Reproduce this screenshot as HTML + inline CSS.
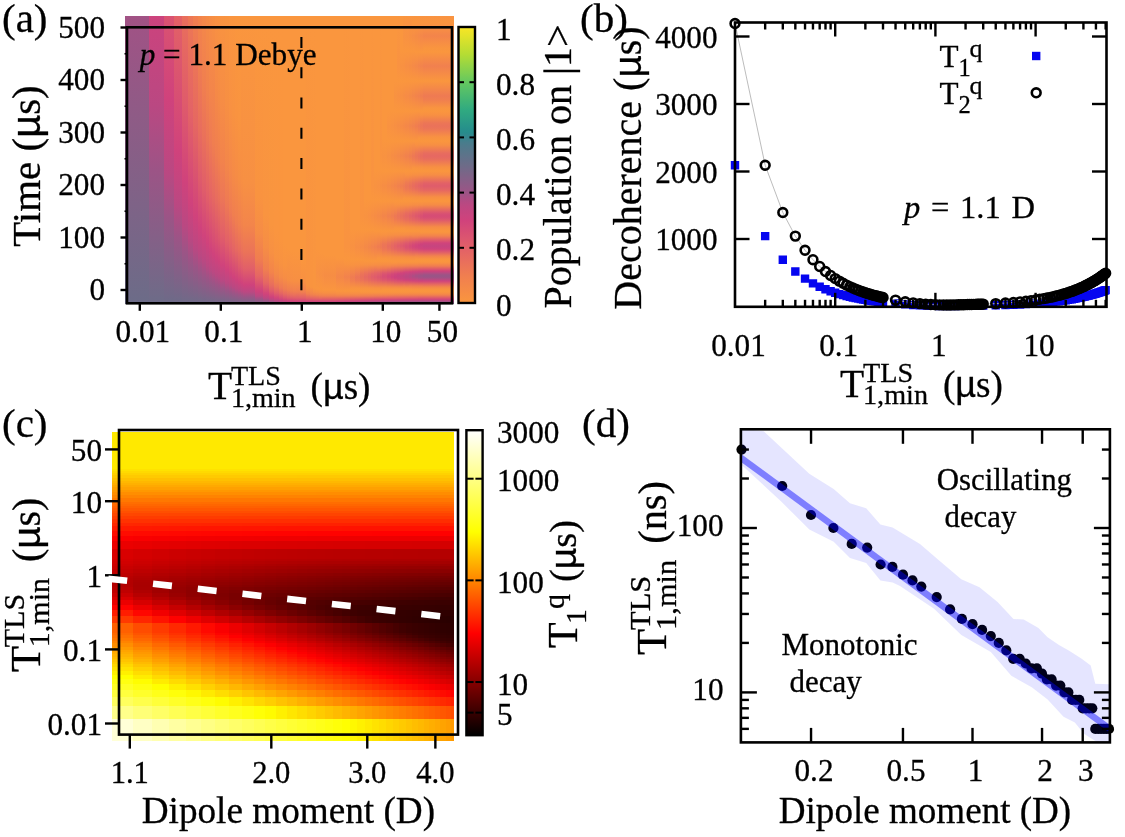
<!DOCTYPE html>
<html lang="en">
<head>
<meta charset="utf-8">
<title>Qubit decoherence versus TLS relaxation time</title>
<style>
html,body{margin:0;padding:0;background:#fff}
svg{display:block}
text{font-family:"Liberation Serif", "Times New Roman", Times, serif;fill:#000;stroke:#000;stroke-width:0.3px}
.mu{font-family:"Liberation Sans", "DejaVu Sans", sans-serif;font-size:0.97em}

</style>
</head>
<body>
<svg width="1125" height="837" viewBox="0 0 1125 837">
<defs>
<linearGradient id="a0" x1="0" y1="0" x2="0" y2="1"><stop offset="0" stop-color="#a15285"/><stop offset="1" stop-color="#6c6c88"/></linearGradient>
<linearGradient id="a1" x1="0" y1="0" x2="0" y2="1"><stop offset="0" stop-color="#cc437d"/><stop offset="0.3125" stop-color="#ba4882"/><stop offset="0.5347" stop-color="#9c5486"/><stop offset="1" stop-color="#6d6c88"/></linearGradient>
<linearGradient id="a2" x1="0" y1="0" x2="0" y2="1"><stop offset="0" stop-color="#da5371"/><stop offset="0.2882" stop-color="#d0427c"/><stop offset="0.5451" stop-color="#ba4882"/><stop offset="0.6944" stop-color="#9c5486"/><stop offset="1" stop-color="#6d6b88"/></linearGradient>
<linearGradient id="a3" x1="0" y1="0" x2="0" y2="1"><stop offset="0" stop-color="#e36266"/><stop offset="0.4688" stop-color="#d0427c"/><stop offset="0.5938" stop-color="#c24680"/><stop offset="0.6597" stop-color="#ba4882"/><stop offset="0.7708" stop-color="#9c5486"/><stop offset="1" stop-color="#6d6b88"/></linearGradient>
<linearGradient id="a4" x1="0" y1="0" x2="0" y2="1"><stop offset="0" stop-color="#e96f5c"/><stop offset="0.3021" stop-color="#df5b6b"/><stop offset="0.5764" stop-color="#d0427c"/><stop offset="0.7292" stop-color="#ba4882"/><stop offset="0.8194" stop-color="#9c5486"/><stop offset="1" stop-color="#6e6b88"/></linearGradient>
<linearGradient id="a5" x1="0" y1="0" x2="0" y2="1"><stop offset="0" stop-color="#ed7855"/><stop offset="0.3438" stop-color="#e36267"/><stop offset="0.6493" stop-color="#d0427c"/><stop offset="0.7743" stop-color="#ba4882"/><stop offset="0.8507" stop-color="#9c5486"/><stop offset="1" stop-color="#6e6b88"/></linearGradient>
<linearGradient id="a6" x1="0" y1="0" x2="0" y2="1"><stop offset="0" stop-color="#f17f4f"/><stop offset="0.3785" stop-color="#e56762"/><stop offset="0.6979" stop-color="#d0427c"/><stop offset="0.809" stop-color="#ba4882"/><stop offset="0.8715" stop-color="#9c5486"/><stop offset="1" stop-color="#6e6b88"/></linearGradient>
<linearGradient id="a7" x1="0" y1="0" x2="0" y2="1"><stop offset="0" stop-color="#f3844b"/><stop offset="0.1771" stop-color="#ef7d51"/><stop offset="0.3993" stop-color="#e86d5e"/><stop offset="0.5764" stop-color="#de5a6c"/><stop offset="0.7361" stop-color="#d0427c"/><stop offset="0.8333" stop-color="#ba4882"/><stop offset="0.8889" stop-color="#9c5486"/><stop offset="1" stop-color="#6f6b88"/></linearGradient>
<linearGradient id="a8" x1="0" y1="0" x2="0" y2="1"><stop offset="0" stop-color="#f48849"/><stop offset="0.25" stop-color="#f07e50"/><stop offset="0.4167" stop-color="#ea715a"/><stop offset="0.6007" stop-color="#e05d6a"/><stop offset="0.7639" stop-color="#d0437c"/><stop offset="0.8507" stop-color="#ba4882"/><stop offset="0.9028" stop-color="#9c5486"/><stop offset="1" stop-color="#6f6a88"/></linearGradient>
<linearGradient id="a9" x1="0" y1="0" x2="0" y2="1"><stop offset="0" stop-color="#f58b46"/><stop offset="0.2708" stop-color="#f1814e"/><stop offset="0.434" stop-color="#ec7557"/><stop offset="0.625" stop-color="#e25f69"/><stop offset="0.7882" stop-color="#d0427c"/><stop offset="0.8681" stop-color="#ba4882"/><stop offset="0.9132" stop-color="#9b5486"/><stop offset="1" stop-color="#706a88"/></linearGradient>
<linearGradient id="a10" x1="0" y1="0" x2="0" y2="1"><stop offset="0" stop-color="#f68d45"/><stop offset="0.2604" stop-color="#f3854b"/><stop offset="0.441" stop-color="#ee7a54"/><stop offset="0.6285" stop-color="#e46465"/><stop offset="0.7917" stop-color="#d34679"/><stop offset="0.8125" stop-color="#cf427c"/><stop offset="0.8785" stop-color="#bb4882"/><stop offset="0.9201" stop-color="#9c5486"/><stop offset="1" stop-color="#706a88"/></linearGradient>
<linearGradient id="a11" x1="0" y1="0" x2="0" y2="1"><stop offset="0" stop-color="#f78f43"/><stop offset="0.441" stop-color="#f07e50"/><stop offset="0.625" stop-color="#e66961"/><stop offset="0.7812" stop-color="#d64d75"/><stop offset="0.8264" stop-color="#d0427c"/><stop offset="0.8889" stop-color="#bb4882"/><stop offset="0.9271" stop-color="#9c5486"/><stop offset="1" stop-color="#706a88"/></linearGradient>
<linearGradient id="a12" x1="0" y1="0" x2="0" y2="1"><stop offset="0" stop-color="#f89142"/><stop offset="0.2708" stop-color="#f58947"/><stop offset="0.4826" stop-color="#f07e50"/><stop offset="0.6389" stop-color="#e76c5f"/><stop offset="0.7743" stop-color="#da5271"/><stop offset="0.8403" stop-color="#d0427c"/><stop offset="0.8993" stop-color="#ba4882"/><stop offset="0.934" stop-color="#9c5486"/><stop offset="1" stop-color="#716a88"/></linearGradient>
<linearGradient id="a13" x1="0" y1="0" x2="0" y2="1"><stop offset="0" stop-color="#f89241"/><stop offset="0.2847" stop-color="#f58b46"/><stop offset="0.5035" stop-color="#f17f4f"/><stop offset="0.6424" stop-color="#e96f5c"/><stop offset="0.7674" stop-color="#dd586d"/><stop offset="0.8507" stop-color="#d0427c"/><stop offset="0.9062" stop-color="#ba4882"/><stop offset="0.9375" stop-color="#9d5386"/><stop offset="1" stop-color="#716a88"/></linearGradient>
<linearGradient id="a14" x1="0" y1="0" x2="0" y2="1"><stop offset="0" stop-color="#f99340"/><stop offset="0.2882" stop-color="#f68d45"/><stop offset="0.5" stop-color="#f2834c"/><stop offset="0.6319" stop-color="#ec7657"/><stop offset="0.7639" stop-color="#e15e69"/><stop offset="0.8646" stop-color="#d0437c"/><stop offset="0.9097" stop-color="#bd4781"/><stop offset="0.9167" stop-color="#ba4882"/><stop offset="0.9444" stop-color="#9d5486"/><stop offset="1" stop-color="#716988"/></linearGradient>
<linearGradient id="a15" x1="0" y1="0" x2="0" y2="1"><stop offset="0" stop-color="#f9943f"/><stop offset="0.3056" stop-color="#f78f43"/><stop offset="0.5208" stop-color="#f3864a"/><stop offset="0.6528" stop-color="#ee7954"/><stop offset="0.7847" stop-color="#e26068"/><stop offset="0.8819" stop-color="#d0427c"/><stop offset="0.9167" stop-color="#bf4781"/><stop offset="0.9271" stop-color="#ba4882"/><stop offset="0.9514" stop-color="#9d5486"/><stop offset="1" stop-color="#726988"/></linearGradient>
<linearGradient id="a16" x1="0" y1="0" x2="0" y2="1"><stop offset="0" stop-color="#fa953f"/><stop offset="0.3229" stop-color="#f89142"/><stop offset="0.5417" stop-color="#f48849"/><stop offset="0.6736" stop-color="#ef7c52"/><stop offset="0.8056" stop-color="#e26068"/><stop offset="0.8958" stop-color="#d0427c"/><stop offset="0.934" stop-color="#ba4882"/><stop offset="0.9583" stop-color="#9b5486"/><stop offset="1" stop-color="#736988"/></linearGradient>
<linearGradient id="a17" x1="0" y1="0" x2="0" y2="1"><stop offset="0" stop-color="#fa953f"/><stop offset="0.3403" stop-color="#f89241"/><stop offset="0.5556" stop-color="#f58a47"/><stop offset="0.691" stop-color="#f07e50"/><stop offset="0.816" stop-color="#e36366"/><stop offset="0.9062" stop-color="#d0427c"/><stop offset="0.9236" stop-color="#c5457f"/><stop offset="0.941" stop-color="#ba4882"/><stop offset="0.9618" stop-color="#9d5486"/><stop offset="1" stop-color="#736888"/></linearGradient>
<linearGradient id="a18" x1="0" y1="0" x2="0" y2="1"><stop offset="0" stop-color="#fa963e"/><stop offset="0.3438" stop-color="#f99340"/><stop offset="0.5556" stop-color="#f68c45"/><stop offset="0.7153" stop-color="#f07e50"/><stop offset="0.8125" stop-color="#e66961"/><stop offset="0.9167" stop-color="#ce427c"/><stop offset="0.9479" stop-color="#b94982"/><stop offset="0.9653" stop-color="#9d5486"/><stop offset="1" stop-color="#746888"/></linearGradient>
<linearGradient id="a19" x1="0" y1="0" x2="0" y2="1"><stop offset="0" stop-color="#fa963e"/><stop offset="0.3576" stop-color="#f99440"/><stop offset="0.566" stop-color="#f68e44"/><stop offset="0.7257" stop-color="#f1804f"/><stop offset="0.816" stop-color="#e86c5e"/><stop offset="0.8681" stop-color="#df5b6b"/><stop offset="0.9236" stop-color="#cf427c"/><stop offset="0.9514" stop-color="#ba4882"/><stop offset="0.9688" stop-color="#9d5486"/><stop offset="1" stop-color="#756888"/></linearGradient>
<linearGradient id="a20" x1="0" y1="0" x2="0" y2="1"><stop offset="0" stop-color="#fa963e"/><stop offset="0.5694" stop-color="#f78f43"/><stop offset="0.7222" stop-color="#f2834c"/><stop offset="0.816" stop-color="#ea715b"/><stop offset="0.875" stop-color="#e05c6b"/><stop offset="0.9271" stop-color="#d0427c"/><stop offset="0.9549" stop-color="#bb4882"/><stop offset="0.9722" stop-color="#9c5486"/><stop offset="1" stop-color="#766788"/></linearGradient>
<linearGradient id="a21" x1="0" y1="0" x2="0" y2="1"><stop offset="0" stop-color="#fa963e"/><stop offset="0.5799" stop-color="#f79043"/><stop offset="0.7257" stop-color="#f3854b"/><stop offset="0.8194" stop-color="#eb7358"/><stop offset="0.8785" stop-color="#e15f69"/><stop offset="0.934" stop-color="#cf427c"/><stop offset="0.9583" stop-color="#bb4882"/><stop offset="0.9757" stop-color="#9a5586"/><stop offset="1" stop-color="#766788"/></linearGradient>
<linearGradient id="a22" x1="0" y1="0" x2="0" y2="1"><stop offset="0" stop-color="#fa963e"/><stop offset="0.6285" stop-color="#f99340"/><stop offset="0.7535" stop-color="#f68c46"/><stop offset="0.8438" stop-color="#f07d50"/><stop offset="0.9028" stop-color="#e56664"/><stop offset="0.9549" stop-color="#cf427c"/><stop offset="0.9722" stop-color="#bb4882"/><stop offset="0.9826" stop-color="#9e5386"/><stop offset="1" stop-color="#7a6587"/></linearGradient>
<linearGradient id="a23" x1="0" y1="0" x2="0" y2="1"><stop offset="0" stop-color="#fa963e"/><stop offset="0.691" stop-color="#f99440"/><stop offset="0.8021" stop-color="#f68d45"/><stop offset="0.8785" stop-color="#f07f4f"/><stop offset="0.9271" stop-color="#e56663"/><stop offset="0.9653" stop-color="#d1437b"/><stop offset="0.9792" stop-color="#bd4781"/><stop offset="0.9896" stop-color="#9a5586"/><stop offset="1" stop-color="#7f6387"/></linearGradient>
<linearGradient id="a24" x1="0" y1="0" x2="0" y2="1"><stop offset="0" stop-color="#fa963e"/><stop offset="0.7257" stop-color="#f9953f"/><stop offset="0.8229" stop-color="#f79043"/><stop offset="0.8889" stop-color="#f3844b"/><stop offset="0.934" stop-color="#e86e5d"/><stop offset="0.9549" stop-color="#df5b6b"/><stop offset="0.9722" stop-color="#d24679"/><stop offset="0.9757" stop-color="#ce427c"/><stop offset="0.9861" stop-color="#ba4882"/><stop offset="0.9931" stop-color="#9a5586"/><stop offset="1" stop-color="#836087"/></linearGradient>
<linearGradient id="a25" x1="0" y1="0" x2="0" y2="1"><stop offset="0" stop-color="#fa963e"/><stop offset="0.75" stop-color="#fa953f"/><stop offset="0.8403" stop-color="#f89241"/><stop offset="0.8958" stop-color="#f48948"/><stop offset="0.9236" stop-color="#f07f4f"/><stop offset="0.941" stop-color="#eb7359"/><stop offset="0.9618" stop-color="#e15e69"/><stop offset="0.9792" stop-color="#d2457a"/><stop offset="0.9896" stop-color="#ba4882"/><stop offset="1" stop-color="#885e87"/></linearGradient>
<linearGradient id="a26" x1="0" y1="0" x2="0" y2="1"><stop offset="0" stop-color="#fa963e"/><stop offset="0.7778" stop-color="#fa953e"/><stop offset="0.8576" stop-color="#f89241"/><stop offset="0.9062" stop-color="#f58b47"/><stop offset="0.9444" stop-color="#ee7954"/><stop offset="0.9618" stop-color="#e56762"/><stop offset="0.9792" stop-color="#d64d75"/><stop offset="0.9861" stop-color="#cc437d"/><stop offset="0.9896" stop-color="#c24680"/><stop offset="0.9931" stop-color="#b54a83"/><stop offset="0.9965" stop-color="#9e5386"/><stop offset="1" stop-color="#8d5c87"/></linearGradient>
<linearGradient id="a27" x1="0" y1="0" x2="0" y2="1"><stop offset="0" stop-color="#fa963e"/><stop offset="0.7917" stop-color="#fa963e"/><stop offset="0.8646" stop-color="#f99340"/><stop offset="0.9097" stop-color="#f68d45"/><stop offset="0.9479" stop-color="#ef7d51"/><stop offset="0.9653" stop-color="#e76a60"/><stop offset="0.9792" stop-color="#db5470"/><stop offset="0.9861" stop-color="#d2457a"/><stop offset="0.9931" stop-color="#bd4781"/><stop offset="1" stop-color="#915986"/></linearGradient>
<linearGradient id="a28" x1="0" y1="0" x2="0" y2="1"><stop offset="0" stop-color="#fa963e"/><stop offset="0.8056" stop-color="#fa963e"/><stop offset="0.9167" stop-color="#f68e44"/><stop offset="0.9514" stop-color="#f07e50"/><stop offset="0.9653" stop-color="#e96f5c"/><stop offset="0.9792" stop-color="#de596d"/><stop offset="0.9896" stop-color="#ce437d"/><stop offset="0.9931" stop-color="#c24680"/><stop offset="0.9965" stop-color="#af4c83"/><stop offset="1" stop-color="#955886"/></linearGradient>
<linearGradient id="a29" x1="0" y1="0" x2="0" y2="1"><stop offset="0" stop-color="#fa963e"/><stop offset="0.8125" stop-color="#fa963e"/><stop offset="0.9201" stop-color="#f78e44"/><stop offset="0.9549" stop-color="#f07e50"/><stop offset="0.9688" stop-color="#e96e5d"/><stop offset="0.9792" stop-color="#e05c6a"/><stop offset="0.9896" stop-color="#d1447b"/><stop offset="0.9931" stop-color="#c5457f"/><stop offset="0.9965" stop-color="#b44a83"/><stop offset="1" stop-color="#975686"/></linearGradient>
<linearGradient id="a30" x1="0" y1="0" x2="0" y2="1"><stop offset="0" stop-color="#fa963e"/><stop offset="0.816" stop-color="#fa963e"/><stop offset="0.9201" stop-color="#f78f43"/><stop offset="0.9549" stop-color="#f1804f"/><stop offset="0.9688" stop-color="#ea705b"/><stop offset="0.9792" stop-color="#e15e69"/><stop offset="0.9896" stop-color="#d2457a"/><stop offset="0.9931" stop-color="#c7447e"/><stop offset="0.9965" stop-color="#b84982"/><stop offset="1" stop-color="#995686"/></linearGradient>
<linearGradient id="a31" x1="0" y1="0" x2="0" y2="1"><stop offset="0" stop-color="#fa963e"/><stop offset="0.816" stop-color="#fa963e"/><stop offset="0.9201" stop-color="#f78f43"/><stop offset="0.9583" stop-color="#f07d50"/><stop offset="0.9792" stop-color="#e15f69"/><stop offset="0.9896" stop-color="#d24679"/><stop offset="0.9931" stop-color="#c8447e"/><stop offset="0.9965" stop-color="#b94982"/><stop offset="1" stop-color="#995586"/></linearGradient>
<linearGradient id="a32" x1="0" y1="0" x2="0" y2="1"><stop offset="0" stop-color="#fa963e"/><stop offset="0.816" stop-color="#fa963e"/><stop offset="0.9201" stop-color="#f78f43"/><stop offset="0.9549" stop-color="#f1804f"/><stop offset="0.9688" stop-color="#ea705b"/><stop offset="0.9792" stop-color="#e15f69"/><stop offset="0.9896" stop-color="#d2457a"/><stop offset="0.9931" stop-color="#c7447e"/><stop offset="0.9965" stop-color="#b84982"/><stop offset="1" stop-color="#995686"/></linearGradient>
<linearGradient id="a33" x1="0" y1="0" x2="0" y2="1"><stop offset="0" stop-color="#fa963e"/><stop offset="0.8438" stop-color="#fa963e"/><stop offset="0.9236" stop-color="#f89042"/><stop offset="0.9583" stop-color="#f17f4f"/><stop offset="0.9792" stop-color="#e25f68"/><stop offset="0.9896" stop-color="#d2457a"/><stop offset="0.9931" stop-color="#c7447e"/><stop offset="0.9965" stop-color="#b74982"/><stop offset="1" stop-color="#985686"/></linearGradient>
<linearGradient id="a34" x1="0" y1="0" x2="0" y2="1"><stop offset="0" stop-color="#fa963e"/><stop offset="0.934" stop-color="#f99340"/><stop offset="0.9514" stop-color="#f68c45"/><stop offset="0.9653" stop-color="#f17f4f"/><stop offset="0.9826" stop-color="#e05c6b"/><stop offset="0.9896" stop-color="#d34778"/><stop offset="0.9931" stop-color="#c8447e"/><stop offset="0.9965" stop-color="#b74982"/><stop offset="1" stop-color="#975686"/></linearGradient>
<linearGradient id="a35" x1="0" y1="0" x2="0" y2="1"><stop offset="0" stop-color="#fa963e"/><stop offset="0.941" stop-color="#f9943f"/><stop offset="0.9653" stop-color="#f2844c"/><stop offset="0.9722" stop-color="#ed7855"/><stop offset="0.9826" stop-color="#e15e69"/><stop offset="0.9896" stop-color="#d44878"/><stop offset="0.9931" stop-color="#c8447e"/><stop offset="0.9965" stop-color="#b64a83"/><stop offset="1" stop-color="#965786"/></linearGradient>
<linearGradient id="a36" x1="0" y1="0" x2="0" y2="1"><stop offset="0" stop-color="#fa963e"/><stop offset="0.9444" stop-color="#f9953f"/><stop offset="0.9583" stop-color="#f68e44"/><stop offset="0.9688" stop-color="#f1814d"/><stop offset="0.9826" stop-color="#e26068"/><stop offset="0.9896" stop-color="#d44978"/><stop offset="0.9931" stop-color="#c8447e"/><stop offset="0.9965" stop-color="#b54a83"/><stop offset="1" stop-color="#955786"/></linearGradient>
<linearGradient id="a37" x1="0" y1="0" x2="0" y2="1"><stop offset="0" stop-color="#fa963e"/><stop offset="0.809" stop-color="#fa963e"/><stop offset="0.8924" stop-color="#f89142"/><stop offset="0.9479" stop-color="#f9953f"/><stop offset="0.9583" stop-color="#f78f43"/><stop offset="0.9688" stop-color="#f2834c"/><stop offset="0.9826" stop-color="#e26167"/><stop offset="0.9896" stop-color="#d44978"/><stop offset="0.9931" stop-color="#c8447e"/><stop offset="0.9965" stop-color="#b44b83"/><stop offset="1" stop-color="#945886"/></linearGradient>
<linearGradient id="a38" x1="0" y1="0" x2="0" y2="1"><stop offset="0" stop-color="#fa963e"/><stop offset="0.8194" stop-color="#fa963e"/><stop offset="0.8958" stop-color="#f79043"/><stop offset="0.9479" stop-color="#fa953e"/><stop offset="0.9583" stop-color="#f89042"/><stop offset="0.9688" stop-color="#f3854b"/><stop offset="0.9757" stop-color="#ec7656"/><stop offset="0.9826" stop-color="#e36267"/><stop offset="0.9896" stop-color="#d44978"/><stop offset="0.9931" stop-color="#c7447e"/><stop offset="0.9965" stop-color="#b24b83"/><stop offset="1" stop-color="#945886"/></linearGradient>
<linearGradient id="a39" x1="0" y1="0" x2="0" y2="1"><stop offset="0" stop-color="#fa963e"/><stop offset="0.8229" stop-color="#fa963e"/><stop offset="0.8993" stop-color="#f78f44"/><stop offset="0.9514" stop-color="#fa953f"/><stop offset="0.9618" stop-color="#f78e44"/><stop offset="0.9722" stop-color="#f1804f"/><stop offset="0.9861" stop-color="#dc566f"/><stop offset="0.9896" stop-color="#d44978"/><stop offset="0.9931" stop-color="#c7447e"/><stop offset="0.9965" stop-color="#b14c83"/><stop offset="1" stop-color="#935986"/></linearGradient>
<linearGradient id="a40" x1="0" y1="0" x2="0" y2="1"><stop offset="0" stop-color="#fa963e"/><stop offset="0.8299" stop-color="#fa963e"/><stop offset="0.9028" stop-color="#f68d44"/><stop offset="0.9514" stop-color="#fa953f"/><stop offset="0.9618" stop-color="#f78f43"/><stop offset="0.9722" stop-color="#f1804e"/><stop offset="0.9861" stop-color="#dc566f"/><stop offset="0.9896" stop-color="#d44878"/><stop offset="0.9931" stop-color="#c7457f"/><stop offset="0.9965" stop-color="#b04c83"/><stop offset="1" stop-color="#925986"/></linearGradient>
<linearGradient id="a41" x1="0" y1="0" x2="0" y2="1"><stop offset="0" stop-color="#fa963e"/><stop offset="0.8403" stop-color="#fa963e"/><stop offset="0.9062" stop-color="#f48749"/><stop offset="0.9549" stop-color="#fa953f"/><stop offset="0.9653" stop-color="#f68d45"/><stop offset="0.9722" stop-color="#f1814d"/><stop offset="0.9861" stop-color="#db5470"/><stop offset="0.9896" stop-color="#d24679"/><stop offset="0.9931" stop-color="#c3457f"/><stop offset="1" stop-color="#8e5b87"/></linearGradient>
<linearGradient id="a42" x1="0" y1="0" x2="0" y2="1"><stop offset="0" stop-color="#fa963e"/><stop offset="0.7986" stop-color="#f99340"/><stop offset="0.8438" stop-color="#fa963e"/><stop offset="0.8611" stop-color="#f99340"/><stop offset="0.9062" stop-color="#f2824d"/><stop offset="0.9549" stop-color="#fa963e"/><stop offset="0.9653" stop-color="#f68d45"/><stop offset="0.9722" stop-color="#f1814e"/><stop offset="0.9861" stop-color="#d95272"/><stop offset="0.9896" stop-color="#d1437b"/><stop offset="0.9931" stop-color="#c04680"/><stop offset="1" stop-color="#8b5c87"/></linearGradient>
<linearGradient id="a43" x1="0" y1="0" x2="0" y2="1"><stop offset="0" stop-color="#fa963e"/><stop offset="0.7396" stop-color="#fa963e"/><stop offset="0.7986" stop-color="#f89142"/><stop offset="0.8472" stop-color="#fa963e"/><stop offset="0.8646" stop-color="#f89241"/><stop offset="0.9062" stop-color="#ef7c52"/><stop offset="0.9201" stop-color="#f1804e"/><stop offset="0.9444" stop-color="#f99340"/><stop offset="0.9549" stop-color="#fa963e"/><stop offset="0.9653" stop-color="#f68d45"/><stop offset="0.9722" stop-color="#f1804e"/><stop offset="0.9861" stop-color="#d84f73"/><stop offset="0.9896" stop-color="#ce427c"/><stop offset="0.9931" stop-color="#bd4781"/><stop offset="0.9965" stop-color="#9d5486"/><stop offset="1" stop-color="#895e87"/></linearGradient>
<linearGradient id="a44" x1="0" y1="0" x2="0" y2="1"><stop offset="0" stop-color="#fa963e"/><stop offset="0.7396" stop-color="#fa963e"/><stop offset="0.8021" stop-color="#f78e44"/><stop offset="0.8472" stop-color="#fa963e"/><stop offset="0.8646" stop-color="#f89142"/><stop offset="0.9062" stop-color="#ec7557"/><stop offset="0.9167" stop-color="#ed7854"/><stop offset="0.9444" stop-color="#f99340"/><stop offset="0.9549" stop-color="#fa963e"/><stop offset="0.9653" stop-color="#f68d45"/><stop offset="0.9722" stop-color="#f1804f"/><stop offset="0.9861" stop-color="#d64d75"/><stop offset="0.9896" stop-color="#cb437d"/><stop offset="0.9931" stop-color="#ba4882"/><stop offset="0.9965" stop-color="#9a5586"/><stop offset="1" stop-color="#865f87"/></linearGradient>
<linearGradient id="a45" x1="0" y1="0" x2="0" y2="1"><stop offset="0" stop-color="#fa963e"/><stop offset="0.6944" stop-color="#f99340"/><stop offset="0.7431" stop-color="#fa963e"/><stop offset="0.8021" stop-color="#f68c46"/><stop offset="0.8472" stop-color="#fa963e"/><stop offset="0.8646" stop-color="#f89042"/><stop offset="0.8958" stop-color="#eb7358"/><stop offset="0.9062" stop-color="#e96f5c"/><stop offset="0.9167" stop-color="#eb7359"/><stop offset="0.9444" stop-color="#f89241"/><stop offset="0.9549" stop-color="#fa963e"/><stop offset="0.9618" stop-color="#f89141"/><stop offset="0.9722" stop-color="#f07f4f"/><stop offset="0.9861" stop-color="#d54b76"/><stop offset="0.9896" stop-color="#c9447e"/><stop offset="0.9931" stop-color="#b54a83"/><stop offset="0.9965" stop-color="#975686"/><stop offset="1" stop-color="#846087"/></linearGradient>
<linearGradient id="a46" x1="0" y1="0" x2="0" y2="1"><stop offset="0" stop-color="#fa963e"/><stop offset="0.6389" stop-color="#fa963e"/><stop offset="0.6944" stop-color="#f89241"/><stop offset="0.7431" stop-color="#fa963e"/><stop offset="0.8021" stop-color="#f48948"/><stop offset="0.8507" stop-color="#fa963e"/><stop offset="0.8646" stop-color="#f79043"/><stop offset="0.8958" stop-color="#e96e5d"/><stop offset="0.9062" stop-color="#e66961"/><stop offset="0.9167" stop-color="#e86e5d"/><stop offset="0.9444" stop-color="#f89241"/><stop offset="0.9549" stop-color="#fa963e"/><stop offset="0.9618" stop-color="#f89141"/><stop offset="0.9722" stop-color="#f07e50"/><stop offset="0.9861" stop-color="#d44977"/><stop offset="0.9896" stop-color="#c7447e"/><stop offset="0.9931" stop-color="#b14b83"/><stop offset="0.9965" stop-color="#955886"/><stop offset="1" stop-color="#836187"/></linearGradient>
<linearGradient id="a47" x1="0" y1="0" x2="0" y2="1"><stop offset="0" stop-color="#fa963e"/><stop offset="0.6389" stop-color="#fa963e"/><stop offset="0.6944" stop-color="#f89042"/><stop offset="0.7431" stop-color="#fa963e"/><stop offset="0.8021" stop-color="#f3864a"/><stop offset="0.8507" stop-color="#fa963e"/><stop offset="0.8646" stop-color="#f78f43"/><stop offset="0.8958" stop-color="#e66961"/><stop offset="0.9062" stop-color="#e46465"/><stop offset="0.9167" stop-color="#e66960"/><stop offset="0.9444" stop-color="#f89142"/><stop offset="0.9549" stop-color="#fa963e"/><stop offset="0.9618" stop-color="#f89141"/><stop offset="0.9722" stop-color="#f07e50"/><stop offset="0.9861" stop-color="#d34878"/><stop offset="0.9896" stop-color="#c5457f"/><stop offset="0.9965" stop-color="#935886"/><stop offset="1" stop-color="#826187"/></linearGradient>
<linearGradient id="a48" x1="0" y1="0" x2="0" y2="1"><stop offset="0" stop-color="#fa963e"/><stop offset="0.5903" stop-color="#f99340"/><stop offset="0.6389" stop-color="#fa963e"/><stop offset="0.6944" stop-color="#f78e44"/><stop offset="0.7431" stop-color="#fa963e"/><stop offset="0.8021" stop-color="#f2834d"/><stop offset="0.8507" stop-color="#fa963e"/><stop offset="0.8646" stop-color="#f78f44"/><stop offset="0.8958" stop-color="#e46465"/><stop offset="0.9062" stop-color="#e15f69"/><stop offset="0.9167" stop-color="#e46564"/><stop offset="0.9444" stop-color="#f89142"/><stop offset="0.9549" stop-color="#fa963e"/><stop offset="0.9618" stop-color="#f89142"/><stop offset="0.9722" stop-color="#f07d51"/><stop offset="0.9861" stop-color="#d34779"/><stop offset="0.9896" stop-color="#c4457f"/><stop offset="0.9965" stop-color="#925986"/><stop offset="1" stop-color="#816287"/></linearGradient>
<linearGradient id="a49" x1="0" y1="0" x2="0" y2="1"><stop offset="0" stop-color="#fa963e"/><stop offset="0.5347" stop-color="#fa963e"/><stop offset="0.5903" stop-color="#f89241"/><stop offset="0.6389" stop-color="#fa963e"/><stop offset="0.6944" stop-color="#f68c45"/><stop offset="0.7465" stop-color="#fa963e"/><stop offset="0.8021" stop-color="#f1804f"/><stop offset="0.8507" stop-color="#fa963e"/><stop offset="0.8646" stop-color="#f78e44"/><stop offset="0.8924" stop-color="#e46465"/><stop offset="0.9062" stop-color="#df5b6c"/><stop offset="0.9167" stop-color="#e36267"/><stop offset="0.9444" stop-color="#f89042"/><stop offset="0.9549" stop-color="#fa963e"/><stop offset="0.9618" stop-color="#f89142"/><stop offset="0.9722" stop-color="#ef7d51"/><stop offset="0.9861" stop-color="#d2457a"/><stop offset="0.9896" stop-color="#c24680"/><stop offset="0.9965" stop-color="#905a86"/><stop offset="1" stop-color="#806287"/></linearGradient>
<linearGradient id="a50" x1="0" y1="0" x2="0" y2="1"><stop offset="0" stop-color="#fa963e"/><stop offset="0.5347" stop-color="#fa963e"/><stop offset="0.5903" stop-color="#f89142"/><stop offset="0.6389" stop-color="#fa963e"/><stop offset="0.6944" stop-color="#f58a47"/><stop offset="0.7465" stop-color="#fa963e"/><stop offset="0.8021" stop-color="#ef7c51"/><stop offset="0.8403" stop-color="#f99440"/><stop offset="0.8507" stop-color="#fa963e"/><stop offset="0.8646" stop-color="#f68e44"/><stop offset="0.875" stop-color="#f1804f"/><stop offset="0.8924" stop-color="#e26168"/><stop offset="0.9062" stop-color="#dc576e"/><stop offset="0.9167" stop-color="#e15e69"/><stop offset="0.9444" stop-color="#f89042"/><stop offset="0.9549" stop-color="#fa963e"/><stop offset="0.9618" stop-color="#f89142"/><stop offset="0.9722" stop-color="#ef7c52"/><stop offset="0.9861" stop-color="#d2457a"/><stop offset="0.9896" stop-color="#c14680"/><stop offset="0.9965" stop-color="#8f5a87"/><stop offset="1" stop-color="#7f6387"/></linearGradient>
<linearGradient id="a51" x1="0" y1="0" x2="0" y2="1"><stop offset="0" stop-color="#fa963e"/><stop offset="0.4861" stop-color="#f99340"/><stop offset="0.5347" stop-color="#fa963e"/><stop offset="0.5903" stop-color="#f78f43"/><stop offset="0.6424" stop-color="#fa963e"/><stop offset="0.6944" stop-color="#f48848"/><stop offset="0.7465" stop-color="#fa963e"/><stop offset="0.7604" stop-color="#f89141"/><stop offset="0.7917" stop-color="#ef7b52"/><stop offset="0.8021" stop-color="#ee7954"/><stop offset="0.8403" stop-color="#f99340"/><stop offset="0.8507" stop-color="#fa963e"/><stop offset="0.8646" stop-color="#f68d45"/><stop offset="0.875" stop-color="#f07e50"/><stop offset="0.8924" stop-color="#e05d6a"/><stop offset="0.9062" stop-color="#da5371"/><stop offset="0.9167" stop-color="#df5b6b"/><stop offset="0.941" stop-color="#f58b46"/><stop offset="0.9549" stop-color="#fa963e"/><stop offset="0.9618" stop-color="#f89142"/><stop offset="0.9688" stop-color="#f3854b"/><stop offset="0.9757" stop-color="#e96f5c"/><stop offset="0.9861" stop-color="#d1447b"/><stop offset="0.9896" stop-color="#c04680"/><stop offset="0.9965" stop-color="#8e5b87"/><stop offset="1" stop-color="#7e6387"/></linearGradient>
<linearGradient id="a52" x1="0" y1="0" x2="0" y2="1"><stop offset="0" stop-color="#fa963e"/><stop offset="0.4306" stop-color="#fa963e"/><stop offset="0.4861" stop-color="#f89241"/><stop offset="0.5382" stop-color="#fa963e"/><stop offset="0.5903" stop-color="#f68d44"/><stop offset="0.6424" stop-color="#fa963e"/><stop offset="0.6944" stop-color="#f3854a"/><stop offset="0.7465" stop-color="#fa963e"/><stop offset="0.7604" stop-color="#f89142"/><stop offset="0.7917" stop-color="#ec7656"/><stop offset="0.8021" stop-color="#eb7458"/><stop offset="0.8125" stop-color="#ee7954"/><stop offset="0.8403" stop-color="#f99340"/><stop offset="0.8507" stop-color="#fa963e"/><stop offset="0.8646" stop-color="#f68c45"/><stop offset="0.875" stop-color="#ef7c51"/><stop offset="0.8924" stop-color="#dd586d"/><stop offset="0.8993" stop-color="#d85073"/><stop offset="0.9062" stop-color="#d74e74"/><stop offset="0.9167" stop-color="#dd576e"/><stop offset="0.941" stop-color="#f58b47"/><stop offset="0.9479" stop-color="#f99340"/><stop offset="0.9549" stop-color="#fa963e"/><stop offset="0.9618" stop-color="#f89142"/><stop offset="0.9688" stop-color="#f3844b"/><stop offset="0.9757" stop-color="#e96e5d"/><stop offset="0.9861" stop-color="#d0437c"/><stop offset="0.9896" stop-color="#bf4781"/><stop offset="0.9931" stop-color="#a25185"/><stop offset="0.9965" stop-color="#8d5c87"/><stop offset="1" stop-color="#7d6387"/></linearGradient>
<linearGradient id="a53" x1="0" y1="0" x2="0" y2="1"><stop offset="0" stop-color="#fa963e"/><stop offset="0.3299" stop-color="#fa963e"/><stop offset="0.3819" stop-color="#f99241"/><stop offset="0.434" stop-color="#fa963e"/><stop offset="0.4861" stop-color="#f79043"/><stop offset="0.5382" stop-color="#fa963e"/><stop offset="0.5903" stop-color="#f58a47"/><stop offset="0.6424" stop-color="#fa963e"/><stop offset="0.6944" stop-color="#f1814e"/><stop offset="0.7465" stop-color="#fa963e"/><stop offset="0.7604" stop-color="#f79043"/><stop offset="0.7882" stop-color="#eb7359"/><stop offset="0.7986" stop-color="#e86d5d"/><stop offset="0.809" stop-color="#ea715b"/><stop offset="0.8368" stop-color="#f79043"/><stop offset="0.8507" stop-color="#fa963e"/><stop offset="0.8646" stop-color="#f68c46"/><stop offset="0.8715" stop-color="#f1814e"/><stop offset="0.8924" stop-color="#da5371"/><stop offset="0.8993" stop-color="#d54a77"/><stop offset="0.9062" stop-color="#d44878"/><stop offset="0.9167" stop-color="#da5271"/><stop offset="0.941" stop-color="#f58a47"/><stop offset="0.9479" stop-color="#f99340"/><stop offset="0.9549" stop-color="#fa963e"/><stop offset="0.9618" stop-color="#f89142"/><stop offset="0.9688" stop-color="#f3844b"/><stop offset="0.9792" stop-color="#e25f69"/><stop offset="0.9861" stop-color="#cf427c"/><stop offset="0.9896" stop-color="#be4781"/><stop offset="0.9931" stop-color="#a05386"/><stop offset="1" stop-color="#7c6487"/></linearGradient>
<linearGradient id="a54" x1="0" y1="0" x2="0" y2="1"><stop offset="0" stop-color="#fa963e"/><stop offset="0.3299" stop-color="#fa963e"/><stop offset="0.3819" stop-color="#f89142"/><stop offset="0.434" stop-color="#fa963e"/><stop offset="0.4861" stop-color="#f68d44"/><stop offset="0.5382" stop-color="#fa963e"/><stop offset="0.5903" stop-color="#f48749"/><stop offset="0.6424" stop-color="#fa963e"/><stop offset="0.6944" stop-color="#f07d51"/><stop offset="0.7465" stop-color="#fa963e"/><stop offset="0.7604" stop-color="#f78f43"/><stop offset="0.7882" stop-color="#e86e5d"/><stop offset="0.7986" stop-color="#e66862"/><stop offset="0.809" stop-color="#e76b5f"/><stop offset="0.8368" stop-color="#f78f43"/><stop offset="0.8507" stop-color="#fa963e"/><stop offset="0.8576" stop-color="#f99340"/><stop offset="0.8681" stop-color="#f3854b"/><stop offset="0.8854" stop-color="#e05d6a"/><stop offset="0.8958" stop-color="#d44977"/><stop offset="0.9062" stop-color="#d1437b"/><stop offset="0.9167" stop-color="#d84f74"/><stop offset="0.941" stop-color="#f58947"/><stop offset="0.9479" stop-color="#f99340"/><stop offset="0.9549" stop-color="#fa963e"/><stop offset="0.9618" stop-color="#f89142"/><stop offset="0.9688" stop-color="#f2844c"/><stop offset="0.9792" stop-color="#e15e69"/><stop offset="0.9861" stop-color="#ce437d"/><stop offset="0.9896" stop-color="#bc4781"/><stop offset="0.9931" stop-color="#9e5386"/><stop offset="1" stop-color="#7c6487"/></linearGradient>
<linearGradient id="a55" x1="0" y1="0" x2="0" y2="1"><stop offset="0" stop-color="#fa963e"/><stop offset="0.2257" stop-color="#fa963e"/><stop offset="0.2778" stop-color="#f89241"/><stop offset="0.3299" stop-color="#fa963e"/><stop offset="0.3819" stop-color="#f78f43"/><stop offset="0.434" stop-color="#fa963e"/><stop offset="0.4861" stop-color="#f58b46"/><stop offset="0.5382" stop-color="#fa963e"/><stop offset="0.5903" stop-color="#f3844b"/><stop offset="0.6424" stop-color="#fa963e"/><stop offset="0.6562" stop-color="#f89142"/><stop offset="0.6944" stop-color="#ed7855"/><stop offset="0.7049" stop-color="#ef7b52"/><stop offset="0.7361" stop-color="#f99340"/><stop offset="0.7465" stop-color="#fa963e"/><stop offset="0.7604" stop-color="#f78e44"/><stop offset="0.7882" stop-color="#e66961"/><stop offset="0.7986" stop-color="#e36266"/><stop offset="0.809" stop-color="#e56663"/><stop offset="0.8368" stop-color="#f78e44"/><stop offset="0.8507" stop-color="#fa963e"/><stop offset="0.8576" stop-color="#f99341"/><stop offset="0.8681" stop-color="#f3844b"/><stop offset="0.8854" stop-color="#de596d"/><stop offset="0.8958" stop-color="#d2457a"/><stop offset="0.9028" stop-color="#cc437d"/><stop offset="0.9097" stop-color="#cf427c"/><stop offset="0.9201" stop-color="#da5371"/><stop offset="0.941" stop-color="#f58948"/><stop offset="0.9479" stop-color="#f99340"/><stop offset="0.9549" stop-color="#fa963e"/><stop offset="0.9618" stop-color="#f89142"/><stop offset="0.9688" stop-color="#f2834c"/><stop offset="0.9792" stop-color="#e15e6a"/><stop offset="0.9861" stop-color="#cd437d"/><stop offset="0.9896" stop-color="#bb4882"/><stop offset="0.9931" stop-color="#9c5486"/><stop offset="1" stop-color="#7b6587"/></linearGradient>
<linearGradient id="a56" x1="0" y1="0" x2="0" y2="1"><stop offset="0" stop-color="#fa963e"/><stop offset="0.1736" stop-color="#f99241"/><stop offset="0.2257" stop-color="#fa963e"/><stop offset="0.2778" stop-color="#f89042"/><stop offset="0.3299" stop-color="#fa963e"/><stop offset="0.3819" stop-color="#f68d44"/><stop offset="0.434" stop-color="#fa963e"/><stop offset="0.4861" stop-color="#f48948"/><stop offset="0.5382" stop-color="#fa963e"/><stop offset="0.5903" stop-color="#f1814e"/><stop offset="0.6424" stop-color="#fa963e"/><stop offset="0.6562" stop-color="#f89142"/><stop offset="0.684" stop-color="#ed7855"/><stop offset="0.6944" stop-color="#eb7458"/><stop offset="0.7049" stop-color="#ed7756"/><stop offset="0.7361" stop-color="#f99340"/><stop offset="0.7465" stop-color="#fa963e"/><stop offset="0.7604" stop-color="#f78e44"/><stop offset="0.7882" stop-color="#e46564"/><stop offset="0.7986" stop-color="#e05d6a"/><stop offset="0.8125" stop-color="#e56663"/><stop offset="0.8368" stop-color="#f78e44"/><stop offset="0.8507" stop-color="#fa963e"/><stop offset="0.8576" stop-color="#f89241"/><stop offset="0.8681" stop-color="#f2834c"/><stop offset="0.8924" stop-color="#d34779"/><stop offset="0.8958" stop-color="#cf427c"/><stop offset="0.9028" stop-color="#c7447e"/><stop offset="0.9132" stop-color="#d0427c"/><stop offset="0.9236" stop-color="#de596c"/><stop offset="0.941" stop-color="#f48948"/><stop offset="0.9479" stop-color="#f99340"/><stop offset="0.9549" stop-color="#fa963e"/><stop offset="0.9618" stop-color="#f89142"/><stop offset="0.9688" stop-color="#f2834c"/><stop offset="0.9792" stop-color="#e05d6a"/><stop offset="0.9861" stop-color="#cc437d"/><stop offset="0.9896" stop-color="#bb4882"/><stop offset="0.9931" stop-color="#9b5586"/><stop offset="1" stop-color="#7a6587"/></linearGradient>
<linearGradient id="a57" x1="0" y1="0" x2="0" y2="1"><stop offset="0" stop-color="#fa963e"/><stop offset="0.1215" stop-color="#fa963e"/><stop offset="0.1736" stop-color="#f89142"/><stop offset="0.2257" stop-color="#fa963e"/><stop offset="0.2778" stop-color="#f78f43"/><stop offset="0.3299" stop-color="#fa963e"/><stop offset="0.3819" stop-color="#f68b46"/><stop offset="0.434" stop-color="#fa963e"/><stop offset="0.4861" stop-color="#f3864a"/><stop offset="0.5382" stop-color="#fa963e"/><stop offset="0.5903" stop-color="#f07e50"/><stop offset="0.6424" stop-color="#fa963e"/><stop offset="0.6562" stop-color="#f79043"/><stop offset="0.684" stop-color="#eb7458"/><stop offset="0.6944" stop-color="#e96f5c"/><stop offset="0.7049" stop-color="#eb7359"/><stop offset="0.7361" stop-color="#f99340"/><stop offset="0.7465" stop-color="#fa963e"/><stop offset="0.7604" stop-color="#f68d45"/><stop offset="0.7882" stop-color="#e26167"/><stop offset="0.7986" stop-color="#de596d"/><stop offset="0.8125" stop-color="#e36366"/><stop offset="0.8368" stop-color="#f68d45"/><stop offset="0.8507" stop-color="#fa963e"/><stop offset="0.8576" stop-color="#f89241"/><stop offset="0.8681" stop-color="#f2834c"/><stop offset="0.8924" stop-color="#d1437b"/><stop offset="0.9028" stop-color="#c3457f"/><stop offset="0.9132" stop-color="#cc437d"/><stop offset="0.9201" stop-color="#d74e74"/><stop offset="0.941" stop-color="#f48848"/><stop offset="0.9479" stop-color="#f99340"/><stop offset="0.9549" stop-color="#fa963e"/><stop offset="0.9618" stop-color="#f89142"/><stop offset="0.9688" stop-color="#f2834c"/><stop offset="0.9792" stop-color="#e05d6a"/><stop offset="0.9861" stop-color="#cc437d"/><stop offset="0.9896" stop-color="#ba4882"/><stop offset="0.9931" stop-color="#9a5586"/><stop offset="1" stop-color="#7a6587"/></linearGradient>
<linearGradient id="a58" x1="0" y1="0" x2="0" y2="1"><stop offset="0" stop-color="#fa953e"/><stop offset="0.0694" stop-color="#f89241"/><stop offset="0.1215" stop-color="#fa963e"/><stop offset="0.1736" stop-color="#f89042"/><stop offset="0.2257" stop-color="#fa963e"/><stop offset="0.2778" stop-color="#f68d44"/><stop offset="0.3299" stop-color="#fa963e"/><stop offset="0.3819" stop-color="#f58947"/><stop offset="0.434" stop-color="#fa963e"/><stop offset="0.4861" stop-color="#f2844c"/><stop offset="0.5382" stop-color="#fa963e"/><stop offset="0.5903" stop-color="#ee7b53"/><stop offset="0.6042" stop-color="#f17f4f"/><stop offset="0.6319" stop-color="#f99440"/><stop offset="0.6424" stop-color="#fa963e"/><stop offset="0.6562" stop-color="#f78f43"/><stop offset="0.684" stop-color="#ea715b"/><stop offset="0.6944" stop-color="#e76b5f"/><stop offset="0.7049" stop-color="#e96f5c"/><stop offset="0.7361" stop-color="#f99341"/><stop offset="0.7465" stop-color="#fa963e"/><stop offset="0.7604" stop-color="#f68d45"/><stop offset="0.7882" stop-color="#e05d6a"/><stop offset="0.7986" stop-color="#db556f"/><stop offset="0.8125" stop-color="#e25f68"/><stop offset="0.8368" stop-color="#f68d45"/><stop offset="0.8507" stop-color="#fa963e"/><stop offset="0.8576" stop-color="#f89241"/><stop offset="0.8681" stop-color="#f2824d"/><stop offset="0.8854" stop-color="#d95172"/><stop offset="0.8924" stop-color="#ce427c"/><stop offset="0.9028" stop-color="#c04680"/><stop offset="0.9097" stop-color="#c4457f"/><stop offset="0.9167" stop-color="#d1437b"/><stop offset="0.9271" stop-color="#e26068"/><stop offset="0.9375" stop-color="#f1814e"/><stop offset="0.9479" stop-color="#f99340"/><stop offset="0.9549" stop-color="#fa963e"/><stop offset="0.9618" stop-color="#f89142"/><stop offset="0.9688" stop-color="#f2834c"/><stop offset="0.9792" stop-color="#e05c6b"/><stop offset="0.9861" stop-color="#cb437d"/><stop offset="0.9896" stop-color="#b94982"/><stop offset="0.9931" stop-color="#995586"/><stop offset="1" stop-color="#7a6587"/></linearGradient>
<linearGradient id="a59" x1="0" y1="0" x2="0" y2="1"><stop offset="0" stop-color="#fa953f"/><stop offset="0.0694" stop-color="#f89142"/><stop offset="0.1215" stop-color="#fa963e"/><stop offset="0.1736" stop-color="#f78e44"/><stop offset="0.2257" stop-color="#fa963e"/><stop offset="0.2778" stop-color="#f68b46"/><stop offset="0.3299" stop-color="#fa963e"/><stop offset="0.3819" stop-color="#f48749"/><stop offset="0.434" stop-color="#fa963e"/><stop offset="0.4861" stop-color="#f1814e"/><stop offset="0.5382" stop-color="#fa963e"/><stop offset="0.5521" stop-color="#f89142"/><stop offset="0.5799" stop-color="#ee7a53"/><stop offset="0.5903" stop-color="#ec7656"/><stop offset="0.6007" stop-color="#ee7954"/><stop offset="0.6319" stop-color="#f99340"/><stop offset="0.6424" stop-color="#fa963e"/><stop offset="0.6562" stop-color="#f78f43"/><stop offset="0.684" stop-color="#e86c5e"/><stop offset="0.6944" stop-color="#e56763"/><stop offset="0.7083" stop-color="#e96f5c"/><stop offset="0.7326" stop-color="#f78f43"/><stop offset="0.7465" stop-color="#fa963e"/><stop offset="0.7604" stop-color="#f68c46"/><stop offset="0.7882" stop-color="#de596d"/><stop offset="0.7986" stop-color="#d95172"/><stop offset="0.8056" stop-color="#da5371"/><stop offset="0.8125" stop-color="#df5c6b"/><stop offset="0.8368" stop-color="#f68c45"/><stop offset="0.8507" stop-color="#fa963e"/><stop offset="0.8576" stop-color="#f89241"/><stop offset="0.8681" stop-color="#f1814e"/><stop offset="0.8889" stop-color="#d2457a"/><stop offset="0.8958" stop-color="#c34680"/><stop offset="0.9028" stop-color="#bc4781"/><stop offset="0.9097" stop-color="#c04680"/><stop offset="0.9167" stop-color="#cf427c"/><stop offset="0.941" stop-color="#f48849"/><stop offset="0.9479" stop-color="#f99341"/><stop offset="0.9549" stop-color="#fa963e"/><stop offset="0.9618" stop-color="#f89142"/><stop offset="0.9688" stop-color="#f2834c"/><stop offset="0.9792" stop-color="#df5c6b"/><stop offset="0.9826" stop-color="#d64c75"/><stop offset="0.9861" stop-color="#ca447e"/><stop offset="0.9896" stop-color="#b74982"/><stop offset="0.9931" stop-color="#995686"/><stop offset="1" stop-color="#796587"/></linearGradient>
<linearGradient id="a60" x1="0" y1="0" x2="0" y2="1"><stop offset="0" stop-color="#fa953f"/><stop offset="0.0694" stop-color="#f78f43"/><stop offset="0.1215" stop-color="#fa963e"/><stop offset="0.1736" stop-color="#f68c45"/><stop offset="0.2257" stop-color="#fa963e"/><stop offset="0.2778" stop-color="#f48948"/><stop offset="0.3299" stop-color="#fa963e"/><stop offset="0.3819" stop-color="#f2844c"/><stop offset="0.434" stop-color="#fa963e"/><stop offset="0.4861" stop-color="#ef7d51"/><stop offset="0.5382" stop-color="#fa963e"/><stop offset="0.5521" stop-color="#f89042"/><stop offset="0.5799" stop-color="#ec7657"/><stop offset="0.5903" stop-color="#ea715a"/><stop offset="0.6007" stop-color="#ec7557"/><stop offset="0.6319" stop-color="#f99340"/><stop offset="0.6424" stop-color="#fa963e"/><stop offset="0.6562" stop-color="#f78e44"/><stop offset="0.684" stop-color="#e66862"/><stop offset="0.6944" stop-color="#e36167"/><stop offset="0.7083" stop-color="#e76a60"/><stop offset="0.7326" stop-color="#f78e44"/><stop offset="0.7465" stop-color="#fa963e"/><stop offset="0.7604" stop-color="#f68b46"/><stop offset="0.7882" stop-color="#db5470"/><stop offset="0.7986" stop-color="#d64c75"/><stop offset="0.8056" stop-color="#d84f74"/><stop offset="0.8125" stop-color="#dd586d"/><stop offset="0.8368" stop-color="#f68b46"/><stop offset="0.8507" stop-color="#fa963e"/><stop offset="0.8576" stop-color="#f89241"/><stop offset="0.8681" stop-color="#f1804e"/><stop offset="0.8889" stop-color="#d0427c"/><stop offset="0.8958" stop-color="#bf4781"/><stop offset="0.9028" stop-color="#b64a83"/><stop offset="0.9062" stop-color="#b74982"/><stop offset="0.9167" stop-color="#cc437d"/><stop offset="0.9201" stop-color="#d34878"/><stop offset="0.9375" stop-color="#f1804f"/><stop offset="0.9479" stop-color="#f99341"/><stop offset="0.9549" stop-color="#fa963e"/><stop offset="0.9618" stop-color="#f89042"/><stop offset="0.9688" stop-color="#f2824d"/><stop offset="0.9792" stop-color="#df5b6b"/><stop offset="0.9826" stop-color="#d64c75"/><stop offset="0.9861" stop-color="#ca447e"/><stop offset="0.9896" stop-color="#b64a83"/><stop offset="0.9931" stop-color="#985686"/><stop offset="1" stop-color="#796687"/></linearGradient>
<linearGradient id="a61" x1="0" y1="0" x2="0" y2="1"><stop offset="0" stop-color="#f9943f"/><stop offset="0.0243" stop-color="#fa953e"/><stop offset="0.0694" stop-color="#f68d45"/><stop offset="0.1215" stop-color="#fa963e"/><stop offset="0.1736" stop-color="#f58a47"/><stop offset="0.2257" stop-color="#fa963e"/><stop offset="0.2778" stop-color="#f3864a"/><stop offset="0.3299" stop-color="#fa963e"/><stop offset="0.3819" stop-color="#f1814e"/><stop offset="0.434" stop-color="#fa963e"/><stop offset="0.4861" stop-color="#ed7855"/><stop offset="0.4965" stop-color="#ef7c52"/><stop offset="0.5278" stop-color="#f99440"/><stop offset="0.5382" stop-color="#fa963e"/><stop offset="0.5521" stop-color="#f78f43"/><stop offset="0.5799" stop-color="#ea715a"/><stop offset="0.5903" stop-color="#e86c5e"/><stop offset="0.6007" stop-color="#ea715b"/><stop offset="0.6285" stop-color="#f79043"/><stop offset="0.6424" stop-color="#fa963e"/><stop offset="0.6562" stop-color="#f68d44"/><stop offset="0.684" stop-color="#e46365"/><stop offset="0.6944" stop-color="#e05d6a"/><stop offset="0.7083" stop-color="#e56663"/><stop offset="0.7326" stop-color="#f78e44"/><stop offset="0.7465" stop-color="#fa963e"/><stop offset="0.7604" stop-color="#f58b47"/><stop offset="0.7674" stop-color="#f07f4f"/><stop offset="0.7847" stop-color="#dc576e"/><stop offset="0.7917" stop-color="#d64c75"/><stop offset="0.7986" stop-color="#d34778"/><stop offset="0.8056" stop-color="#d54a76"/><stop offset="0.8125" stop-color="#db5470"/><stop offset="0.8368" stop-color="#f58b46"/><stop offset="0.8507" stop-color="#fa963e"/><stop offset="0.8576" stop-color="#f89241"/><stop offset="0.8681" stop-color="#f1804f"/><stop offset="0.8854" stop-color="#d44977"/><stop offset="0.8889" stop-color="#cd437d"/><stop offset="0.8993" stop-color="#b34b83"/><stop offset="0.9028" stop-color="#ae4d84"/><stop offset="0.9062" stop-color="#b04c83"/><stop offset="0.9167" stop-color="#c9447e"/><stop offset="0.9201" stop-color="#d2467a"/><stop offset="0.9375" stop-color="#f07f4f"/><stop offset="0.9479" stop-color="#f99241"/><stop offset="0.9549" stop-color="#fa963e"/><stop offset="0.9618" stop-color="#f89042"/><stop offset="0.9688" stop-color="#f2824d"/><stop offset="0.9792" stop-color="#df5b6c"/><stop offset="0.9826" stop-color="#d64b76"/><stop offset="0.9861" stop-color="#c9447e"/><stop offset="0.9896" stop-color="#b54a83"/><stop offset="0.9931" stop-color="#975686"/><stop offset="1" stop-color="#786687"/></linearGradient>
<linearGradient id="a62" x1="0" y1="0" x2="0" y2="1"><stop offset="0" stop-color="#f9943f"/><stop offset="0.0243" stop-color="#fa953e"/><stop offset="0.0694" stop-color="#f58b46"/><stop offset="0.125" stop-color="#fa963e"/><stop offset="0.1736" stop-color="#f48849"/><stop offset="0.2257" stop-color="#fa963e"/><stop offset="0.2778" stop-color="#f2834c"/><stop offset="0.3299" stop-color="#fa963e"/><stop offset="0.3819" stop-color="#f07d50"/><stop offset="0.434" stop-color="#fa963e"/><stop offset="0.4479" stop-color="#f89042"/><stop offset="0.4757" stop-color="#ed7855"/><stop offset="0.4861" stop-color="#eb7458"/><stop offset="0.4965" stop-color="#ed7855"/><stop offset="0.5278" stop-color="#f99340"/><stop offset="0.5382" stop-color="#fa963e"/><stop offset="0.5521" stop-color="#f78f43"/><stop offset="0.5799" stop-color="#e86d5d"/><stop offset="0.5903" stop-color="#e66862"/><stop offset="0.6007" stop-color="#e86d5e"/><stop offset="0.6285" stop-color="#f78f43"/><stop offset="0.6424" stop-color="#fa963e"/><stop offset="0.6562" stop-color="#f68d45"/><stop offset="0.684" stop-color="#e25f68"/><stop offset="0.6944" stop-color="#dd586d"/><stop offset="0.7083" stop-color="#e36366"/><stop offset="0.7326" stop-color="#f68d45"/><stop offset="0.7465" stop-color="#fa963e"/><stop offset="0.7604" stop-color="#f58a47"/><stop offset="0.7674" stop-color="#f07e50"/><stop offset="0.7847" stop-color="#da5371"/><stop offset="0.7917" stop-color="#d44878"/><stop offset="0.7986" stop-color="#d1447b"/><stop offset="0.8056" stop-color="#d34779"/><stop offset="0.8125" stop-color="#d95172"/><stop offset="0.8299" stop-color="#f07d51"/><stop offset="0.8368" stop-color="#f58b47"/><stop offset="0.8438" stop-color="#f99340"/><stop offset="0.8507" stop-color="#fa963e"/><stop offset="0.8576" stop-color="#f89241"/><stop offset="0.8646" stop-color="#f4874a"/><stop offset="0.8715" stop-color="#ec7557"/><stop offset="0.8854" stop-color="#d34779"/><stop offset="0.8889" stop-color="#ca447e"/><stop offset="0.8993" stop-color="#ac4d84"/><stop offset="0.9028" stop-color="#a84f84"/><stop offset="0.9062" stop-color="#aa4e84"/><stop offset="0.9201" stop-color="#d1447b"/><stop offset="0.9375" stop-color="#f07f4f"/><stop offset="0.9479" stop-color="#f99241"/><stop offset="0.9549" stop-color="#fa963e"/><stop offset="0.9618" stop-color="#f89042"/><stop offset="0.9688" stop-color="#f2824d"/><stop offset="0.9792" stop-color="#df5a6c"/><stop offset="0.9826" stop-color="#d54b76"/><stop offset="0.9861" stop-color="#c8447e"/><stop offset="0.9896" stop-color="#b44a83"/><stop offset="0.9931" stop-color="#975786"/><stop offset="1" stop-color="#786687"/></linearGradient>
<linearGradient id="a63" x1="0" y1="0" x2="0" y2="1"><stop offset="0" stop-color="#f99440"/><stop offset="0.0243" stop-color="#fa953f"/><stop offset="0.0694" stop-color="#f58948"/><stop offset="0.125" stop-color="#fa963e"/><stop offset="0.1736" stop-color="#f3854b"/><stop offset="0.2257" stop-color="#fa963e"/><stop offset="0.2778" stop-color="#f1814e"/><stop offset="0.3299" stop-color="#fa963e"/><stop offset="0.3819" stop-color="#ee7a53"/><stop offset="0.3958" stop-color="#f07f4f"/><stop offset="0.4236" stop-color="#f99440"/><stop offset="0.434" stop-color="#fa963e"/><stop offset="0.4479" stop-color="#f79043"/><stop offset="0.4757" stop-color="#ec7558"/><stop offset="0.4861" stop-color="#ea705b"/><stop offset="0.4965" stop-color="#eb7458"/><stop offset="0.5243" stop-color="#f89042"/><stop offset="0.5382" stop-color="#fa963e"/><stop offset="0.5521" stop-color="#f78e44"/><stop offset="0.5799" stop-color="#e76a60"/><stop offset="0.5903" stop-color="#e46465"/><stop offset="0.6042" stop-color="#e86d5e"/><stop offset="0.6285" stop-color="#f78f43"/><stop offset="0.6424" stop-color="#fa963e"/><stop offset="0.6562" stop-color="#f68c45"/><stop offset="0.6806" stop-color="#e26167"/><stop offset="0.6944" stop-color="#db5470"/><stop offset="0.7083" stop-color="#e26068"/><stop offset="0.7326" stop-color="#f68d45"/><stop offset="0.7465" stop-color="#fa963e"/><stop offset="0.7604" stop-color="#f58a47"/><stop offset="0.7674" stop-color="#ef7c51"/><stop offset="0.7847" stop-color="#d95072"/><stop offset="0.7951" stop-color="#cf427c"/><stop offset="0.8056" stop-color="#d1447b"/><stop offset="0.809" stop-color="#d44878"/><stop offset="0.8194" stop-color="#e25f69"/><stop offset="0.8333" stop-color="#f2844c"/><stop offset="0.8438" stop-color="#f99340"/><stop offset="0.8507" stop-color="#fa963e"/><stop offset="0.8576" stop-color="#f89141"/><stop offset="0.8681" stop-color="#f07f50"/><stop offset="0.8854" stop-color="#d2457a"/><stop offset="0.8889" stop-color="#c8447e"/><stop offset="0.8993" stop-color="#a75085"/><stop offset="0.9028" stop-color="#a35185"/><stop offset="0.9062" stop-color="#a55085"/><stop offset="0.9097" stop-color="#ad4d84"/><stop offset="0.9201" stop-color="#d0437c"/><stop offset="0.9375" stop-color="#f07e50"/><stop offset="0.9479" stop-color="#f89241"/><stop offset="0.9549" stop-color="#fa963e"/><stop offset="0.9618" stop-color="#f89042"/><stop offset="0.9688" stop-color="#f2824d"/><stop offset="0.9826" stop-color="#d54b76"/><stop offset="0.9861" stop-color="#c8447e"/><stop offset="0.9896" stop-color="#b34b83"/><stop offset="0.9931" stop-color="#965786"/><stop offset="1" stop-color="#786688"/></linearGradient>
<linearGradient id="a64" x1="0" y1="0" x2="0" y2="1"><stop offset="0" stop-color="#f99340"/><stop offset="0.0243" stop-color="#fa953f"/><stop offset="0.0694" stop-color="#f4874a"/><stop offset="0.125" stop-color="#fa963e"/><stop offset="0.1736" stop-color="#f2834d"/><stop offset="0.2257" stop-color="#fa963e"/><stop offset="0.2778" stop-color="#f07e50"/><stop offset="0.3299" stop-color="#fa963e"/><stop offset="0.3438" stop-color="#f89142"/><stop offset="0.3715" stop-color="#ee7954"/><stop offset="0.3819" stop-color="#ec7657"/><stop offset="0.3924" stop-color="#ee7954"/><stop offset="0.4201" stop-color="#f89142"/><stop offset="0.434" stop-color="#fa963e"/><stop offset="0.4479" stop-color="#f78f43"/><stop offset="0.4757" stop-color="#ea715b"/><stop offset="0.4861" stop-color="#e86c5e"/><stop offset="0.4965" stop-color="#ea705b"/><stop offset="0.5243" stop-color="#f79043"/><stop offset="0.5382" stop-color="#fa963e"/><stop offset="0.5521" stop-color="#f78e44"/><stop offset="0.5799" stop-color="#e56663"/><stop offset="0.5903" stop-color="#e26068"/><stop offset="0.6042" stop-color="#e66961"/><stop offset="0.6285" stop-color="#f78e44"/><stop offset="0.6424" stop-color="#fa963e"/><stop offset="0.6562" stop-color="#f68c46"/><stop offset="0.6806" stop-color="#e05d6a"/><stop offset="0.6944" stop-color="#d95073"/><stop offset="0.7014" stop-color="#da5371"/><stop offset="0.7083" stop-color="#e05c6a"/><stop offset="0.7326" stop-color="#f68c45"/><stop offset="0.7465" stop-color="#fa963e"/><stop offset="0.7535" stop-color="#f89241"/><stop offset="0.7639" stop-color="#f2834c"/><stop offset="0.7812" stop-color="#dc556f"/><stop offset="0.7917" stop-color="#cf427c"/><stop offset="0.7986" stop-color="#ca447e"/><stop offset="0.809" stop-color="#d2457a"/><stop offset="0.8194" stop-color="#e05d6a"/><stop offset="0.8333" stop-color="#f2834c"/><stop offset="0.8438" stop-color="#f99340"/><stop offset="0.8507" stop-color="#fa963e"/><stop offset="0.8576" stop-color="#f89141"/><stop offset="0.8681" stop-color="#f07e50"/><stop offset="0.8854" stop-color="#d1437b"/><stop offset="0.8993" stop-color="#a15285"/><stop offset="0.9028" stop-color="#9d5486"/><stop offset="0.9062" stop-color="#a05386"/><stop offset="0.9097" stop-color="#a84f84"/><stop offset="0.9201" stop-color="#cf427c"/><stop offset="0.9375" stop-color="#f07e50"/><stop offset="0.9479" stop-color="#f89241"/><stop offset="0.9549" stop-color="#fa963e"/><stop offset="0.9618" stop-color="#f89042"/><stop offset="0.9688" stop-color="#f2824d"/><stop offset="0.9826" stop-color="#d54a76"/><stop offset="0.9861" stop-color="#c8447e"/><stop offset="0.9896" stop-color="#b24b83"/><stop offset="0.9931" stop-color="#965786"/><stop offset="1" stop-color="#786688"/></linearGradient>
<linearGradient id="a65" x1="0" y1="0" x2="0" y2="1"><stop offset="0" stop-color="#f99341"/><stop offset="0.0243" stop-color="#fa953f"/><stop offset="0.0694" stop-color="#f3844b"/><stop offset="0.1111" stop-color="#f9953f"/><stop offset="0.125" stop-color="#fa963e"/><stop offset="0.1736" stop-color="#f1804f"/><stop offset="0.2257" stop-color="#fa963e"/><stop offset="0.2778" stop-color="#ee7a53"/><stop offset="0.2917" stop-color="#f07f4f"/><stop offset="0.3194" stop-color="#f99440"/><stop offset="0.3299" stop-color="#fa963e"/><stop offset="0.3438" stop-color="#f89042"/><stop offset="0.3715" stop-color="#ec7656"/><stop offset="0.3819" stop-color="#ea725a"/><stop offset="0.3924" stop-color="#ec7657"/><stop offset="0.4201" stop-color="#f89142"/><stop offset="0.434" stop-color="#fa963e"/><stop offset="0.4479" stop-color="#f78f43"/><stop offset="0.4757" stop-color="#e86d5e"/><stop offset="0.4861" stop-color="#e66862"/><stop offset="0.4965" stop-color="#e86d5e"/><stop offset="0.5243" stop-color="#f78f43"/><stop offset="0.5382" stop-color="#fa963e"/><stop offset="0.5521" stop-color="#f68d45"/><stop offset="0.5799" stop-color="#e36266"/><stop offset="0.5903" stop-color="#df5c6b"/><stop offset="0.6042" stop-color="#e56663"/><stop offset="0.6285" stop-color="#f78e44"/><stop offset="0.6424" stop-color="#fa963e"/><stop offset="0.6562" stop-color="#f58b46"/><stop offset="0.6806" stop-color="#de5a6c"/><stop offset="0.6875" stop-color="#d85073"/><stop offset="0.6944" stop-color="#d64c75"/><stop offset="0.7014" stop-color="#d85073"/><stop offset="0.7083" stop-color="#de596d"/><stop offset="0.7326" stop-color="#f68c46"/><stop offset="0.7465" stop-color="#fa963e"/><stop offset="0.7535" stop-color="#f89241"/><stop offset="0.7639" stop-color="#f2824d"/><stop offset="0.7778" stop-color="#e05c6b"/><stop offset="0.7882" stop-color="#d1447b"/><stop offset="0.7986" stop-color="#c6457f"/><stop offset="0.809" stop-color="#d0437c"/><stop offset="0.8194" stop-color="#df5b6b"/><stop offset="0.8333" stop-color="#f2834d"/><stop offset="0.8438" stop-color="#f99340"/><stop offset="0.8507" stop-color="#fa963e"/><stop offset="0.8576" stop-color="#f89142"/><stop offset="0.8681" stop-color="#f07d50"/><stop offset="0.8854" stop-color="#d0427c"/><stop offset="0.8958" stop-color="#a75085"/><stop offset="0.8993" stop-color="#9c5486"/><stop offset="0.9028" stop-color="#9a5586"/><stop offset="0.9062" stop-color="#9b5486"/><stop offset="0.9097" stop-color="#a45185"/><stop offset="0.9201" stop-color="#ce437d"/><stop offset="0.9306" stop-color="#e46564"/><stop offset="0.941" stop-color="#f3864a"/><stop offset="0.9479" stop-color="#f89241"/><stop offset="0.9549" stop-color="#fa963e"/><stop offset="0.9618" stop-color="#f89042"/><stop offset="0.9688" stop-color="#f2824d"/><stop offset="0.9826" stop-color="#d54a77"/><stop offset="0.9861" stop-color="#c7447e"/><stop offset="0.9896" stop-color="#b24b83"/><stop offset="0.9931" stop-color="#955786"/><stop offset="1" stop-color="#776688"/></linearGradient>
<linearGradient id="cba" x1="0" y1="0" x2="0" y2="1"><stop offset="0" stop-color="#fae624"/><stop offset="0.0167" stop-color="#eee427"/><stop offset="0.0333" stop-color="#e3e329"/><stop offset="0.05" stop-color="#d7e12c"/><stop offset="0.0667" stop-color="#cbdf2f"/><stop offset="0.0833" stop-color="#c0de31"/><stop offset="0.1" stop-color="#b4dc34"/><stop offset="0.1167" stop-color="#a7d93b"/><stop offset="0.1333" stop-color="#99d543"/><stop offset="0.15" stop-color="#8cd24a"/><stop offset="0.1667" stop-color="#7fcf51"/><stop offset="0.1833" stop-color="#71cb59"/><stop offset="0.2" stop-color="#64c860"/><stop offset="0.2167" stop-color="#5bc365"/><stop offset="0.2333" stop-color="#53be6b"/><stop offset="0.25" stop-color="#4ab970"/><stop offset="0.2667" stop-color="#41b475"/><stop offset="0.2833" stop-color="#39af7b"/><stop offset="0.3" stop-color="#30aa80"/><stop offset="0.3167" stop-color="#2ea482"/><stop offset="0.3333" stop-color="#2b9e85"/><stop offset="0.35" stop-color="#299788"/><stop offset="0.3667" stop-color="#26918a"/><stop offset="0.3833" stop-color="#278b8c"/><stop offset="0.4" stop-color="#37848c"/><stop offset="0.4167" stop-color="#477d8c"/><stop offset="0.4333" stop-color="#50798b"/><stop offset="0.45" stop-color="#57768a"/><stop offset="0.4667" stop-color="#5e738a"/><stop offset="0.4833" stop-color="#656f89"/><stop offset="0.5" stop-color="#6c6c88"/><stop offset="0.5167" stop-color="#746888"/><stop offset="0.5333" stop-color="#7c6487"/><stop offset="0.55" stop-color="#846087"/><stop offset="0.5667" stop-color="#8c5c87"/><stop offset="0.5833" stop-color="#945886"/><stop offset="0.6" stop-color="#9c5486"/><stop offset="0.6167" stop-color="#a94f84"/><stop offset="0.6333" stop-color="#b54a83"/><stop offset="0.65" stop-color="#be4781"/><stop offset="0.6667" stop-color="#c4457f"/><stop offset="0.6833" stop-color="#ca447e"/><stop offset="0.7" stop-color="#d0427c"/><stop offset="0.7167" stop-color="#d34779"/><stop offset="0.7333" stop-color="#d64c75"/><stop offset="0.75" stop-color="#d95172"/><stop offset="0.7667" stop-color="#dc566f"/><stop offset="0.7833" stop-color="#df5b6b"/><stop offset="0.8" stop-color="#e26068"/><stop offset="0.8167" stop-color="#e46564"/><stop offset="0.8333" stop-color="#e76a60"/><stop offset="0.85" stop-color="#e96f5c"/><stop offset="0.8667" stop-color="#eb7458"/><stop offset="0.8833" stop-color="#ee7954"/><stop offset="0.9" stop-color="#f07e50"/><stop offset="0.9167" stop-color="#f2824d"/><stop offset="0.9333" stop-color="#f3864a"/><stop offset="0.95" stop-color="#f58a47"/><stop offset="0.9667" stop-color="#f78e44"/><stop offset="0.9833" stop-color="#f89241"/><stop offset="1" stop-color="#fa963e"/></linearGradient>
<linearGradient id="cbc" x1="0" y1="0" x2="0" y2="1"><stop offset="0" stop-color="#fff"/><stop offset="0.3333" stop-color="#ff0"/><stop offset="0.6667" stop-color="#f00"/><stop offset="1" stop-color="#000"/></linearGradient>
</defs>
<rect width="1125" height="837" fill="#fff"/>
<g shape-rendering="crispEdges">
<rect x="125" y="16" width="24.68" height="288" fill="url(#a0)"/>
<rect x="149.38" y="16" width="14.56" height="288" fill="url(#a1)"/>
<rect x="163.65" y="16" width="10.42" height="288" fill="url(#a2)"/>
<rect x="173.77" y="16" width="8.15" height="288" fill="url(#a3)"/>
<rect x="181.62" y="16" width="6.71" height="288" fill="url(#a4)"/>
<rect x="188.03" y="16" width="5.72" height="288" fill="url(#a5)"/>
<rect x="193.45" y="16" width="5" height="288" fill="url(#a6)"/>
<rect x="198.15" y="16" width="4.44" height="288" fill="url(#a7)"/>
<rect x="202.29" y="16" width="4.01" height="288" fill="url(#a8)"/>
<rect x="206" y="16" width="3.65" height="288" fill="url(#a9)"/>
<rect x="209.35" y="16" width="3.36" height="288" fill="url(#a10)"/>
<rect x="212.41" y="16" width="3.12" height="288" fill="url(#a11)"/>
<rect x="215.23" y="16" width="2.91" height="288" fill="url(#a12)"/>
<rect x="217.84" y="16" width="2.73" height="288" fill="url(#a13)"/>
<rect x="220.26" y="16" width="4.7" height="288" fill="url(#a14)"/>
<rect x="224.67" y="16" width="4.21" height="288" fill="url(#a15)"/>
<rect x="228.58" y="16" width="3.82" height="288" fill="url(#a16)"/>
<rect x="232.1" y="16" width="3.5" height="288" fill="url(#a17)"/>
<rect x="235.3" y="16" width="3.23" height="288" fill="url(#a18)"/>
<rect x="238.23" y="16" width="3.01" height="288" fill="url(#a19)"/>
<rect x="240.94" y="16" width="2.81" height="288" fill="url(#a20)"/>
<rect x="243.45" y="16" width="11.61" height="288" fill="url(#a21)"/>
<rect x="254.77" y="16" width="8.15" height="288" fill="url(#a22)"/>
<rect x="262.62" y="16" width="6.71" height="288" fill="url(#a23)"/>
<rect x="269.03" y="16" width="5.72" height="288" fill="url(#a24)"/>
<rect x="274.45" y="16" width="5" height="288" fill="url(#a25)"/>
<rect x="279.15" y="16" width="4.44" height="288" fill="url(#a26)"/>
<rect x="283.29" y="16" width="4.01" height="288" fill="url(#a27)"/>
<rect x="287" y="16" width="3.65" height="288" fill="url(#a28)"/>
<rect x="290.35" y="16" width="3.36" height="288" fill="url(#a29)"/>
<rect x="293.41" y="16" width="3.12" height="288" fill="url(#a30)"/>
<rect x="296.23" y="16" width="2.91" height="288" fill="url(#a31)"/>
<rect x="298.84" y="16" width="2.73" height="288" fill="url(#a32)"/>
<rect x="301.26" y="16" width="4.7" height="288" fill="url(#a33)"/>
<rect x="305.67" y="16" width="4.21" height="288" fill="url(#a34)"/>
<rect x="309.58" y="16" width="3.82" height="288" fill="url(#a35)"/>
<rect x="313.1" y="16" width="3.5" height="288" fill="url(#a36)"/>
<rect x="316.3" y="16" width="3.23" height="288" fill="url(#a37)"/>
<rect x="319.23" y="16" width="3.01" height="288" fill="url(#a38)"/>
<rect x="321.94" y="16" width="2.81" height="288" fill="url(#a39)"/>
<rect x="324.45" y="16" width="11.61" height="288" fill="url(#a40)"/>
<rect x="335.77" y="16" width="8.15" height="288" fill="url(#a41)"/>
<rect x="343.62" y="16" width="6.71" height="288" fill="url(#a42)"/>
<rect x="350.03" y="16" width="5.72" height="288" fill="url(#a43)"/>
<rect x="355.45" y="16" width="5" height="288" fill="url(#a44)"/>
<rect x="360.15" y="16" width="4.44" height="288" fill="url(#a45)"/>
<rect x="364.29" y="16" width="4.01" height="288" fill="url(#a46)"/>
<rect x="368" y="16" width="3.65" height="288" fill="url(#a47)"/>
<rect x="371.35" y="16" width="3.36" height="288" fill="url(#a48)"/>
<rect x="374.41" y="16" width="3.12" height="288" fill="url(#a49)"/>
<rect x="377.23" y="16" width="2.91" height="288" fill="url(#a50)"/>
<rect x="379.84" y="16" width="2.73" height="288" fill="url(#a51)"/>
<rect x="382.26" y="16" width="4.7" height="288" fill="url(#a52)"/>
<rect x="386.67" y="16" width="4.21" height="288" fill="url(#a53)"/>
<rect x="390.58" y="16" width="3.82" height="288" fill="url(#a54)"/>
<rect x="394.1" y="16" width="3.5" height="288" fill="url(#a55)"/>
<rect x="397.3" y="16" width="3.23" height="288" fill="url(#a56)"/>
<rect x="400.23" y="16" width="3.01" height="288" fill="url(#a57)"/>
<rect x="402.94" y="16" width="2.81" height="288" fill="url(#a58)"/>
<rect x="405.45" y="16" width="3.76" height="288" fill="url(#a59)"/>
<rect x="408.92" y="16" width="3.45" height="288" fill="url(#a60)"/>
<rect x="412.07" y="16" width="3.19" height="288" fill="url(#a61)"/>
<rect x="414.96" y="16" width="2.97" height="288" fill="url(#a62)"/>
<rect x="417.64" y="16" width="2.78" height="288" fill="url(#a63)"/>
<rect x="420.12" y="16" width="3.36" height="288" fill="url(#a64)"/>
<rect x="423.18" y="16" width="31.12" height="288" fill="url(#a65)"/>
</g>
<rect x="127.0" y="27.3" width="325.0" height="276.0" fill="none" stroke="#000" stroke-width="2.6"/>
<line x1="120.5" y1="290" x2="127" y2="290" stroke="#000" stroke-width="2.4"/>
<text x="105" y="300.3" font-size="31.2" text-anchor="end">0</text>
<line x1="120.5" y1="237.5" x2="127" y2="237.5" stroke="#000" stroke-width="2.4"/>
<text x="105" y="247.8" font-size="31.2" text-anchor="end">100</text>
<line x1="120.5" y1="185" x2="127" y2="185" stroke="#000" stroke-width="2.4"/>
<text x="105" y="195.3" font-size="31.2" text-anchor="end">200</text>
<line x1="120.5" y1="132.5" x2="127" y2="132.5" stroke="#000" stroke-width="2.4"/>
<text x="105" y="142.8" font-size="31.2" text-anchor="end">300</text>
<line x1="120.5" y1="80" x2="127" y2="80" stroke="#000" stroke-width="2.4"/>
<text x="105" y="90.3" font-size="31.2" text-anchor="end">400</text>
<line x1="120.5" y1="27.5" x2="127" y2="27.5" stroke="#000" stroke-width="2.4"/>
<text x="105" y="37.8" font-size="31.2" text-anchor="end">500</text>
<line x1="124.5" y1="263.75" x2="127" y2="263.75" stroke="#000" stroke-width="1.6"/>
<line x1="124.5" y1="211.25" x2="127" y2="211.25" stroke="#000" stroke-width="1.6"/>
<line x1="124.5" y1="158.75" x2="127" y2="158.75" stroke="#000" stroke-width="1.6"/>
<line x1="124.5" y1="106.25" x2="127" y2="106.25" stroke="#000" stroke-width="1.6"/>
<line x1="124.5" y1="53.75" x2="127" y2="53.75" stroke="#000" stroke-width="1.6"/>
<line x1="139.8" y1="303.3" x2="139.8" y2="310.8" stroke="#000" stroke-width="2.4"/>
<text x="142.8" y="342" font-size="31.2" text-anchor="middle">0.01</text>
<line x1="220.8" y1="303.3" x2="220.8" y2="310.8" stroke="#000" stroke-width="2.4"/>
<text x="223.8" y="342" font-size="31.2" text-anchor="middle">0.1</text>
<line x1="301.8" y1="303.3" x2="301.8" y2="310.8" stroke="#000" stroke-width="2.4"/>
<text x="304.8" y="342" font-size="31.2" text-anchor="middle">1</text>
<line x1="382.8" y1="303.3" x2="382.8" y2="310.8" stroke="#000" stroke-width="2.4"/>
<text x="385.8" y="342" font-size="31.2" text-anchor="middle">10</text>
<line x1="439.42" y1="303.3" x2="439.42" y2="310.8" stroke="#000" stroke-width="2.4"/>
<text x="442.4" y="342" font-size="31.2" text-anchor="middle">50</text>
<line x1="301.4" y1="290.3" x2="301.4" y2="28" stroke="#000" stroke-width="2.1" stroke-dasharray="11 19.3"/>
<text x="139.7" y="65" font-size="31.2" text-anchor="start"><tspan font-style="italic">p</tspan> = 1.1 Debye</text>
<text x="2" y="31.5" font-size="41" text-anchor="start">(a)</text>
<text x="40" y="166" font-size="41" text-anchor="middle" transform="rotate(-90 40 166)">Time (<tspan class="mu">µ</tspan>s)</text>
<g>
<text x="208" y="399" font-size="39.5" text-anchor="start">T</text>
<text x="230.9" y="384.8" font-size="28.1" text-anchor="start">TLS</text>
<text x="230.9" y="406.6" font-size="28.1" text-anchor="start">1,min</text>
<text x="310.6" y="399" font-size="37.1" text-anchor="start">(<tspan class="mu">µ</tspan>s)</text>
</g>
<rect x="458.5" y="27.0" width="16.5" height="276.0" fill="url(#cba)" stroke="#000" stroke-width="2.4"/>
<text x="496" y="315.6" font-size="31.2" text-anchor="start">0</text>
<line x1="458.5" y1="247.8" x2="464" y2="247.8" stroke="#000" stroke-width="2"/>
<line x1="469.5" y1="247.8" x2="475" y2="247.8" stroke="#000" stroke-width="2"/>
<text x="496" y="260.4" font-size="31.2" text-anchor="start">0.2</text>
<line x1="458.5" y1="192.6" x2="464" y2="192.6" stroke="#000" stroke-width="2"/>
<line x1="469.5" y1="192.6" x2="475" y2="192.6" stroke="#000" stroke-width="2"/>
<text x="496" y="205.2" font-size="31.2" text-anchor="start">0.4</text>
<line x1="458.5" y1="137.4" x2="464" y2="137.4" stroke="#000" stroke-width="2"/>
<line x1="469.5" y1="137.4" x2="475" y2="137.4" stroke="#000" stroke-width="2"/>
<text x="496" y="150" font-size="31.2" text-anchor="start">0.6</text>
<line x1="458.5" y1="82.2" x2="464" y2="82.2" stroke="#000" stroke-width="2"/>
<line x1="469.5" y1="82.2" x2="475" y2="82.2" stroke="#000" stroke-width="2"/>
<text x="496" y="94.8" font-size="31.2" text-anchor="start">0.8</text>
<text x="496" y="39.6" font-size="31.2" text-anchor="start">1</text>
<text x="571.3" y="166.5" font-size="40" text-anchor="middle" transform="rotate(-90 571.3 166.5)">Population on |1&gt;</text>
<path d="M730.8 161.05h8.4v8.4h-8.4zM760.96 231.92h8.4v8.4h-8.4zM778.61 255.54h8.4v8.4h-8.4zM791.13 267.35h8.4v8.4h-8.4zM800.84 274.43h8.4v8.4h-8.4zM808.77 279.15h8.4v8.4h-8.4zM815.48 282.53h8.4v8.4h-8.4zM821.29 285.05h8.4v8.4h-8.4zM826.42 287.02h8.4v8.4h-8.4zM831 288.59h8.4v8.4h-8.4zM835.15 289.88h8.4v8.4h-8.4zM838.93 290.95h8.4v8.4h-8.4zM842.42 291.85h8.4v8.4h-8.4zM845.64 292.63h8.4v8.4h-8.4zM848.64 293.3h8.4v8.4h-8.4zM851.45 293.89h8.4v8.4h-8.4zM854.09 294.4h8.4v8.4h-8.4zM856.58 294.86h8.4v8.4h-8.4zM858.93 295.28h8.4v8.4h-8.4zM861.16 295.67h8.4v8.4h-8.4zM863.29 296.01h8.4v8.4h-8.4zM865.31 296.32h8.4v8.4h-8.4zM867.25 296.6h8.4v8.4h-8.4zM869.1 296.86h8.4v8.4h-8.4zM870.87 297.11h8.4v8.4h-8.4zM872.58 297.33h8.4v8.4h-8.4zM874.22 297.54h8.4v8.4h-8.4zM875.81 297.73h8.4v8.4h-8.4zM877.33 297.91h8.4v8.4h-8.4zM878.81 298.08h8.4v8.4h-8.4zM891.33 299.37h8.4v8.4h-8.4zM901.04 300.18h8.4v8.4h-8.4zM908.97 300.73h8.4v8.4h-8.4zM915.68 301.11h8.4v8.4h-8.4zM921.49 301.37h8.4v8.4h-8.4zM926.62 301.55h8.4v8.4h-8.4zM931.2 301.66h8.4v8.4h-8.4zM935.35 301.74h8.4v8.4h-8.4zM939.13 301.78h8.4v8.4h-8.4zM942.62 301.79h8.4v8.4h-8.4zM945.84 301.78h8.4v8.4h-8.4zM948.84 301.76h8.4v8.4h-8.4zM951.65 301.73h8.4v8.4h-8.4zM954.29 301.7h8.4v8.4h-8.4zM956.78 301.67h8.4v8.4h-8.4zM959.13 301.64h8.4v8.4h-8.4zM961.36 301.61h8.4v8.4h-8.4zM963.49 301.58h8.4v8.4h-8.4zM965.51 301.55h8.4v8.4h-8.4zM967.45 301.52h8.4v8.4h-8.4zM969.3 301.5h8.4v8.4h-8.4zM971.07 301.47h8.4v8.4h-8.4zM972.78 301.45h8.4v8.4h-8.4zM974.42 301.42h8.4v8.4h-8.4zM976.01 301.4h8.4v8.4h-8.4zM977.53 301.37h8.4v8.4h-8.4zM979.01 301.35h8.4v8.4h-8.4zM991.53 301.1h8.4v8.4h-8.4zM1001.24 300.83h8.4v8.4h-8.4zM1009.17 300.54h8.4v8.4h-8.4zM1015.88 300.24h8.4v8.4h-8.4zM1021.69 299.92h8.4v8.4h-8.4zM1026.82 299.61h8.4v8.4h-8.4zM1031.4 299.28h8.4v8.4h-8.4zM1035.55 298.96h8.4v8.4h-8.4zM1039.33 298.63h8.4v8.4h-8.4zM1042.82 298.3h8.4v8.4h-8.4zM1046.04 297.97h8.4v8.4h-8.4zM1049.04 297.64h8.4v8.4h-8.4zM1051.85 297.31h8.4v8.4h-8.4zM1054.49 296.98h8.4v8.4h-8.4zM1056.98 296.65h8.4v8.4h-8.4zM1059.33 296.31h8.4v8.4h-8.4zM1061.56 295.98h8.4v8.4h-8.4zM1063.69 295.65h8.4v8.4h-8.4zM1065.71 295.31h8.4v8.4h-8.4zM1067.65 294.98h8.4v8.4h-8.4zM1069.5 294.64h8.4v8.4h-8.4zM1071.27 294.31h8.4v8.4h-8.4zM1072.98 293.97h8.4v8.4h-8.4zM1074.62 293.64h8.4v8.4h-8.4zM1076.21 293.3h8.4v8.4h-8.4zM1077.73 292.96h8.4v8.4h-8.4zM1079.21 292.63h8.4v8.4h-8.4zM1080.63 292.29h8.4v8.4h-8.4zM1082.02 291.96h8.4v8.4h-8.4zM1083.36 291.62h8.4v8.4h-8.4zM1084.65 291.28h8.4v8.4h-8.4zM1085.92 290.95h8.4v8.4h-8.4zM1087.14 290.61h8.4v8.4h-8.4zM1088.33 290.27h8.4v8.4h-8.4zM1089.49 289.94h8.4v8.4h-8.4zM1090.62 289.6h8.4v8.4h-8.4zM1091.73 289.26h8.4v8.4h-8.4zM1092.8 288.93h8.4v8.4h-8.4zM1093.85 288.59h8.4v8.4h-8.4zM1094.87 288.25h8.4v8.4h-8.4zM1095.87 287.92h8.4v8.4h-8.4zM1096.85 287.58h8.4v8.4h-8.4zM1097.81 287.24h8.4v8.4h-8.4zM1098.74 286.91h8.4v8.4h-8.4zM1099.66 286.57h8.4v8.4h-8.4zM1100.56 286.23h8.4v8.4h-8.4zM1101.44 285.9h8.4v8.4h-8.4z" fill="#0505f0"/>
<polyline points="735,23.49 765.16,165.24 782.81,212.48 795.33,236.1 805.04,250.27 812.97,259.71 819.68,266.45 825.49,271.51 830.62,275.44 835.2,278.58 839.35,281.15 843.13,283.29 846.62,285.1 849.84,286.66 852.84,288 855.65,289.17 858.29,290.21 860.78,291.13 863.13,291.95 865.36,292.74 867.49,293.42 869.51,294.04 871.45,294.61 873.3,295.13 875.07,295.61 876.78,296.06 878.42,296.47 880.01,296.86 881.53,297.23 883.01,297.57 895.53,300.13 905.24,301.76 913.17,302.86 919.88,303.62 925.69,304.14 930.82,304.5 935.4,304.73 939.55,304.88 943.33,304.95 946.82,304.98 950.04,304.96 953.04,304.92 955.85,304.86 958.49,304.8 960.98,304.74 963.33,304.68 965.56,304.62 967.69,304.56 969.71,304.5 971.65,304.45 973.5,304.39 975.27,304.34 976.98,304.29 978.62,304.24 980.21,304.19 981.73,304.15 983.21,304.1 995.73,303.6 1005.44,303.06 1013.37,302.48 1020.08,301.87 1025.89,301.25 1031.02,300.61 1035.6,299.97 1039.75,299.32 1043.53,298.66 1047.02,298.01 1050.24,297.35 1053.24,296.69 1056.05,296.02 1058.69,295.36 1061.18,294.69 1063.53,294.03 1065.76,293.36 1067.89,292.69 1069.91,292.02 1071.85,291.35 1073.7,290.68 1075.47,290.01 1077.18,289.34 1078.82,288.67 1080.41,288 1081.93,287.33 1083.41,286.66 1084.83,285.98 1086.22,285.31 1087.56,284.64 1088.85,283.97 1090.12,283.29 1091.34,282.62 1092.53,281.95 1093.69,281.28 1094.82,280.6 1095.93,279.93 1097,279.26 1098.05,278.58 1099.07,277.91 1100.07,277.24 1101.05,276.56 1102.01,275.89 1102.94,275.21 1103.86,274.54 1104.76,273.87 1105.64,273.19" fill="none" stroke="#b4b4b4" stroke-width="0.9"/>
<g fill="none" stroke="#000" stroke-width="2.6">
<circle cx="735" cy="23.49" r="4.4"/>
<circle cx="765.16" cy="165.24" r="4.4"/>
<circle cx="782.81" cy="212.48" r="4.4"/>
<circle cx="795.33" cy="236.1" r="4.4"/>
<circle cx="805.04" cy="250.27" r="4.4"/>
<circle cx="812.97" cy="259.71" r="4.4"/>
<circle cx="819.68" cy="266.45" r="4.4"/>
<circle cx="825.49" cy="271.51" r="4.4"/>
<circle cx="830.62" cy="275.44" r="4.4"/>
<circle cx="835.2" cy="278.58" r="4.4"/>
<circle cx="839.35" cy="281.15" r="4.4"/>
<circle cx="843.13" cy="283.29" r="4.4"/>
<circle cx="846.62" cy="285.1" r="4.4"/>
<circle cx="849.84" cy="286.66" r="4.4"/>
<circle cx="852.84" cy="288" r="4.4"/>
<circle cx="855.65" cy="289.17" r="4.4"/>
<circle cx="858.29" cy="290.21" r="4.4"/>
<circle cx="860.78" cy="291.13" r="4.4"/>
<circle cx="863.13" cy="291.95" r="4.4"/>
<circle cx="865.36" cy="292.74" r="4.4"/>
<circle cx="867.49" cy="293.42" r="4.4"/>
<circle cx="869.51" cy="294.04" r="4.4"/>
<circle cx="871.45" cy="294.61" r="4.4"/>
<circle cx="873.3" cy="295.13" r="4.4"/>
<circle cx="875.07" cy="295.61" r="4.4"/>
<circle cx="876.78" cy="296.06" r="4.4"/>
<circle cx="878.42" cy="296.47" r="4.4"/>
<circle cx="880.01" cy="296.86" r="4.4"/>
<circle cx="881.53" cy="297.23" r="4.4"/>
<circle cx="883.01" cy="297.57" r="4.4"/>
<circle cx="895.53" cy="300.13" r="4.4"/>
<circle cx="905.24" cy="301.76" r="4.4"/>
<circle cx="913.17" cy="302.86" r="4.4"/>
<circle cx="919.88" cy="303.62" r="4.4"/>
<circle cx="925.69" cy="304.14" r="4.4"/>
<circle cx="930.82" cy="304.5" r="4.4"/>
<circle cx="935.4" cy="304.73" r="4.4"/>
<circle cx="939.55" cy="304.88" r="4.4"/>
<circle cx="943.33" cy="304.95" r="4.4"/>
<circle cx="946.82" cy="304.98" r="4.4"/>
<circle cx="950.04" cy="304.96" r="4.4"/>
<circle cx="953.04" cy="304.92" r="4.4"/>
<circle cx="955.85" cy="304.86" r="4.4"/>
<circle cx="958.49" cy="304.8" r="4.4"/>
<circle cx="960.98" cy="304.74" r="4.4"/>
<circle cx="963.33" cy="304.68" r="4.4"/>
<circle cx="965.56" cy="304.62" r="4.4"/>
<circle cx="967.69" cy="304.56" r="4.4"/>
<circle cx="969.71" cy="304.5" r="4.4"/>
<circle cx="971.65" cy="304.45" r="4.4"/>
<circle cx="973.5" cy="304.39" r="4.4"/>
<circle cx="975.27" cy="304.34" r="4.4"/>
<circle cx="976.98" cy="304.29" r="4.4"/>
<circle cx="978.62" cy="304.24" r="4.4"/>
<circle cx="980.21" cy="304.19" r="4.4"/>
<circle cx="981.73" cy="304.15" r="4.4"/>
<circle cx="983.21" cy="304.1" r="4.4"/>
<circle cx="995.73" cy="303.6" r="4.4"/>
<circle cx="1005.44" cy="303.06" r="4.4"/>
<circle cx="1013.37" cy="302.48" r="4.4"/>
<circle cx="1020.08" cy="301.87" r="4.4"/>
<circle cx="1025.89" cy="301.25" r="4.4"/>
<circle cx="1031.02" cy="300.61" r="4.4"/>
<circle cx="1035.6" cy="299.97" r="4.4"/>
<circle cx="1039.75" cy="299.32" r="4.4"/>
<circle cx="1043.53" cy="298.66" r="4.4"/>
<circle cx="1047.02" cy="298.01" r="4.4"/>
<circle cx="1050.24" cy="297.35" r="4.4"/>
<circle cx="1053.24" cy="296.69" r="4.4"/>
<circle cx="1056.05" cy="296.02" r="4.4"/>
<circle cx="1058.69" cy="295.36" r="4.4"/>
<circle cx="1061.18" cy="294.69" r="4.4"/>
<circle cx="1063.53" cy="294.03" r="4.4"/>
<circle cx="1065.76" cy="293.36" r="4.4"/>
<circle cx="1067.89" cy="292.69" r="4.4"/>
<circle cx="1069.91" cy="292.02" r="4.4"/>
<circle cx="1071.85" cy="291.35" r="4.4"/>
<circle cx="1073.7" cy="290.68" r="4.4"/>
<circle cx="1075.47" cy="290.01" r="4.4"/>
<circle cx="1077.18" cy="289.34" r="4.4"/>
<circle cx="1078.82" cy="288.67" r="4.4"/>
<circle cx="1080.41" cy="288" r="4.4"/>
<circle cx="1081.93" cy="287.33" r="4.4"/>
<circle cx="1083.41" cy="286.66" r="4.4"/>
<circle cx="1084.83" cy="285.98" r="4.4"/>
<circle cx="1086.22" cy="285.31" r="4.4"/>
<circle cx="1087.56" cy="284.64" r="4.4"/>
<circle cx="1088.85" cy="283.97" r="4.4"/>
<circle cx="1090.12" cy="283.29" r="4.4"/>
<circle cx="1091.34" cy="282.62" r="4.4"/>
<circle cx="1092.53" cy="281.95" r="4.4"/>
<circle cx="1093.69" cy="281.28" r="4.4"/>
<circle cx="1094.82" cy="280.6" r="4.4"/>
<circle cx="1095.93" cy="279.93" r="4.4"/>
<circle cx="1097" cy="279.26" r="4.4"/>
<circle cx="1098.05" cy="278.58" r="4.4"/>
<circle cx="1099.07" cy="277.91" r="4.4"/>
<circle cx="1100.07" cy="277.24" r="4.4"/>
<circle cx="1101.05" cy="276.56" r="4.4"/>
<circle cx="1102.01" cy="275.89" r="4.4"/>
<circle cx="1102.94" cy="275.21" r="4.4"/>
<circle cx="1103.86" cy="274.54" r="4.4"/>
<circle cx="1104.76" cy="273.87" r="4.4"/>
<circle cx="1105.64" cy="273.19" r="4.4"/>
</g>
<rect x="735.0" y="22.5" width="371.5" height="284.3" fill="none" stroke="#000" stroke-width="2.6"/>
<line x1="765.16" y1="22.5" x2="765.16" y2="29.5" stroke="#000" stroke-width="2.4"/>
<line x1="765.16" y1="306.8" x2="765.16" y2="299.8" stroke="#000" stroke-width="2.4"/>
<line x1="782.81" y1="22.5" x2="782.81" y2="29.5" stroke="#000" stroke-width="2.4"/>
<line x1="782.81" y1="306.8" x2="782.81" y2="299.8" stroke="#000" stroke-width="2.4"/>
<line x1="795.33" y1="22.5" x2="795.33" y2="29.5" stroke="#000" stroke-width="2.4"/>
<line x1="795.33" y1="306.8" x2="795.33" y2="299.8" stroke="#000" stroke-width="2.4"/>
<line x1="805.04" y1="22.5" x2="805.04" y2="29.5" stroke="#000" stroke-width="2.4"/>
<line x1="805.04" y1="306.8" x2="805.04" y2="299.8" stroke="#000" stroke-width="2.4"/>
<line x1="812.97" y1="22.5" x2="812.97" y2="29.5" stroke="#000" stroke-width="2.4"/>
<line x1="812.97" y1="306.8" x2="812.97" y2="299.8" stroke="#000" stroke-width="2.4"/>
<line x1="819.68" y1="22.5" x2="819.68" y2="29.5" stroke="#000" stroke-width="2.4"/>
<line x1="819.68" y1="306.8" x2="819.68" y2="299.8" stroke="#000" stroke-width="2.4"/>
<line x1="825.49" y1="22.5" x2="825.49" y2="29.5" stroke="#000" stroke-width="2.4"/>
<line x1="825.49" y1="306.8" x2="825.49" y2="299.8" stroke="#000" stroke-width="2.4"/>
<line x1="830.62" y1="22.5" x2="830.62" y2="29.5" stroke="#000" stroke-width="2.4"/>
<line x1="830.62" y1="306.8" x2="830.62" y2="299.8" stroke="#000" stroke-width="2.4"/>
<line x1="835.2" y1="22.5" x2="835.2" y2="36.5" stroke="#000" stroke-width="2.4"/>
<line x1="835.2" y1="306.8" x2="835.2" y2="292.8" stroke="#000" stroke-width="2.4"/>
<line x1="865.36" y1="22.5" x2="865.36" y2="29.5" stroke="#000" stroke-width="2.4"/>
<line x1="865.36" y1="306.8" x2="865.36" y2="299.8" stroke="#000" stroke-width="2.4"/>
<line x1="883.01" y1="22.5" x2="883.01" y2="29.5" stroke="#000" stroke-width="2.4"/>
<line x1="883.01" y1="306.8" x2="883.01" y2="299.8" stroke="#000" stroke-width="2.4"/>
<line x1="895.53" y1="22.5" x2="895.53" y2="29.5" stroke="#000" stroke-width="2.4"/>
<line x1="895.53" y1="306.8" x2="895.53" y2="299.8" stroke="#000" stroke-width="2.4"/>
<line x1="905.24" y1="22.5" x2="905.24" y2="29.5" stroke="#000" stroke-width="2.4"/>
<line x1="905.24" y1="306.8" x2="905.24" y2="299.8" stroke="#000" stroke-width="2.4"/>
<line x1="913.17" y1="22.5" x2="913.17" y2="29.5" stroke="#000" stroke-width="2.4"/>
<line x1="913.17" y1="306.8" x2="913.17" y2="299.8" stroke="#000" stroke-width="2.4"/>
<line x1="919.88" y1="22.5" x2="919.88" y2="29.5" stroke="#000" stroke-width="2.4"/>
<line x1="919.88" y1="306.8" x2="919.88" y2="299.8" stroke="#000" stroke-width="2.4"/>
<line x1="925.69" y1="22.5" x2="925.69" y2="29.5" stroke="#000" stroke-width="2.4"/>
<line x1="925.69" y1="306.8" x2="925.69" y2="299.8" stroke="#000" stroke-width="2.4"/>
<line x1="930.82" y1="22.5" x2="930.82" y2="29.5" stroke="#000" stroke-width="2.4"/>
<line x1="930.82" y1="306.8" x2="930.82" y2="299.8" stroke="#000" stroke-width="2.4"/>
<line x1="935.4" y1="22.5" x2="935.4" y2="36.5" stroke="#000" stroke-width="2.4"/>
<line x1="935.4" y1="306.8" x2="935.4" y2="292.8" stroke="#000" stroke-width="2.4"/>
<line x1="965.56" y1="22.5" x2="965.56" y2="29.5" stroke="#000" stroke-width="2.4"/>
<line x1="965.56" y1="306.8" x2="965.56" y2="299.8" stroke="#000" stroke-width="2.4"/>
<line x1="983.21" y1="22.5" x2="983.21" y2="29.5" stroke="#000" stroke-width="2.4"/>
<line x1="983.21" y1="306.8" x2="983.21" y2="299.8" stroke="#000" stroke-width="2.4"/>
<line x1="995.73" y1="22.5" x2="995.73" y2="29.5" stroke="#000" stroke-width="2.4"/>
<line x1="995.73" y1="306.8" x2="995.73" y2="299.8" stroke="#000" stroke-width="2.4"/>
<line x1="1005.44" y1="22.5" x2="1005.44" y2="29.5" stroke="#000" stroke-width="2.4"/>
<line x1="1005.44" y1="306.8" x2="1005.44" y2="299.8" stroke="#000" stroke-width="2.4"/>
<line x1="1013.37" y1="22.5" x2="1013.37" y2="29.5" stroke="#000" stroke-width="2.4"/>
<line x1="1013.37" y1="306.8" x2="1013.37" y2="299.8" stroke="#000" stroke-width="2.4"/>
<line x1="1020.08" y1="22.5" x2="1020.08" y2="29.5" stroke="#000" stroke-width="2.4"/>
<line x1="1020.08" y1="306.8" x2="1020.08" y2="299.8" stroke="#000" stroke-width="2.4"/>
<line x1="1025.89" y1="22.5" x2="1025.89" y2="29.5" stroke="#000" stroke-width="2.4"/>
<line x1="1025.89" y1="306.8" x2="1025.89" y2="299.8" stroke="#000" stroke-width="2.4"/>
<line x1="1031.02" y1="22.5" x2="1031.02" y2="29.5" stroke="#000" stroke-width="2.4"/>
<line x1="1031.02" y1="306.8" x2="1031.02" y2="299.8" stroke="#000" stroke-width="2.4"/>
<line x1="1035.6" y1="22.5" x2="1035.6" y2="36.5" stroke="#000" stroke-width="2.4"/>
<line x1="1035.6" y1="306.8" x2="1035.6" y2="292.8" stroke="#000" stroke-width="2.4"/>
<line x1="1065.76" y1="22.5" x2="1065.76" y2="29.5" stroke="#000" stroke-width="2.4"/>
<line x1="1065.76" y1="306.8" x2="1065.76" y2="299.8" stroke="#000" stroke-width="2.4"/>
<line x1="1083.41" y1="22.5" x2="1083.41" y2="29.5" stroke="#000" stroke-width="2.4"/>
<line x1="1083.41" y1="306.8" x2="1083.41" y2="299.8" stroke="#000" stroke-width="2.4"/>
<line x1="1095.93" y1="22.5" x2="1095.93" y2="29.5" stroke="#000" stroke-width="2.4"/>
<line x1="1095.93" y1="306.8" x2="1095.93" y2="299.8" stroke="#000" stroke-width="2.4"/>
<line x1="1105.64" y1="22.5" x2="1105.64" y2="29.5" stroke="#000" stroke-width="2.4"/>
<line x1="1105.64" y1="306.8" x2="1105.64" y2="299.8" stroke="#000" stroke-width="2.4"/>
<line x1="735" y1="239" x2="749.5" y2="239" stroke="#000" stroke-width="2.4"/>
<line x1="1106.5" y1="239" x2="1092" y2="239" stroke="#000" stroke-width="2.4"/>
<text x="717.5" y="250.3" font-size="31.2" text-anchor="end">1000</text>
<line x1="735" y1="171.5" x2="749.5" y2="171.5" stroke="#000" stroke-width="2.4"/>
<line x1="1106.5" y1="171.5" x2="1092" y2="171.5" stroke="#000" stroke-width="2.4"/>
<text x="717.5" y="182.8" font-size="31.2" text-anchor="end">2000</text>
<line x1="735" y1="104" x2="749.5" y2="104" stroke="#000" stroke-width="2.4"/>
<line x1="1106.5" y1="104" x2="1092" y2="104" stroke="#000" stroke-width="2.4"/>
<text x="717.5" y="115.3" font-size="31.2" text-anchor="end">3000</text>
<line x1="735" y1="36.5" x2="749.5" y2="36.5" stroke="#000" stroke-width="2.4"/>
<line x1="1106.5" y1="36.5" x2="1092" y2="36.5" stroke="#000" stroke-width="2.4"/>
<text x="717.5" y="47.8" font-size="31.2" text-anchor="end">4000</text>
<text x="738.5" y="356" font-size="31.2" text-anchor="middle">0.01</text>
<text x="838.7" y="356" font-size="31.2" text-anchor="middle">0.1</text>
<text x="938.9" y="356" font-size="31.2" text-anchor="middle">1</text>
<text x="1039.1" y="356" font-size="31.2" text-anchor="middle">10</text>
<text x="580" y="31.5" font-size="41" text-anchor="start">(b)</text>
<text x="641" y="168" font-size="40" text-anchor="middle" transform="rotate(-90 641 168)">Decoherence (<tspan class="mu">µ</tspan>s)</text>
<g>
<text x="840" y="396.5" font-size="39.6" text-anchor="start">T</text>
<text x="863" y="382.2" font-size="28.2" text-anchor="start">TLS</text>
<text x="863" y="404.1" font-size="28.2" text-anchor="start">1,min</text>
<text x="942.9" y="396.5" font-size="37.2" text-anchor="start">(<tspan class="mu">µ</tspan>s)</text>
</g>
<text x="939.5" y="67.3" font-size="31.2" text-anchor="start">T</text>
<text x="958.5" y="75.8" font-size="24.5" text-anchor="start">1</text>
<text x="969.5" y="57.3" font-size="26" text-anchor="start">q</text>
<text x="939.5" y="104" font-size="31.2" text-anchor="start">T</text>
<text x="958.5" y="112.5" font-size="24.5" text-anchor="start">2</text>
<text x="969.5" y="94" font-size="26" text-anchor="start">q</text>
<rect x="1032" y="51.8" width="8.4" height="8.4" fill="#0505f0"/>
<circle cx="1036.2" cy="92.8" r="4.4" fill="none" stroke="#000" stroke-width="2.6"/>
<text x="904" y="218.4" font-size="32.5" text-anchor="start" word-spacing="2.6"><tspan font-style="italic">p</tspan> = 1.1 D</text>
<g shape-rendering="crispEdges">
<g transform="translate(112.2)"><rect y="718.7" width="21" height="22.7" fill="#ffffd7"/><rect y="705.6" width="21" height="13.4" fill="#ffff8b"/><rect y="696.4" width="21" height="9.7" fill="#ffff5e"/><rect y="689.2" width="21" height="7.6" fill="#ffff3e"/><rect y="683.3" width="21" height="6.3" fill="#ffff25"/><rect y="678.4" width="21" height="5.4" fill="#ffff11"/><rect y="674.1" width="21" height="4.7" fill="#ffff00"/><rect y="670.3" width="21" height="4.2" fill="#fff000"/><rect y="666.9" width="21" height="3.8" fill="#ffe300"/><rect y="663.8" width="21" height="3.5" fill="#ffd800"/><rect y="661" width="21" height="3.2" fill="#ffcd00"/><rect y="658.5" width="21" height="3" fill="#ffc400"/><rect y="656.1" width="21" height="2.8" fill="#ffbb00"/><rect y="653.9" width="21" height="2.6" fill="#ffb300"/><rect y="651.8" width="21" height="2.5" fill="#ffab00"/><rect y="649.8" width="21" height="2.4" fill="#ffa400"/><rect y="646.2" width="21" height="4" fill="#ff9a00"/><rect y="643" width="21" height="3.6" fill="#ff8e00"/><rect y="640.1" width="21" height="3.3" fill="#ff8300"/><rect y="637.4" width="21" height="3.1" fill="#ff7900"/><rect y="634.9" width="21" height="2.9" fill="#ff7000"/><rect y="632.6" width="21" height="2.7" fill="#ff6800"/><rect y="622.3" width="21" height="10.7" fill="#ff6000"/><rect y="615.1" width="21" height="7.6" fill="#ff3a00"/><rect y="609.2" width="21" height="6.3" fill="#ff1d00"/><rect y="604.3" width="21" height="5.4" fill="#ff0200"/><rect y="600" width="21" height="4.7" fill="#eb0000"/><rect y="596.2" width="21" height="4.2" fill="#d80000"/><rect y="592.8" width="21" height="3.8" fill="#ca0000"/><rect y="589.7" width="21" height="3.5" fill="#bf0000"/><rect y="586.9" width="21" height="3.2" fill="#b80000"/><rect y="584.4" width="21" height="3" fill="#b30000"/><rect y="582" width="21" height="2.8" fill="#b20000"/><rect y="579.8" width="21" height="2.6" fill="#b30000"/><rect y="577.7" width="21" height="2.5" fill="#b50000"/><rect y="575.7" width="21" height="2.4" fill="#b80000"/><rect y="572.1" width="21" height="4" fill="#bd0000"/><rect y="568.9" width="21" height="3.6" fill="#c30000"/><rect y="566" width="21" height="3.3" fill="#c80000"/><rect y="563.3" width="21" height="3.1" fill="#cd0000"/><rect y="560.8" width="21" height="2.9" fill="#d10000"/><rect y="558.5" width="21" height="2.7" fill="#d50000"/><rect y="548.2" width="21" height="10.7" fill="#d90000"/><rect y="541" width="21" height="7.6" fill="#eb0000"/><rect y="535.1" width="21" height="6.3" fill="#fc0000"/><rect y="530.2" width="21" height="5.4" fill="#ff0c00"/><rect y="525.9" width="21" height="4.7" fill="#ff1a00"/><rect y="522.1" width="21" height="4.2" fill="#ff2700"/><rect y="518.7" width="21" height="3.8" fill="#ff3200"/><rect y="515.6" width="21" height="3.5" fill="#ff3d00"/><rect y="512.8" width="21" height="3.2" fill="#ff4700"/><rect y="510.3" width="21" height="3" fill="#ff5000"/><rect y="507.9" width="21" height="2.8" fill="#ff5800"/><rect y="505.7" width="21" height="2.6" fill="#ff6000"/><rect y="503.6" width="21" height="2.5" fill="#ff6800"/><rect y="501.6" width="21" height="2.4" fill="#ff6e00"/><rect y="498" width="21" height="4" fill="#ff7800"/><rect y="494.8" width="21" height="3.6" fill="#ff8400"/><rect y="491.9" width="21" height="3.3" fill="#ff8e00"/><rect y="489.2" width="21" height="3.1" fill="#ff9800"/><rect y="486.7" width="21" height="2.9" fill="#ffa100"/><rect y="484.4" width="21" height="2.7" fill="#ffa900"/><rect y="482.3" width="21" height="2.5" fill="#ffb100"/><rect y="480.3" width="21" height="2.4" fill="#ffb800"/><rect y="477.5" width="21" height="3.2" fill="#ffc000"/><rect y="474.9" width="21" height="3" fill="#ffca00"/><rect y="472.5" width="21" height="2.8" fill="#ffd200"/><rect y="470.3" width="21" height="2.6" fill="#ffda00"/><rect y="468.2" width="21" height="2.5" fill="#ffe200"/><rect y="432.2" width="21" height="36.4" fill="#ffe900"/></g>
<g transform="translate(132.8)"><rect y="718.7" width="19.3" height="22.7" fill="#ffffc4"/><rect y="705.6" width="19.3" height="13.4" fill="#ffff77"/><rect y="696.4" width="19.3" height="9.7" fill="#ffff4b"/><rect y="689.2" width="19.3" height="7.6" fill="#ffff2b"/><rect y="683.3" width="19.3" height="6.3" fill="#ffff12"/><rect y="678.4" width="19.3" height="5.4" fill="#fffd00"/><rect y="674.1" width="19.3" height="4.7" fill="#ffec00"/><rect y="670.3" width="19.3" height="4.2" fill="#ffdd00"/><rect y="666.9" width="19.3" height="3.8" fill="#ffd000"/><rect y="663.8" width="19.3" height="3.5" fill="#ffc400"/><rect y="661" width="19.3" height="3.2" fill="#ffba00"/><rect y="658.5" width="19.3" height="3" fill="#ffb000"/><rect y="656.1" width="19.3" height="2.8" fill="#ffa800"/><rect y="653.9" width="19.3" height="2.6" fill="#ff9f00"/><rect y="651.8" width="19.3" height="2.5" fill="#ff9800"/><rect y="649.8" width="19.3" height="2.4" fill="#ff9100"/><rect y="646.2" width="19.3" height="4" fill="#ff8700"/><rect y="643" width="19.3" height="3.6" fill="#ff7b00"/><rect y="640.1" width="19.3" height="3.3" fill="#ff7000"/><rect y="637.4" width="19.3" height="3.1" fill="#ff6600"/><rect y="634.9" width="19.3" height="2.9" fill="#ff5d00"/><rect y="632.6" width="19.3" height="2.7" fill="#ff5400"/><rect y="622.3" width="19.3" height="10.7" fill="#ff4c00"/><rect y="615.1" width="19.3" height="7.6" fill="#ff2600"/><rect y="609.2" width="19.3" height="6.3" fill="#ff0700"/><rect y="604.3" width="19.3" height="5.4" fill="#ec0000"/><rect y="600" width="19.3" height="4.7" fill="#d60000"/><rect y="596.2" width="19.3" height="4.2" fill="#c40000"/><rect y="592.8" width="19.3" height="3.8" fill="#b70000"/><rect y="589.7" width="19.3" height="3.5" fill="#af0000"/><rect y="586.9" width="19.3" height="3.2" fill="#a90000"/><rect y="584.4" width="19.3" height="3" fill="#a80000"/><rect y="582" width="19.3" height="2.8" fill="#a90000"/><rect y="579.8" width="19.3" height="2.6" fill="#ab0000"/><rect y="577.7" width="19.3" height="2.5" fill="#af0000"/><rect y="575.7" width="19.3" height="2.4" fill="#b20000"/><rect y="572.1" width="19.3" height="4" fill="#b70000"/><rect y="568.9" width="19.3" height="3.6" fill="#bd0000"/><rect y="566" width="19.3" height="3.3" fill="#c30000"/><rect y="563.3" width="19.3" height="3.1" fill="#c80000"/><rect y="560.8" width="19.3" height="2.9" fill="#cc0000"/><rect y="558.5" width="19.3" height="2.7" fill="#d00000"/><rect y="548.2" width="19.3" height="10.7" fill="#d40000"/><rect y="541" width="19.3" height="7.6" fill="#e80000"/><rect y="535.1" width="19.3" height="6.3" fill="#f90000"/><rect y="530.2" width="19.3" height="5.4" fill="#ff0a00"/><rect y="525.9" width="19.3" height="4.7" fill="#ff1900"/><rect y="522.1" width="19.3" height="4.2" fill="#ff2600"/><rect y="518.7" width="19.3" height="3.8" fill="#ff3200"/><rect y="515.6" width="19.3" height="3.5" fill="#ff3c00"/><rect y="512.8" width="19.3" height="3.2" fill="#ff4600"/><rect y="510.3" width="19.3" height="3" fill="#ff4f00"/><rect y="507.9" width="19.3" height="2.8" fill="#ff5800"/><rect y="505.7" width="19.3" height="2.6" fill="#ff6000"/><rect y="503.6" width="19.3" height="2.5" fill="#ff6700"/><rect y="501.6" width="19.3" height="2.4" fill="#ff6e00"/><rect y="498" width="19.3" height="4" fill="#ff7800"/><rect y="494.8" width="19.3" height="3.6" fill="#ff8400"/><rect y="491.9" width="19.3" height="3.3" fill="#ff8e00"/><rect y="489.2" width="19.3" height="3.1" fill="#ff9800"/><rect y="486.7" width="19.3" height="2.9" fill="#ffa100"/><rect y="484.4" width="19.3" height="2.7" fill="#ffa900"/><rect y="482.3" width="19.3" height="2.5" fill="#ffb100"/><rect y="480.3" width="19.3" height="2.4" fill="#ffb800"/><rect y="477.5" width="19.3" height="3.2" fill="#ffc000"/><rect y="474.9" width="19.3" height="3" fill="#ffca00"/><rect y="472.5" width="19.3" height="2.8" fill="#ffd200"/><rect y="470.3" width="19.3" height="2.6" fill="#ffda00"/><rect y="468.2" width="19.3" height="2.5" fill="#ffe200"/><rect y="432.2" width="19.3" height="36.4" fill="#ffe900"/></g>
<g transform="translate(151.7)"><rect y="718.7" width="17.9" height="22.7" fill="#ffffb2"/><rect y="705.6" width="17.9" height="13.4" fill="#ffff66"/><rect y="696.4" width="17.9" height="9.7" fill="#ffff39"/><rect y="689.2" width="17.9" height="7.6" fill="#ffff19"/><rect y="683.3" width="17.9" height="6.3" fill="#ffff00"/><rect y="678.4" width="17.9" height="5.4" fill="#ffeb00"/><rect y="674.1" width="17.9" height="4.7" fill="#ffda00"/><rect y="670.3" width="17.9" height="4.2" fill="#ffcb00"/><rect y="666.9" width="17.9" height="3.8" fill="#ffbe00"/><rect y="663.8" width="17.9" height="3.5" fill="#ffb300"/><rect y="661" width="17.9" height="3.2" fill="#ffa800"/><rect y="658.5" width="17.9" height="3" fill="#ff9f00"/><rect y="656.1" width="17.9" height="2.8" fill="#ff9600"/><rect y="653.9" width="17.9" height="2.6" fill="#ff8e00"/><rect y="651.8" width="17.9" height="2.5" fill="#ff8600"/><rect y="649.8" width="17.9" height="2.4" fill="#ff7f00"/><rect y="646.2" width="17.9" height="4" fill="#ff7500"/><rect y="643" width="17.9" height="3.6" fill="#ff6900"/><rect y="640.1" width="17.9" height="3.3" fill="#ff5e00"/><rect y="637.4" width="17.9" height="3.1" fill="#ff5400"/><rect y="634.9" width="17.9" height="2.9" fill="#ff4b00"/><rect y="632.6" width="17.9" height="2.7" fill="#ff4200"/><rect y="622.3" width="17.9" height="10.7" fill="#ff3a00"/><rect y="615.1" width="17.9" height="7.6" fill="#ff1300"/><rect y="609.2" width="17.9" height="6.3" fill="#f20000"/><rect y="604.3" width="17.9" height="5.4" fill="#d80000"/><rect y="600" width="17.9" height="4.7" fill="#c30000"/><rect y="596.2" width="17.9" height="4.2" fill="#b30000"/><rect y="592.8" width="17.9" height="3.8" fill="#a80000"/><rect y="589.7" width="17.9" height="3.5" fill="#a10000"/><rect y="586.9" width="17.9" height="3.2" fill="#9f0000"/><rect y="584.4" width="17.9" height="3" fill="#9f0000"/><rect y="582" width="17.9" height="2.8" fill="#a20000"/><rect y="579.8" width="17.9" height="2.6" fill="#a50000"/><rect y="577.7" width="17.9" height="2.5" fill="#a90000"/><rect y="575.7" width="17.9" height="2.4" fill="#ad0000"/><rect y="572.1" width="17.9" height="4" fill="#b20000"/><rect y="568.9" width="17.9" height="3.6" fill="#b80000"/><rect y="566" width="17.9" height="3.3" fill="#be0000"/><rect y="563.3" width="17.9" height="3.1" fill="#c30000"/><rect y="560.8" width="17.9" height="2.9" fill="#c70000"/><rect y="558.5" width="17.9" height="2.7" fill="#cc0000"/><rect y="548.2" width="17.9" height="10.7" fill="#d00000"/><rect y="541" width="17.9" height="7.6" fill="#e50000"/><rect y="535.1" width="17.9" height="6.3" fill="#f70000"/><rect y="530.2" width="17.9" height="5.4" fill="#ff0900"/><rect y="525.9" width="17.9" height="4.7" fill="#ff1800"/><rect y="522.1" width="17.9" height="4.2" fill="#ff2500"/><rect y="518.7" width="17.9" height="3.8" fill="#ff3100"/><rect y="515.6" width="17.9" height="3.5" fill="#ff3c00"/><rect y="512.8" width="17.9" height="3.2" fill="#ff4600"/><rect y="510.3" width="17.9" height="3" fill="#ff4f00"/><rect y="507.9" width="17.9" height="2.8" fill="#ff5800"/><rect y="505.7" width="17.9" height="2.6" fill="#ff6000"/><rect y="503.6" width="17.9" height="2.5" fill="#ff6700"/><rect y="501.6" width="17.9" height="2.4" fill="#ff6e00"/><rect y="498" width="17.9" height="4" fill="#ff7800"/><rect y="494.8" width="17.9" height="3.6" fill="#ff8300"/><rect y="491.9" width="17.9" height="3.3" fill="#ff8e00"/><rect y="489.2" width="17.9" height="3.1" fill="#ff9800"/><rect y="486.7" width="17.9" height="2.9" fill="#ffa100"/><rect y="484.4" width="17.9" height="2.7" fill="#ffa900"/><rect y="482.3" width="17.9" height="2.5" fill="#ffb100"/><rect y="480.3" width="17.9" height="2.4" fill="#ffb800"/><rect y="477.5" width="17.9" height="3.2" fill="#ffc000"/><rect y="474.9" width="17.9" height="3" fill="#ffca00"/><rect y="472.5" width="17.9" height="2.8" fill="#ffd200"/><rect y="470.3" width="17.9" height="2.6" fill="#ffda00"/><rect y="468.2" width="17.9" height="2.5" fill="#ffe200"/><rect y="432.2" width="17.9" height="36.4" fill="#ffe900"/></g>
<g transform="translate(169.3)"><rect y="718.7" width="16.7" height="22.7" fill="#ffffa2"/><rect y="705.6" width="16.7" height="13.4" fill="#ffff55"/><rect y="696.4" width="16.7" height="9.7" fill="#ffff28"/><rect y="689.2" width="16.7" height="7.6" fill="#ffff09"/><rect y="683.3" width="16.7" height="6.3" fill="#ffef00"/><rect y="678.4" width="16.7" height="5.4" fill="#ffdb00"/><rect y="674.1" width="16.7" height="4.7" fill="#ffca00"/><rect y="670.3" width="16.7" height="4.2" fill="#ffbb00"/><rect y="666.9" width="16.7" height="3.8" fill="#ffae00"/><rect y="663.8" width="16.7" height="3.5" fill="#ffa200"/><rect y="661" width="16.7" height="3.2" fill="#ff9800"/><rect y="658.5" width="16.7" height="3" fill="#ff8e00"/><rect y="656.1" width="16.7" height="2.8" fill="#ff8600"/><rect y="653.9" width="16.7" height="2.6" fill="#ff7d00"/><rect y="651.8" width="16.7" height="2.5" fill="#ff7600"/><rect y="649.8" width="16.7" height="2.4" fill="#ff6f00"/><rect y="646.2" width="16.7" height="4" fill="#ff6500"/><rect y="643" width="16.7" height="3.6" fill="#ff5900"/><rect y="640.1" width="16.7" height="3.3" fill="#ff4e00"/><rect y="637.4" width="16.7" height="3.1" fill="#ff4400"/><rect y="634.9" width="16.7" height="2.9" fill="#ff3a00"/><rect y="632.6" width="16.7" height="2.7" fill="#ff3100"/><rect y="622.3" width="16.7" height="10.7" fill="#ff2900"/><rect y="615.1" width="16.7" height="7.6" fill="#ff0100"/><rect y="609.2" width="16.7" height="6.3" fill="#e00000"/><rect y="604.3" width="16.7" height="5.4" fill="#c60000"/><rect y="600" width="16.7" height="4.7" fill="#b20000"/><rect y="596.2" width="16.7" height="4.2" fill="#a30000"/><rect y="592.8" width="16.7" height="3.8" fill="#9a0000"/><rect y="589.7" width="16.7" height="3.5" fill="#960000"/><rect y="586.9" width="16.7" height="3.2" fill="#960000"/><rect y="584.4" width="16.7" height="3" fill="#990000"/><rect y="582" width="16.7" height="2.8" fill="#9c0000"/><rect y="579.8" width="16.7" height="2.6" fill="#a00000"/><rect y="577.7" width="16.7" height="2.5" fill="#a50000"/><rect y="575.7" width="16.7" height="2.4" fill="#a80000"/><rect y="572.1" width="16.7" height="4" fill="#ae0000"/><rect y="568.9" width="16.7" height="3.6" fill="#b40000"/><rect y="566" width="16.7" height="3.3" fill="#ba0000"/><rect y="563.3" width="16.7" height="3.1" fill="#bf0000"/><rect y="560.8" width="16.7" height="2.9" fill="#c30000"/><rect y="558.5" width="16.7" height="2.7" fill="#c80000"/><rect y="548.2" width="16.7" height="10.7" fill="#cc0000"/><rect y="541" width="16.7" height="7.6" fill="#e30000"/><rect y="535.1" width="16.7" height="6.3" fill="#f60000"/><rect y="530.2" width="16.7" height="5.4" fill="#ff0800"/><rect y="525.9" width="16.7" height="4.7" fill="#ff1700"/><rect y="522.1" width="16.7" height="4.2" fill="#ff2400"/><rect y="518.7" width="16.7" height="3.8" fill="#ff3000"/><rect y="515.6" width="16.7" height="3.5" fill="#ff3b00"/><rect y="512.8" width="16.7" height="3.2" fill="#ff4500"/><rect y="510.3" width="16.7" height="3" fill="#ff4f00"/><rect y="507.9" width="16.7" height="2.8" fill="#ff5700"/><rect y="505.7" width="16.7" height="2.6" fill="#ff5f00"/><rect y="503.6" width="16.7" height="2.5" fill="#ff6700"/><rect y="501.6" width="16.7" height="2.4" fill="#ff6e00"/><rect y="498" width="16.7" height="4" fill="#ff7700"/><rect y="494.8" width="16.7" height="3.6" fill="#ff8300"/><rect y="491.9" width="16.7" height="3.3" fill="#ff8e00"/><rect y="489.2" width="16.7" height="3.1" fill="#ff9800"/><rect y="486.7" width="16.7" height="2.9" fill="#ffa100"/><rect y="484.4" width="16.7" height="2.7" fill="#ffa900"/><rect y="482.3" width="16.7" height="2.5" fill="#ffb100"/><rect y="480.3" width="16.7" height="2.4" fill="#ffb800"/><rect y="477.5" width="16.7" height="3.2" fill="#ffc000"/><rect y="474.9" width="16.7" height="3" fill="#ffca00"/><rect y="472.5" width="16.7" height="2.8" fill="#ffd200"/><rect y="470.3" width="16.7" height="2.6" fill="#ffda00"/><rect y="468.2" width="16.7" height="2.5" fill="#ffe200"/><rect y="432.2" width="16.7" height="36.4" fill="#ffe900"/></g>
<g transform="translate(185.6)"><rect y="718.7" width="15.7" height="22.7" fill="#ffff93"/><rect y="705.6" width="15.7" height="13.4" fill="#ffff46"/><rect y="696.4" width="15.7" height="9.7" fill="#ffff19"/><rect y="689.2" width="15.7" height="7.6" fill="#fff800"/><rect y="683.3" width="15.7" height="6.3" fill="#ffe000"/><rect y="678.4" width="15.7" height="5.4" fill="#ffcc00"/><rect y="674.1" width="15.7" height="4.7" fill="#ffba00"/><rect y="670.3" width="15.7" height="4.2" fill="#ffac00"/><rect y="666.9" width="15.7" height="3.8" fill="#ff9f00"/><rect y="663.8" width="15.7" height="3.5" fill="#ff9300"/><rect y="661" width="15.7" height="3.2" fill="#ff8900"/><rect y="658.5" width="15.7" height="3" fill="#ff7f00"/><rect y="656.1" width="15.7" height="2.8" fill="#ff7600"/><rect y="653.9" width="15.7" height="2.6" fill="#ff6e00"/><rect y="651.8" width="15.7" height="2.5" fill="#ff6700"/><rect y="649.8" width="15.7" height="2.4" fill="#ff6000"/><rect y="646.2" width="15.7" height="4" fill="#ff5600"/><rect y="643" width="15.7" height="3.6" fill="#ff4900"/><rect y="640.1" width="15.7" height="3.3" fill="#ff3e00"/><rect y="637.4" width="15.7" height="3.1" fill="#ff3400"/><rect y="634.9" width="15.7" height="2.9" fill="#ff2a00"/><rect y="632.6" width="15.7" height="2.7" fill="#ff2100"/><rect y="622.3" width="15.7" height="10.7" fill="#ff1900"/><rect y="615.1" width="15.7" height="7.6" fill="#ef0000"/><rect y="609.2" width="15.7" height="6.3" fill="#cf0000"/><rect y="604.3" width="15.7" height="5.4" fill="#b50000"/><rect y="600" width="15.7" height="4.7" fill="#a30000"/><rect y="596.2" width="15.7" height="4.2" fill="#960000"/><rect y="592.8" width="15.7" height="3.8" fill="#8f0000"/><rect y="589.7" width="15.7" height="3.5" fill="#8e0000"/><rect y="586.9" width="15.7" height="3.2" fill="#900000"/><rect y="584.4" width="15.7" height="3" fill="#930000"/><rect y="582" width="15.7" height="2.8" fill="#980000"/><rect y="579.8" width="15.7" height="2.6" fill="#9c0000"/><rect y="577.7" width="15.7" height="2.5" fill="#a00000"/><rect y="575.7" width="15.7" height="2.4" fill="#a40000"/><rect y="572.1" width="15.7" height="4" fill="#aa0000"/><rect y="568.9" width="15.7" height="3.6" fill="#b00000"/><rect y="566" width="15.7" height="3.3" fill="#b60000"/><rect y="563.3" width="15.7" height="3.1" fill="#bb0000"/><rect y="560.8" width="15.7" height="2.9" fill="#c00000"/><rect y="558.5" width="15.7" height="2.7" fill="#c50000"/><rect y="548.2" width="15.7" height="10.7" fill="#c90000"/><rect y="541" width="15.7" height="7.6" fill="#e10000"/><rect y="535.1" width="15.7" height="6.3" fill="#f40000"/><rect y="530.2" width="15.7" height="5.4" fill="#ff0700"/><rect y="525.9" width="15.7" height="4.7" fill="#ff1600"/><rect y="522.1" width="15.7" height="4.2" fill="#ff2400"/><rect y="518.7" width="15.7" height="3.8" fill="#ff3000"/><rect y="515.6" width="15.7" height="3.5" fill="#ff3b00"/><rect y="512.8" width="15.7" height="3.2" fill="#ff4500"/><rect y="510.3" width="15.7" height="3" fill="#ff4e00"/><rect y="507.9" width="15.7" height="2.8" fill="#ff5700"/><rect y="505.7" width="15.7" height="2.6" fill="#ff5f00"/><rect y="503.6" width="15.7" height="2.5" fill="#ff6700"/><rect y="501.6" width="15.7" height="2.4" fill="#ff6e00"/><rect y="498" width="15.7" height="4" fill="#ff7700"/><rect y="494.8" width="15.7" height="3.6" fill="#ff8300"/><rect y="491.9" width="15.7" height="3.3" fill="#ff8e00"/><rect y="489.2" width="15.7" height="3.1" fill="#ff9800"/><rect y="486.7" width="15.7" height="2.9" fill="#ffa100"/><rect y="484.4" width="15.7" height="2.7" fill="#ffa900"/><rect y="482.3" width="15.7" height="2.5" fill="#ffb100"/><rect y="480.3" width="15.7" height="2.4" fill="#ffb800"/><rect y="477.5" width="15.7" height="3.2" fill="#ffc000"/><rect y="474.9" width="15.7" height="3" fill="#ffca00"/><rect y="472.5" width="15.7" height="2.8" fill="#ffd200"/><rect y="470.3" width="15.7" height="2.6" fill="#ffda00"/><rect y="468.2" width="15.7" height="2.5" fill="#ffe200"/><rect y="432.2" width="15.7" height="36.4" fill="#ffe900"/></g>
<g transform="translate(200.9)"><rect y="718.7" width="14.7" height="22.7" fill="#ffff84"/><rect y="705.6" width="14.7" height="13.4" fill="#ffff38"/><rect y="696.4" width="14.7" height="9.7" fill="#ffff0b"/><rect y="689.2" width="14.7" height="7.6" fill="#ffea00"/><rect y="683.3" width="14.7" height="6.3" fill="#ffd100"/><rect y="678.4" width="14.7" height="5.4" fill="#ffbd00"/><rect y="674.1" width="14.7" height="4.7" fill="#ffac00"/><rect y="670.3" width="14.7" height="4.2" fill="#ff9e00"/><rect y="666.9" width="14.7" height="3.8" fill="#ff9100"/><rect y="663.8" width="14.7" height="3.5" fill="#ff8500"/><rect y="661" width="14.7" height="3.2" fill="#ff7b00"/><rect y="658.5" width="14.7" height="3" fill="#ff7100"/><rect y="656.1" width="14.7" height="2.8" fill="#ff6800"/><rect y="653.9" width="14.7" height="2.6" fill="#ff6000"/><rect y="651.8" width="14.7" height="2.5" fill="#ff5800"/><rect y="649.8" width="14.7" height="2.4" fill="#ff5100"/><rect y="646.2" width="14.7" height="4" fill="#ff4700"/><rect y="643" width="14.7" height="3.6" fill="#ff3b00"/><rect y="640.1" width="14.7" height="3.3" fill="#ff3000"/><rect y="637.4" width="14.7" height="3.1" fill="#ff2500"/><rect y="634.9" width="14.7" height="2.9" fill="#ff1c00"/><rect y="632.6" width="14.7" height="2.7" fill="#ff1200"/><rect y="622.3" width="14.7" height="10.7" fill="#ff0900"/><rect y="615.1" width="14.7" height="7.6" fill="#df0000"/><rect y="609.2" width="14.7" height="6.3" fill="#bf0000"/><rect y="604.3" width="14.7" height="5.4" fill="#a60000"/><rect y="600" width="14.7" height="4.7" fill="#950000"/><rect y="596.2" width="14.7" height="4.2" fill="#8b0000"/><rect y="592.8" width="14.7" height="3.8" fill="#860000"/><rect y="589.7" width="14.7" height="3.5" fill="#870000"/><rect y="586.9" width="14.7" height="3.2" fill="#8a0000"/><rect y="584.4" width="14.7" height="3" fill="#8f0000"/><rect y="582" width="14.7" height="2.8" fill="#940000"/><rect y="579.8" width="14.7" height="2.6" fill="#980000"/><rect y="577.7" width="14.7" height="2.5" fill="#9d0000"/><rect y="575.7" width="14.7" height="2.4" fill="#a10000"/><rect y="572.1" width="14.7" height="4" fill="#a60000"/><rect y="568.9" width="14.7" height="3.6" fill="#ac0000"/><rect y="566" width="14.7" height="3.3" fill="#b20000"/><rect y="563.3" width="14.7" height="3.1" fill="#b80000"/><rect y="560.8" width="14.7" height="2.9" fill="#bd0000"/><rect y="558.5" width="14.7" height="2.7" fill="#c20000"/><rect y="548.2" width="14.7" height="10.7" fill="#c70000"/><rect y="541" width="14.7" height="7.6" fill="#df0000"/><rect y="535.1" width="14.7" height="6.3" fill="#f30000"/><rect y="530.2" width="14.7" height="5.4" fill="#ff0600"/><rect y="525.9" width="14.7" height="4.7" fill="#ff1500"/><rect y="522.1" width="14.7" height="4.2" fill="#ff2300"/><rect y="518.7" width="14.7" height="3.8" fill="#ff3000"/><rect y="515.6" width="14.7" height="3.5" fill="#ff3b00"/><rect y="512.8" width="14.7" height="3.2" fill="#ff4500"/><rect y="510.3" width="14.7" height="3" fill="#ff4e00"/><rect y="507.9" width="14.7" height="2.8" fill="#ff5700"/><rect y="505.7" width="14.7" height="2.6" fill="#ff5f00"/><rect y="503.6" width="14.7" height="2.5" fill="#ff6600"/><rect y="501.6" width="14.7" height="2.4" fill="#ff6d00"/><rect y="498" width="14.7" height="4" fill="#ff7700"/><rect y="494.8" width="14.7" height="3.6" fill="#ff8300"/><rect y="491.9" width="14.7" height="3.3" fill="#ff8e00"/><rect y="489.2" width="14.7" height="3.1" fill="#ff9800"/><rect y="486.7" width="14.7" height="2.9" fill="#ffa100"/><rect y="484.4" width="14.7" height="2.7" fill="#ffa900"/><rect y="482.3" width="14.7" height="2.5" fill="#ffb100"/><rect y="480.3" width="14.7" height="2.4" fill="#ffb800"/><rect y="477.5" width="14.7" height="3.2" fill="#ffc000"/><rect y="474.9" width="14.7" height="3" fill="#ffca00"/><rect y="472.5" width="14.7" height="2.8" fill="#ffd200"/><rect y="470.3" width="14.7" height="2.6" fill="#ffda00"/><rect y="468.2" width="14.7" height="2.5" fill="#ffe200"/><rect y="432.2" width="14.7" height="36.4" fill="#ffe900"/></g>
<g transform="translate(215.2)"><rect y="718.7" width="13.9" height="22.7" fill="#ffff77"/><rect y="705.6" width="13.9" height="13.4" fill="#ffff2a"/><rect y="696.4" width="13.9" height="9.7" fill="#fffc00"/><rect y="689.2" width="13.9" height="7.6" fill="#ffdd00"/><rect y="683.3" width="13.9" height="6.3" fill="#ffc400"/><rect y="678.4" width="13.9" height="5.4" fill="#ffb000"/><rect y="674.1" width="13.9" height="4.7" fill="#ff9f00"/><rect y="670.3" width="13.9" height="4.2" fill="#ff9000"/><rect y="666.9" width="13.9" height="3.8" fill="#ff8300"/><rect y="663.8" width="13.9" height="3.5" fill="#ff7800"/><rect y="661" width="13.9" height="3.2" fill="#ff6d00"/><rect y="658.5" width="13.9" height="3" fill="#ff6400"/><rect y="656.1" width="13.9" height="2.8" fill="#ff5b00"/><rect y="653.9" width="13.9" height="2.6" fill="#ff5300"/><rect y="651.8" width="13.9" height="2.5" fill="#ff4b00"/><rect y="649.8" width="13.9" height="2.4" fill="#ff4400"/><rect y="646.2" width="13.9" height="4" fill="#ff3a00"/><rect y="643" width="13.9" height="3.6" fill="#ff2e00"/><rect y="640.1" width="13.9" height="3.3" fill="#ff2200"/><rect y="637.4" width="13.9" height="3.1" fill="#ff1800"/><rect y="634.9" width="13.9" height="2.9" fill="#ff0e00"/><rect y="632.6" width="13.9" height="2.7" fill="#ff0400"/><rect y="622.3" width="13.9" height="10.7" fill="#fa0000"/><rect y="615.1" width="13.9" height="7.6" fill="#d00000"/><rect y="609.2" width="13.9" height="6.3" fill="#b00000"/><rect y="604.3" width="13.9" height="5.4" fill="#990000"/><rect y="600" width="13.9" height="4.7" fill="#890000"/><rect y="596.2" width="13.9" height="4.2" fill="#810000"/><rect y="592.8" width="13.9" height="3.8" fill="#7f0000"/><rect y="589.7" width="13.9" height="3.5" fill="#820000"/><rect y="586.9" width="13.9" height="3.2" fill="#860000"/><rect y="584.4" width="13.9" height="3" fill="#8b0000"/><rect y="582" width="13.9" height="2.8" fill="#900000"/><rect y="579.8" width="13.9" height="2.6" fill="#950000"/><rect y="577.7" width="13.9" height="2.5" fill="#990000"/><rect y="575.7" width="13.9" height="2.4" fill="#9d0000"/><rect y="572.1" width="13.9" height="4" fill="#a30000"/><rect y="568.9" width="13.9" height="3.6" fill="#a90000"/><rect y="566" width="13.9" height="3.3" fill="#af0000"/><rect y="563.3" width="13.9" height="3.1" fill="#b50000"/><rect y="560.8" width="13.9" height="2.9" fill="#ba0000"/><rect y="558.5" width="13.9" height="2.7" fill="#bf0000"/><rect y="548.2" width="13.9" height="10.7" fill="#c40000"/><rect y="541" width="13.9" height="7.6" fill="#de0000"/><rect y="535.1" width="13.9" height="6.3" fill="#f20000"/><rect y="530.2" width="13.9" height="5.4" fill="#ff0500"/><rect y="525.9" width="13.9" height="4.7" fill="#ff1500"/><rect y="522.1" width="13.9" height="4.2" fill="#ff2300"/><rect y="518.7" width="13.9" height="3.8" fill="#ff2f00"/><rect y="515.6" width="13.9" height="3.5" fill="#ff3b00"/><rect y="512.8" width="13.9" height="3.2" fill="#ff4500"/><rect y="510.3" width="13.9" height="3" fill="#ff4e00"/><rect y="507.9" width="13.9" height="2.8" fill="#ff5700"/><rect y="505.7" width="13.9" height="2.6" fill="#ff5f00"/><rect y="503.6" width="13.9" height="2.5" fill="#ff6600"/><rect y="501.6" width="13.9" height="2.4" fill="#ff6d00"/><rect y="498" width="13.9" height="4" fill="#ff7700"/><rect y="494.8" width="13.9" height="3.6" fill="#ff8300"/><rect y="491.9" width="13.9" height="3.3" fill="#ff8e00"/><rect y="489.2" width="13.9" height="3.1" fill="#ff9800"/><rect y="486.7" width="13.9" height="2.9" fill="#ffa100"/><rect y="484.4" width="13.9" height="2.7" fill="#ffa900"/><rect y="482.3" width="13.9" height="2.5" fill="#ffb100"/><rect y="480.3" width="13.9" height="2.4" fill="#ffb800"/><rect y="477.5" width="13.9" height="3.2" fill="#ffc000"/><rect y="474.9" width="13.9" height="3" fill="#ffca00"/><rect y="472.5" width="13.9" height="2.8" fill="#ffd200"/><rect y="470.3" width="13.9" height="2.6" fill="#ffda00"/><rect y="468.2" width="13.9" height="2.5" fill="#ffe200"/><rect y="432.2" width="13.9" height="36.4" fill="#ffe900"/></g>
<g transform="translate(228.8)"><rect y="718.7" width="13.2" height="22.7" fill="#ffff6a"/><rect y="705.6" width="13.2" height="13.4" fill="#ffff1e"/><rect y="696.4" width="13.2" height="9.7" fill="#fff000"/><rect y="689.2" width="13.2" height="7.6" fill="#ffd000"/><rect y="683.3" width="13.2" height="6.3" fill="#ffb700"/><rect y="678.4" width="13.2" height="5.4" fill="#ffa300"/><rect y="674.1" width="13.2" height="4.7" fill="#ff9200"/><rect y="670.3" width="13.2" height="4.2" fill="#ff8400"/><rect y="666.9" width="13.2" height="3.8" fill="#ff7700"/><rect y="663.8" width="13.2" height="3.5" fill="#ff6b00"/><rect y="661" width="13.2" height="3.2" fill="#ff6100"/><rect y="658.5" width="13.2" height="3" fill="#ff5700"/><rect y="656.1" width="13.2" height="2.8" fill="#ff4e00"/><rect y="653.9" width="13.2" height="2.6" fill="#ff4600"/><rect y="651.8" width="13.2" height="2.5" fill="#ff3e00"/><rect y="649.8" width="13.2" height="2.4" fill="#ff3700"/><rect y="646.2" width="13.2" height="4" fill="#ff2d00"/><rect y="643" width="13.2" height="3.6" fill="#ff2100"/><rect y="640.1" width="13.2" height="3.3" fill="#ff1500"/><rect y="637.4" width="13.2" height="3.1" fill="#ff0b00"/><rect y="634.9" width="13.2" height="2.9" fill="#ff0000"/><rect y="632.6" width="13.2" height="2.7" fill="#f60000"/><rect y="622.3" width="13.2" height="10.7" fill="#ed0000"/><rect y="615.1" width="13.2" height="7.6" fill="#c20000"/><rect y="609.2" width="13.2" height="6.3" fill="#a30000"/><rect y="604.3" width="13.2" height="5.4" fill="#8c0000"/><rect y="600" width="13.2" height="4.7" fill="#7f0000"/><rect y="596.2" width="13.2" height="4.2" fill="#790000"/><rect y="592.8" width="13.2" height="3.8" fill="#790000"/><rect y="589.7" width="13.2" height="3.5" fill="#7d0000"/><rect y="586.9" width="13.2" height="3.2" fill="#820000"/><rect y="584.4" width="13.2" height="3" fill="#880000"/><rect y="582" width="13.2" height="2.8" fill="#8d0000"/><rect y="579.8" width="13.2" height="2.6" fill="#920000"/><rect y="577.7" width="13.2" height="2.5" fill="#960000"/><rect y="575.7" width="13.2" height="2.4" fill="#9a0000"/><rect y="572.1" width="13.2" height="4" fill="#9f0000"/><rect y="568.9" width="13.2" height="3.6" fill="#a60000"/><rect y="566" width="13.2" height="3.3" fill="#ac0000"/><rect y="563.3" width="13.2" height="3.1" fill="#b20000"/><rect y="560.8" width="13.2" height="2.9" fill="#b80000"/><rect y="558.5" width="13.2" height="2.7" fill="#bd0000"/><rect y="548.2" width="13.2" height="10.7" fill="#c30000"/><rect y="541" width="13.2" height="7.6" fill="#dc0000"/><rect y="535.1" width="13.2" height="6.3" fill="#f20000"/><rect y="530.2" width="13.2" height="5.4" fill="#ff0500"/><rect y="525.9" width="13.2" height="4.7" fill="#ff1500"/><rect y="522.1" width="13.2" height="4.2" fill="#ff2300"/><rect y="518.7" width="13.2" height="3.8" fill="#ff2f00"/><rect y="515.6" width="13.2" height="3.5" fill="#ff3a00"/><rect y="512.8" width="13.2" height="3.2" fill="#ff4500"/><rect y="510.3" width="13.2" height="3" fill="#ff4e00"/><rect y="507.9" width="13.2" height="2.8" fill="#ff5700"/><rect y="505.7" width="13.2" height="2.6" fill="#ff5f00"/><rect y="503.6" width="13.2" height="2.5" fill="#ff6600"/><rect y="501.6" width="13.2" height="2.4" fill="#ff6d00"/><rect y="498" width="13.2" height="4" fill="#ff7700"/><rect y="494.8" width="13.2" height="3.6" fill="#ff8300"/><rect y="491.9" width="13.2" height="3.3" fill="#ff8e00"/><rect y="489.2" width="13.2" height="3.1" fill="#ff9700"/><rect y="486.7" width="13.2" height="2.9" fill="#ffa000"/><rect y="484.4" width="13.2" height="2.7" fill="#ffa900"/><rect y="482.3" width="13.2" height="2.5" fill="#ffb100"/><rect y="480.3" width="13.2" height="2.4" fill="#ffb800"/><rect y="477.5" width="13.2" height="3.2" fill="#ffc000"/><rect y="474.9" width="13.2" height="3" fill="#ffca00"/><rect y="472.5" width="13.2" height="2.8" fill="#ffd200"/><rect y="470.3" width="13.2" height="2.6" fill="#ffda00"/><rect y="468.2" width="13.2" height="2.5" fill="#ffe200"/><rect y="432.2" width="13.2" height="36.4" fill="#ffe900"/></g>
<g transform="translate(241.6)"><rect y="718.7" width="12.5" height="22.7" fill="#ffff5e"/><rect y="705.6" width="12.5" height="13.4" fill="#ffff12"/><rect y="696.4" width="12.5" height="9.7" fill="#ffe400"/><rect y="689.2" width="12.5" height="7.6" fill="#ffc400"/><rect y="683.3" width="12.5" height="6.3" fill="#ffab00"/><rect y="678.4" width="12.5" height="5.4" fill="#ff9700"/><rect y="674.1" width="12.5" height="4.7" fill="#ff8600"/><rect y="670.3" width="12.5" height="4.2" fill="#ff7800"/><rect y="666.9" width="12.5" height="3.8" fill="#ff6b00"/><rect y="663.8" width="12.5" height="3.5" fill="#ff5f00"/><rect y="661" width="12.5" height="3.2" fill="#ff5500"/><rect y="658.5" width="12.5" height="3" fill="#ff4b00"/><rect y="656.1" width="12.5" height="2.8" fill="#ff4200"/><rect y="653.9" width="12.5" height="2.6" fill="#ff3a00"/><rect y="651.8" width="12.5" height="2.5" fill="#ff3200"/><rect y="649.8" width="12.5" height="2.4" fill="#ff2b00"/><rect y="646.2" width="12.5" height="4" fill="#ff2100"/><rect y="643" width="12.5" height="3.6" fill="#ff1500"/><rect y="640.1" width="12.5" height="3.3" fill="#ff0900"/><rect y="637.4" width="12.5" height="3.1" fill="#fd0000"/><rect y="634.9" width="12.5" height="2.9" fill="#f30000"/><rect y="632.6" width="12.5" height="2.7" fill="#e90000"/><rect y="622.3" width="12.5" height="10.7" fill="#e00000"/><rect y="615.1" width="12.5" height="7.6" fill="#b50000"/><rect y="609.2" width="12.5" height="6.3" fill="#960000"/><rect y="604.3" width="12.5" height="5.4" fill="#810000"/><rect y="600" width="12.5" height="4.7" fill="#760000"/><rect y="596.2" width="12.5" height="4.2" fill="#720000"/><rect y="592.8" width="12.5" height="3.8" fill="#740000"/><rect y="589.7" width="12.5" height="3.5" fill="#790000"/><rect y="586.9" width="12.5" height="3.2" fill="#7f0000"/><rect y="584.4" width="12.5" height="3" fill="#850000"/><rect y="582" width="12.5" height="2.8" fill="#8a0000"/><rect y="579.8" width="12.5" height="2.6" fill="#8f0000"/><rect y="577.7" width="12.5" height="2.5" fill="#930000"/><rect y="575.7" width="12.5" height="2.4" fill="#970000"/><rect y="572.1" width="12.5" height="4" fill="#9d0000"/><rect y="568.9" width="12.5" height="3.6" fill="#a30000"/><rect y="566" width="12.5" height="3.3" fill="#aa0000"/><rect y="563.3" width="12.5" height="3.1" fill="#b00000"/><rect y="560.8" width="12.5" height="2.9" fill="#b60000"/><rect y="558.5" width="12.5" height="2.7" fill="#bb0000"/><rect y="548.2" width="12.5" height="10.7" fill="#c10000"/><rect y="541" width="12.5" height="7.6" fill="#db0000"/><rect y="535.1" width="12.5" height="6.3" fill="#f10000"/><rect y="530.2" width="12.5" height="5.4" fill="#ff0400"/><rect y="525.9" width="12.5" height="4.7" fill="#ff1400"/><rect y="522.1" width="12.5" height="4.2" fill="#ff2200"/><rect y="518.7" width="12.5" height="3.8" fill="#ff2f00"/><rect y="515.6" width="12.5" height="3.5" fill="#ff3a00"/><rect y="512.8" width="12.5" height="3.2" fill="#ff4400"/><rect y="510.3" width="12.5" height="3" fill="#ff4e00"/><rect y="507.9" width="12.5" height="2.8" fill="#ff5700"/><rect y="505.7" width="12.5" height="2.6" fill="#ff5f00"/><rect y="503.6" width="12.5" height="2.5" fill="#ff6600"/><rect y="501.6" width="12.5" height="2.4" fill="#ff6d00"/><rect y="498" width="12.5" height="4" fill="#ff7700"/><rect y="494.8" width="12.5" height="3.6" fill="#ff8300"/><rect y="491.9" width="12.5" height="3.3" fill="#ff8e00"/><rect y="489.2" width="12.5" height="3.1" fill="#ff9700"/><rect y="486.7" width="12.5" height="2.9" fill="#ffa000"/><rect y="484.4" width="12.5" height="2.7" fill="#ffa900"/><rect y="482.3" width="12.5" height="2.5" fill="#ffb100"/><rect y="480.3" width="12.5" height="2.4" fill="#ffb800"/><rect y="477.5" width="12.5" height="3.2" fill="#ffc000"/><rect y="474.9" width="12.5" height="3" fill="#ffca00"/><rect y="472.5" width="12.5" height="2.8" fill="#ffd200"/><rect y="470.3" width="12.5" height="2.6" fill="#ffda00"/><rect y="468.2" width="12.5" height="2.5" fill="#ffe200"/><rect y="432.2" width="12.5" height="36.4" fill="#ffe900"/></g>
<g transform="translate(253.7)"><rect y="718.7" width="11.9" height="22.7" fill="#ffff53"/><rect y="705.6" width="11.9" height="13.4" fill="#ffff06"/><rect y="696.4" width="11.9" height="9.7" fill="#ffd800"/><rect y="689.2" width="11.9" height="7.6" fill="#ffb900"/><rect y="683.3" width="11.9" height="6.3" fill="#ffa000"/><rect y="678.4" width="11.9" height="5.4" fill="#ff8c00"/><rect y="674.1" width="11.9" height="4.7" fill="#ff7b00"/><rect y="670.3" width="11.9" height="4.2" fill="#ff6c00"/><rect y="666.9" width="11.9" height="3.8" fill="#ff5f00"/><rect y="663.8" width="11.9" height="3.5" fill="#ff5400"/><rect y="661" width="11.9" height="3.2" fill="#ff4900"/><rect y="658.5" width="11.9" height="3" fill="#ff4000"/><rect y="656.1" width="11.9" height="2.8" fill="#ff3700"/><rect y="653.9" width="11.9" height="2.6" fill="#ff2f00"/><rect y="651.8" width="11.9" height="2.5" fill="#ff2700"/><rect y="649.8" width="11.9" height="2.4" fill="#ff2000"/><rect y="646.2" width="11.9" height="4" fill="#ff1600"/><rect y="643" width="11.9" height="3.6" fill="#ff0900"/><rect y="640.1" width="11.9" height="3.3" fill="#fc0000"/><rect y="637.4" width="11.9" height="3.1" fill="#f10000"/><rect y="634.9" width="11.9" height="2.9" fill="#e70000"/><rect y="632.6" width="11.9" height="2.7" fill="#dd0000"/><rect y="622.3" width="11.9" height="10.7" fill="#d30000"/><rect y="615.1" width="11.9" height="7.6" fill="#a80000"/><rect y="609.2" width="11.9" height="6.3" fill="#8a0000"/><rect y="604.3" width="11.9" height="5.4" fill="#770000"/><rect y="600" width="11.9" height="4.7" fill="#6e0000"/><rect y="596.2" width="11.9" height="4.2" fill="#6c0000"/><rect y="592.8" width="11.9" height="3.8" fill="#700000"/><rect y="589.7" width="11.9" height="3.5" fill="#760000"/><rect y="586.9" width="11.9" height="3.2" fill="#7c0000"/><rect y="584.4" width="11.9" height="3" fill="#820000"/><rect y="582" width="11.9" height="2.8" fill="#870000"/><rect y="579.8" width="11.9" height="2.6" fill="#8c0000"/><rect y="577.7" width="11.9" height="2.5" fill="#900000"/><rect y="575.7" width="11.9" height="2.4" fill="#940000"/><rect y="572.1" width="11.9" height="4" fill="#9a0000"/><rect y="568.9" width="11.9" height="3.6" fill="#a10000"/><rect y="566" width="11.9" height="3.3" fill="#a70000"/><rect y="563.3" width="11.9" height="3.1" fill="#ae0000"/><rect y="560.8" width="11.9" height="2.9" fill="#b40000"/><rect y="558.5" width="11.9" height="2.7" fill="#ba0000"/><rect y="548.2" width="11.9" height="10.7" fill="#bf0000"/><rect y="541" width="11.9" height="7.6" fill="#db0000"/><rect y="535.1" width="11.9" height="6.3" fill="#f00000"/><rect y="530.2" width="11.9" height="5.4" fill="#ff0400"/><rect y="525.9" width="11.9" height="4.7" fill="#ff1400"/><rect y="522.1" width="11.9" height="4.2" fill="#ff2200"/><rect y="518.7" width="11.9" height="3.8" fill="#ff2f00"/><rect y="515.6" width="11.9" height="3.5" fill="#ff3a00"/><rect y="512.8" width="11.9" height="3.2" fill="#ff4400"/><rect y="510.3" width="11.9" height="3" fill="#ff4e00"/><rect y="507.9" width="11.9" height="2.8" fill="#ff5600"/><rect y="505.7" width="11.9" height="2.6" fill="#ff5f00"/><rect y="503.6" width="11.9" height="2.5" fill="#ff6600"/><rect y="501.6" width="11.9" height="2.4" fill="#ff6d00"/><rect y="498" width="11.9" height="4" fill="#ff7700"/><rect y="494.8" width="11.9" height="3.6" fill="#ff8300"/><rect y="491.9" width="11.9" height="3.3" fill="#ff8e00"/><rect y="489.2" width="11.9" height="3.1" fill="#ff9700"/><rect y="486.7" width="11.9" height="2.9" fill="#ffa000"/><rect y="484.4" width="11.9" height="2.7" fill="#ffa900"/><rect y="482.3" width="11.9" height="2.5" fill="#ffb100"/><rect y="480.3" width="11.9" height="2.4" fill="#ffb800"/><rect y="477.5" width="11.9" height="3.2" fill="#ffc000"/><rect y="474.9" width="11.9" height="3" fill="#ffca00"/><rect y="472.5" width="11.9" height="2.8" fill="#ffd200"/><rect y="470.3" width="11.9" height="2.6" fill="#ffda00"/><rect y="468.2" width="11.9" height="2.5" fill="#ffe200"/><rect y="432.2" width="11.9" height="36.4" fill="#ffe900"/></g>
<g transform="translate(265.3)"><rect y="718.7" width="11.4" height="22.7" fill="#ffff48"/><rect y="705.6" width="11.4" height="13.4" fill="#fffb00"/><rect y="696.4" width="11.4" height="9.7" fill="#ffce00"/><rect y="689.2" width="11.4" height="7.6" fill="#ffae00"/><rect y="683.3" width="11.4" height="6.3" fill="#ff9500"/><rect y="678.4" width="11.4" height="5.4" fill="#ff8100"/><rect y="674.1" width="11.4" height="4.7" fill="#ff7000"/><rect y="670.3" width="11.4" height="4.2" fill="#ff6200"/><rect y="666.9" width="11.4" height="3.8" fill="#ff5500"/><rect y="663.8" width="11.4" height="3.5" fill="#ff4900"/><rect y="661" width="11.4" height="3.2" fill="#ff3f00"/><rect y="658.5" width="11.4" height="3" fill="#ff3500"/><rect y="656.1" width="11.4" height="2.8" fill="#ff2c00"/><rect y="653.9" width="11.4" height="2.6" fill="#ff2400"/><rect y="651.8" width="11.4" height="2.5" fill="#ff1c00"/><rect y="649.8" width="11.4" height="2.4" fill="#ff1500"/><rect y="646.2" width="11.4" height="4" fill="#ff0b00"/><rect y="643" width="11.4" height="3.6" fill="#fd0000"/><rect y="640.1" width="11.4" height="3.3" fill="#f10000"/><rect y="637.4" width="11.4" height="3.1" fill="#e60000"/><rect y="634.9" width="11.4" height="2.9" fill="#db0000"/><rect y="632.6" width="11.4" height="2.7" fill="#d10000"/><rect y="622.3" width="11.4" height="10.7" fill="#c70000"/><rect y="615.1" width="11.4" height="7.6" fill="#9c0000"/><rect y="609.2" width="11.4" height="6.3" fill="#7f0000"/><rect y="604.3" width="11.4" height="5.4" fill="#6e0000"/><rect y="600" width="11.4" height="4.7" fill="#670000"/><rect y="596.2" width="11.4" height="4.2" fill="#680000"/><rect y="592.8" width="11.4" height="3.8" fill="#6d0000"/><rect y="589.7" width="11.4" height="3.5" fill="#730000"/><rect y="586.9" width="11.4" height="3.2" fill="#7a0000"/><rect y="584.4" width="11.4" height="3" fill="#7f0000"/><rect y="582" width="11.4" height="2.8" fill="#850000"/><rect y="579.8" width="11.4" height="2.6" fill="#890000"/><rect y="577.7" width="11.4" height="2.5" fill="#8e0000"/><rect y="575.7" width="11.4" height="2.4" fill="#920000"/><rect y="572.1" width="11.4" height="4" fill="#970000"/><rect y="568.9" width="11.4" height="3.6" fill="#9f0000"/><rect y="566" width="11.4" height="3.3" fill="#a50000"/><rect y="563.3" width="11.4" height="3.1" fill="#ac0000"/><rect y="560.8" width="11.4" height="2.9" fill="#b20000"/><rect y="558.5" width="11.4" height="2.7" fill="#b80000"/><rect y="548.2" width="11.4" height="10.7" fill="#be0000"/><rect y="541" width="11.4" height="7.6" fill="#da0000"/><rect y="535.1" width="11.4" height="6.3" fill="#f00000"/><rect y="530.2" width="11.4" height="5.4" fill="#ff0300"/><rect y="525.9" width="11.4" height="4.7" fill="#ff1400"/><rect y="522.1" width="11.4" height="4.2" fill="#ff2200"/><rect y="518.7" width="11.4" height="3.8" fill="#ff2e00"/><rect y="515.6" width="11.4" height="3.5" fill="#ff3a00"/><rect y="512.8" width="11.4" height="3.2" fill="#ff4400"/><rect y="510.3" width="11.4" height="3" fill="#ff4e00"/><rect y="507.9" width="11.4" height="2.8" fill="#ff5600"/><rect y="505.7" width="11.4" height="2.6" fill="#ff5e00"/><rect y="503.6" width="11.4" height="2.5" fill="#ff6600"/><rect y="501.6" width="11.4" height="2.4" fill="#ff6d00"/><rect y="498" width="11.4" height="4" fill="#ff7700"/><rect y="494.8" width="11.4" height="3.6" fill="#ff8300"/><rect y="491.9" width="11.4" height="3.3" fill="#ff8e00"/><rect y="489.2" width="11.4" height="3.1" fill="#ff9700"/><rect y="486.7" width="11.4" height="2.9" fill="#ffa000"/><rect y="484.4" width="11.4" height="2.7" fill="#ffa900"/><rect y="482.3" width="11.4" height="2.5" fill="#ffb100"/><rect y="480.3" width="11.4" height="2.4" fill="#ffb800"/><rect y="477.5" width="11.4" height="3.2" fill="#ffc000"/><rect y="474.9" width="11.4" height="3" fill="#ffca00"/><rect y="472.5" width="11.4" height="2.8" fill="#ffd200"/><rect y="470.3" width="11.4" height="2.6" fill="#ffda00"/><rect y="468.2" width="11.4" height="2.5" fill="#ffe200"/><rect y="432.2" width="11.4" height="36.4" fill="#ffe900"/></g>
<g transform="translate(276.3)"><rect y="718.7" width="10.9" height="22.7" fill="#ffff3e"/><rect y="705.6" width="10.9" height="13.4" fill="#fff000"/><rect y="696.4" width="10.9" height="9.7" fill="#ffc300"/><rect y="689.2" width="10.9" height="7.6" fill="#ffa400"/><rect y="683.3" width="10.9" height="6.3" fill="#ff8b00"/><rect y="678.4" width="10.9" height="5.4" fill="#ff7700"/><rect y="674.1" width="10.9" height="4.7" fill="#ff6600"/><rect y="670.3" width="10.9" height="4.2" fill="#ff5700"/><rect y="666.9" width="10.9" height="3.8" fill="#ff4a00"/><rect y="663.8" width="10.9" height="3.5" fill="#ff3f00"/><rect y="661" width="10.9" height="3.2" fill="#ff3400"/><rect y="658.5" width="10.9" height="3" fill="#ff2b00"/><rect y="656.1" width="10.9" height="2.8" fill="#ff2200"/><rect y="653.9" width="10.9" height="2.6" fill="#ff1a00"/><rect y="651.8" width="10.9" height="2.5" fill="#ff1200"/><rect y="649.8" width="10.9" height="2.4" fill="#ff0a00"/><rect y="646.2" width="10.9" height="4" fill="#ff0000"/><rect y="643" width="10.9" height="3.6" fill="#f20000"/><rect y="640.1" width="10.9" height="3.3" fill="#e60000"/><rect y="637.4" width="10.9" height="3.1" fill="#db0000"/><rect y="634.9" width="10.9" height="2.9" fill="#d00000"/><rect y="632.6" width="10.9" height="2.7" fill="#c60000"/><rect y="622.3" width="10.9" height="10.7" fill="#bc0000"/><rect y="615.1" width="10.9" height="7.6" fill="#910000"/><rect y="609.2" width="10.9" height="6.3" fill="#750000"/><rect y="604.3" width="10.9" height="5.4" fill="#660000"/><rect y="600" width="10.9" height="4.7" fill="#610000"/><rect y="596.2" width="10.9" height="4.2" fill="#640000"/><rect y="592.8" width="10.9" height="3.8" fill="#6a0000"/><rect y="589.7" width="10.9" height="3.5" fill="#710000"/><rect y="586.9" width="10.9" height="3.2" fill="#770000"/><rect y="584.4" width="10.9" height="3" fill="#7d0000"/><rect y="582" width="10.9" height="2.8" fill="#820000"/><rect y="579.8" width="10.9" height="2.6" fill="#870000"/><rect y="577.7" width="10.9" height="2.5" fill="#8b0000"/><rect y="575.7" width="10.9" height="2.4" fill="#8f0000"/><rect y="572.1" width="10.9" height="4" fill="#950000"/><rect y="568.9" width="10.9" height="3.6" fill="#9d0000"/><rect y="566" width="10.9" height="3.3" fill="#a30000"/><rect y="563.3" width="10.9" height="3.1" fill="#aa0000"/><rect y="560.8" width="10.9" height="2.9" fill="#b10000"/><rect y="558.5" width="10.9" height="2.7" fill="#b70000"/><rect y="548.2" width="10.9" height="10.7" fill="#bd0000"/><rect y="541" width="10.9" height="7.6" fill="#d90000"/><rect y="535.1" width="10.9" height="6.3" fill="#ef0000"/><rect y="530.2" width="10.9" height="5.4" fill="#ff0300"/><rect y="525.9" width="10.9" height="4.7" fill="#ff1300"/><rect y="522.1" width="10.9" height="4.2" fill="#ff2200"/><rect y="518.7" width="10.9" height="3.8" fill="#ff2e00"/><rect y="515.6" width="10.9" height="3.5" fill="#ff3a00"/><rect y="512.8" width="10.9" height="3.2" fill="#ff4400"/><rect y="510.3" width="10.9" height="3" fill="#ff4e00"/><rect y="507.9" width="10.9" height="2.8" fill="#ff5600"/><rect y="505.7" width="10.9" height="2.6" fill="#ff5e00"/><rect y="503.6" width="10.9" height="2.5" fill="#ff6600"/><rect y="501.6" width="10.9" height="2.4" fill="#ff6d00"/><rect y="498" width="10.9" height="4" fill="#ff7700"/><rect y="494.8" width="10.9" height="3.6" fill="#ff8300"/><rect y="491.9" width="10.9" height="3.3" fill="#ff8e00"/><rect y="489.2" width="10.9" height="3.1" fill="#ff9700"/><rect y="486.7" width="10.9" height="2.9" fill="#ffa000"/><rect y="484.4" width="10.9" height="2.7" fill="#ffa900"/><rect y="482.3" width="10.9" height="2.5" fill="#ffb000"/><rect y="480.3" width="10.9" height="2.4" fill="#ffb800"/><rect y="477.5" width="10.9" height="3.2" fill="#ffc000"/><rect y="474.9" width="10.9" height="3" fill="#ffca00"/><rect y="472.5" width="10.9" height="2.8" fill="#ffd200"/><rect y="470.3" width="10.9" height="2.6" fill="#ffda00"/><rect y="468.2" width="10.9" height="2.5" fill="#ffe200"/><rect y="432.2" width="10.9" height="36.4" fill="#ffe900"/></g>
<g transform="translate(286.8)"><rect y="718.7" width="10.5" height="22.7" fill="#ffff34"/><rect y="705.6" width="10.5" height="13.4" fill="#ffe600"/><rect y="696.4" width="10.5" height="9.7" fill="#ffba00"/><rect y="689.2" width="10.5" height="7.6" fill="#ff9a00"/><rect y="683.3" width="10.5" height="6.3" fill="#ff8100"/><rect y="678.4" width="10.5" height="5.4" fill="#ff6d00"/><rect y="674.1" width="10.5" height="4.7" fill="#ff5c00"/><rect y="670.3" width="10.5" height="4.2" fill="#ff4d00"/><rect y="666.9" width="10.5" height="3.8" fill="#ff4100"/><rect y="663.8" width="10.5" height="3.5" fill="#ff3500"/><rect y="661" width="10.5" height="3.2" fill="#ff2b00"/><rect y="658.5" width="10.5" height="3" fill="#ff2100"/><rect y="656.1" width="10.5" height="2.8" fill="#ff1800"/><rect y="653.9" width="10.5" height="2.6" fill="#ff1000"/><rect y="651.8" width="10.5" height="2.5" fill="#ff0800"/><rect y="649.8" width="10.5" height="2.4" fill="#ff0000"/><rect y="646.2" width="10.5" height="4" fill="#f50000"/><rect y="643" width="10.5" height="3.6" fill="#e80000"/><rect y="640.1" width="10.5" height="3.3" fill="#dc0000"/><rect y="637.4" width="10.5" height="3.1" fill="#d00000"/><rect y="634.9" width="10.5" height="2.9" fill="#c50000"/><rect y="632.6" width="10.5" height="2.7" fill="#bb0000"/><rect y="622.3" width="10.5" height="10.7" fill="#b10000"/><rect y="615.1" width="10.5" height="7.6" fill="#870000"/><rect y="609.2" width="10.5" height="6.3" fill="#6c0000"/><rect y="604.3" width="10.5" height="5.4" fill="#5e0000"/><rect y="600" width="10.5" height="4.7" fill="#5c0000"/><rect y="596.2" width="10.5" height="4.2" fill="#600000"/><rect y="592.8" width="10.5" height="3.8" fill="#670000"/><rect y="589.7" width="10.5" height="3.5" fill="#6e0000"/><rect y="586.9" width="10.5" height="3.2" fill="#750000"/><rect y="584.4" width="10.5" height="3" fill="#7b0000"/><rect y="582" width="10.5" height="2.8" fill="#800000"/><rect y="579.8" width="10.5" height="2.6" fill="#850000"/><rect y="577.7" width="10.5" height="2.5" fill="#890000"/><rect y="575.7" width="10.5" height="2.4" fill="#8d0000"/><rect y="572.1" width="10.5" height="4" fill="#930000"/><rect y="568.9" width="10.5" height="3.6" fill="#9b0000"/><rect y="566" width="10.5" height="3.3" fill="#a20000"/><rect y="563.3" width="10.5" height="3.1" fill="#a90000"/><rect y="560.8" width="10.5" height="2.9" fill="#af0000"/><rect y="558.5" width="10.5" height="2.7" fill="#b60000"/><rect y="548.2" width="10.5" height="10.7" fill="#bc0000"/><rect y="541" width="10.5" height="7.6" fill="#d90000"/><rect y="535.1" width="10.5" height="6.3" fill="#ef0000"/><rect y="530.2" width="10.5" height="5.4" fill="#ff0300"/><rect y="525.9" width="10.5" height="4.7" fill="#ff1300"/><rect y="522.1" width="10.5" height="4.2" fill="#ff2200"/><rect y="518.7" width="10.5" height="3.8" fill="#ff2e00"/><rect y="515.6" width="10.5" height="3.5" fill="#ff3a00"/><rect y="512.8" width="10.5" height="3.2" fill="#ff4400"/><rect y="510.3" width="10.5" height="3" fill="#ff4d00"/><rect y="507.9" width="10.5" height="2.8" fill="#ff5600"/><rect y="505.7" width="10.5" height="2.6" fill="#ff5e00"/><rect y="503.6" width="10.5" height="2.5" fill="#ff6600"/><rect y="501.6" width="10.5" height="2.4" fill="#ff6d00"/><rect y="498" width="10.5" height="4" fill="#ff7700"/><rect y="494.8" width="10.5" height="3.6" fill="#ff8300"/><rect y="491.9" width="10.5" height="3.3" fill="#ff8e00"/><rect y="489.2" width="10.5" height="3.1" fill="#ff9700"/><rect y="486.7" width="10.5" height="2.9" fill="#ffa000"/><rect y="484.4" width="10.5" height="2.7" fill="#ffa900"/><rect y="482.3" width="10.5" height="2.5" fill="#ffb000"/><rect y="480.3" width="10.5" height="2.4" fill="#ffb800"/><rect y="477.5" width="10.5" height="3.2" fill="#ffc000"/><rect y="474.9" width="10.5" height="3" fill="#ffca00"/><rect y="472.5" width="10.5" height="2.8" fill="#ffd200"/><rect y="470.3" width="10.5" height="2.6" fill="#ffda00"/><rect y="468.2" width="10.5" height="2.5" fill="#ffe200"/><rect y="432.2" width="10.5" height="36.4" fill="#ffe900"/></g>
<g transform="translate(296.9)"><rect y="718.7" width="10.1" height="22.7" fill="#ffff2b"/><rect y="705.6" width="10.1" height="13.4" fill="#ffdd00"/><rect y="696.4" width="10.1" height="9.7" fill="#ffb000"/><rect y="689.2" width="10.1" height="7.6" fill="#ff9000"/><rect y="683.3" width="10.1" height="6.3" fill="#ff7800"/><rect y="678.4" width="10.1" height="5.4" fill="#ff6400"/><rect y="674.1" width="10.1" height="4.7" fill="#ff5300"/><rect y="670.3" width="10.1" height="4.2" fill="#ff4400"/><rect y="666.9" width="10.1" height="3.8" fill="#ff3700"/><rect y="663.8" width="10.1" height="3.5" fill="#ff2c00"/><rect y="661" width="10.1" height="3.2" fill="#ff2100"/><rect y="658.5" width="10.1" height="3" fill="#ff1700"/><rect y="656.1" width="10.1" height="2.8" fill="#ff0f00"/><rect y="653.9" width="10.1" height="2.6" fill="#ff0600"/><rect y="651.8" width="10.1" height="2.5" fill="#fd0000"/><rect y="649.8" width="10.1" height="2.4" fill="#f60000"/><rect y="646.2" width="10.1" height="4" fill="#eb0000"/><rect y="643" width="10.1" height="3.6" fill="#de0000"/><rect y="640.1" width="10.1" height="3.3" fill="#d20000"/><rect y="637.4" width="10.1" height="3.1" fill="#c60000"/><rect y="634.9" width="10.1" height="2.9" fill="#bb0000"/><rect y="632.6" width="10.1" height="2.7" fill="#b10000"/><rect y="622.3" width="10.1" height="10.7" fill="#a70000"/><rect y="615.1" width="10.1" height="7.6" fill="#7d0000"/><rect y="609.2" width="10.1" height="6.3" fill="#640000"/><rect y="604.3" width="10.1" height="5.4" fill="#580000"/><rect y="600" width="10.1" height="4.7" fill="#580000"/><rect y="596.2" width="10.1" height="4.2" fill="#5e0000"/><rect y="592.8" width="10.1" height="3.8" fill="#650000"/><rect y="589.7" width="10.1" height="3.5" fill="#6c0000"/><rect y="586.9" width="10.1" height="3.2" fill="#730000"/><rect y="584.4" width="10.1" height="3" fill="#790000"/><rect y="582" width="10.1" height="2.8" fill="#7e0000"/><rect y="579.8" width="10.1" height="2.6" fill="#830000"/><rect y="577.7" width="10.1" height="2.5" fill="#870000"/><rect y="575.7" width="10.1" height="2.4" fill="#8b0000"/><rect y="572.1" width="10.1" height="4" fill="#910000"/><rect y="568.9" width="10.1" height="3.6" fill="#990000"/><rect y="566" width="10.1" height="3.3" fill="#a00000"/><rect y="563.3" width="10.1" height="3.1" fill="#a70000"/><rect y="560.8" width="10.1" height="2.9" fill="#ae0000"/><rect y="558.5" width="10.1" height="2.7" fill="#b50000"/><rect y="548.2" width="10.1" height="10.7" fill="#bb0000"/><rect y="541" width="10.1" height="7.6" fill="#d80000"/><rect y="535.1" width="10.1" height="6.3" fill="#ef0000"/><rect y="530.2" width="10.1" height="5.4" fill="#ff0300"/><rect y="525.9" width="10.1" height="4.7" fill="#ff1300"/><rect y="522.1" width="10.1" height="4.2" fill="#ff2100"/><rect y="518.7" width="10.1" height="3.8" fill="#ff2e00"/><rect y="515.6" width="10.1" height="3.5" fill="#ff3a00"/><rect y="512.8" width="10.1" height="3.2" fill="#ff4400"/><rect y="510.3" width="10.1" height="3" fill="#ff4d00"/><rect y="507.9" width="10.1" height="2.8" fill="#ff5600"/><rect y="505.7" width="10.1" height="2.6" fill="#ff5e00"/><rect y="503.6" width="10.1" height="2.5" fill="#ff6600"/><rect y="501.6" width="10.1" height="2.4" fill="#ff6d00"/><rect y="498" width="10.1" height="4" fill="#ff7700"/><rect y="494.8" width="10.1" height="3.6" fill="#ff8300"/><rect y="491.9" width="10.1" height="3.3" fill="#ff8e00"/><rect y="489.2" width="10.1" height="3.1" fill="#ff9700"/><rect y="486.7" width="10.1" height="2.9" fill="#ffa000"/><rect y="484.4" width="10.1" height="2.7" fill="#ffa900"/><rect y="482.3" width="10.1" height="2.5" fill="#ffb000"/><rect y="480.3" width="10.1" height="2.4" fill="#ffb800"/><rect y="477.5" width="10.1" height="3.2" fill="#ffc000"/><rect y="474.9" width="10.1" height="3" fill="#ffc900"/><rect y="472.5" width="10.1" height="2.8" fill="#ffd200"/><rect y="470.3" width="10.1" height="2.6" fill="#ffda00"/><rect y="468.2" width="10.1" height="2.5" fill="#ffe200"/><rect y="432.2" width="10.1" height="36.4" fill="#ffe900"/></g>
<g transform="translate(306.5)"><rect y="718.7" width="9.7" height="22.7" fill="#ffff22"/><rect y="705.6" width="9.7" height="13.4" fill="#ffd400"/><rect y="696.4" width="9.7" height="9.7" fill="#ffa700"/><rect y="689.2" width="9.7" height="7.6" fill="#ff8700"/><rect y="683.3" width="9.7" height="6.3" fill="#ff6f00"/><rect y="678.4" width="9.7" height="5.4" fill="#ff5b00"/><rect y="674.1" width="9.7" height="4.7" fill="#ff4a00"/><rect y="670.3" width="9.7" height="4.2" fill="#ff3b00"/><rect y="666.9" width="9.7" height="3.8" fill="#ff2e00"/><rect y="663.8" width="9.7" height="3.5" fill="#ff2300"/><rect y="661" width="9.7" height="3.2" fill="#ff1800"/><rect y="658.5" width="9.7" height="3" fill="#ff0e00"/><rect y="656.1" width="9.7" height="2.8" fill="#ff0500"/><rect y="653.9" width="9.7" height="2.6" fill="#fc0000"/><rect y="651.8" width="9.7" height="2.5" fill="#f40000"/><rect y="649.8" width="9.7" height="2.4" fill="#ed0000"/><rect y="646.2" width="9.7" height="4" fill="#e20000"/><rect y="643" width="9.7" height="3.6" fill="#d50000"/><rect y="640.1" width="9.7" height="3.3" fill="#c80000"/><rect y="637.4" width="9.7" height="3.1" fill="#bc0000"/><rect y="634.9" width="9.7" height="2.9" fill="#b10000"/><rect y="632.6" width="9.7" height="2.7" fill="#a70000"/><rect y="622.3" width="9.7" height="10.7" fill="#9d0000"/><rect y="615.1" width="9.7" height="7.6" fill="#730000"/><rect y="609.2" width="9.7" height="6.3" fill="#5c0000"/><rect y="604.3" width="9.7" height="5.4" fill="#520000"/><rect y="600" width="9.7" height="4.7" fill="#540000"/><rect y="596.2" width="9.7" height="4.2" fill="#5b0000"/><rect y="592.8" width="9.7" height="3.8" fill="#630000"/><rect y="589.7" width="9.7" height="3.5" fill="#6a0000"/><rect y="586.9" width="9.7" height="3.2" fill="#710000"/><rect y="584.4" width="9.7" height="3" fill="#770000"/><rect y="582" width="9.7" height="2.8" fill="#7c0000"/><rect y="579.8" width="9.7" height="2.6" fill="#810000"/><rect y="577.7" width="9.7" height="2.5" fill="#850000"/><rect y="575.7" width="9.7" height="2.4" fill="#890000"/><rect y="572.1" width="9.7" height="4" fill="#900000"/><rect y="568.9" width="9.7" height="3.6" fill="#970000"/><rect y="566" width="9.7" height="3.3" fill="#9f0000"/><rect y="563.3" width="9.7" height="3.1" fill="#a60000"/><rect y="560.8" width="9.7" height="2.9" fill="#ad0000"/><rect y="558.5" width="9.7" height="2.7" fill="#b40000"/><rect y="548.2" width="9.7" height="10.7" fill="#ba0000"/><rect y="541" width="9.7" height="7.6" fill="#d80000"/><rect y="535.1" width="9.7" height="6.3" fill="#ee0000"/><rect y="530.2" width="9.7" height="5.4" fill="#ff0200"/><rect y="525.9" width="9.7" height="4.7" fill="#ff1300"/><rect y="522.1" width="9.7" height="4.2" fill="#ff2100"/><rect y="518.7" width="9.7" height="3.8" fill="#ff2e00"/><rect y="515.6" width="9.7" height="3.5" fill="#ff3900"/><rect y="512.8" width="9.7" height="3.2" fill="#ff4400"/><rect y="510.3" width="9.7" height="3" fill="#ff4d00"/><rect y="507.9" width="9.7" height="2.8" fill="#ff5600"/><rect y="505.7" width="9.7" height="2.6" fill="#ff5e00"/><rect y="503.6" width="9.7" height="2.5" fill="#ff6600"/><rect y="501.6" width="9.7" height="2.4" fill="#ff6d00"/><rect y="498" width="9.7" height="4" fill="#ff7700"/><rect y="494.8" width="9.7" height="3.6" fill="#ff8300"/><rect y="491.9" width="9.7" height="3.3" fill="#ff8e00"/><rect y="489.2" width="9.7" height="3.1" fill="#ff9700"/><rect y="486.7" width="9.7" height="2.9" fill="#ffa000"/><rect y="484.4" width="9.7" height="2.7" fill="#ffa900"/><rect y="482.3" width="9.7" height="2.5" fill="#ffb000"/><rect y="480.3" width="9.7" height="2.4" fill="#ffb800"/><rect y="477.5" width="9.7" height="3.2" fill="#ffc000"/><rect y="474.9" width="9.7" height="3" fill="#ffc900"/><rect y="472.5" width="9.7" height="2.8" fill="#ffd200"/><rect y="470.3" width="9.7" height="2.6" fill="#ffda00"/><rect y="468.2" width="9.7" height="2.5" fill="#ffe200"/><rect y="432.2" width="9.7" height="36.4" fill="#ffe900"/></g>
<g transform="translate(315.8)"><rect y="718.7" width="9.3" height="22.7" fill="#ffff19"/><rect y="705.6" width="9.3" height="13.4" fill="#ffcb00"/><rect y="696.4" width="9.3" height="9.7" fill="#ff9e00"/><rect y="689.2" width="9.3" height="7.6" fill="#ff7f00"/><rect y="683.3" width="9.3" height="6.3" fill="#ff6600"/><rect y="678.4" width="9.3" height="5.4" fill="#ff5200"/><rect y="674.1" width="9.3" height="4.7" fill="#ff4100"/><rect y="670.3" width="9.3" height="4.2" fill="#ff3200"/><rect y="666.9" width="9.3" height="3.8" fill="#ff2600"/><rect y="663.8" width="9.3" height="3.5" fill="#ff1a00"/><rect y="661" width="9.3" height="3.2" fill="#ff0f00"/><rect y="658.5" width="9.3" height="3" fill="#ff0600"/><rect y="656.1" width="9.3" height="2.8" fill="#fc0000"/><rect y="653.9" width="9.3" height="2.6" fill="#f30000"/><rect y="651.8" width="9.3" height="2.5" fill="#eb0000"/><rect y="649.8" width="9.3" height="2.4" fill="#e40000"/><rect y="646.2" width="9.3" height="4" fill="#d90000"/><rect y="643" width="9.3" height="3.6" fill="#cc0000"/><rect y="640.1" width="9.3" height="3.3" fill="#bf0000"/><rect y="637.4" width="9.3" height="3.1" fill="#b30000"/><rect y="634.9" width="9.3" height="2.9" fill="#a80000"/><rect y="632.6" width="9.3" height="2.7" fill="#9d0000"/><rect y="622.3" width="9.3" height="10.7" fill="#930000"/><rect y="615.1" width="9.3" height="7.6" fill="#6a0000"/><rect y="609.2" width="9.3" height="6.3" fill="#550000"/><rect y="604.3" width="9.3" height="5.4" fill="#4d0000"/><rect y="600" width="9.3" height="4.7" fill="#510000"/><rect y="596.2" width="9.3" height="4.2" fill="#590000"/><rect y="592.8" width="9.3" height="3.8" fill="#610000"/><rect y="589.7" width="9.3" height="3.5" fill="#680000"/><rect y="586.9" width="9.3" height="3.2" fill="#6f0000"/><rect y="584.4" width="9.3" height="3" fill="#750000"/><rect y="582" width="9.3" height="2.8" fill="#7a0000"/><rect y="579.8" width="9.3" height="2.6" fill="#7f0000"/><rect y="577.7" width="9.3" height="2.5" fill="#830000"/><rect y="575.7" width="9.3" height="2.4" fill="#880000"/><rect y="572.1" width="9.3" height="4" fill="#8e0000"/><rect y="568.9" width="9.3" height="3.6" fill="#960000"/><rect y="566" width="9.3" height="3.3" fill="#9e0000"/><rect y="563.3" width="9.3" height="3.1" fill="#a50000"/><rect y="560.8" width="9.3" height="2.9" fill="#ac0000"/><rect y="558.5" width="9.3" height="2.7" fill="#b30000"/><rect y="548.2" width="9.3" height="10.7" fill="#ba0000"/><rect y="541" width="9.3" height="7.6" fill="#d70000"/><rect y="535.1" width="9.3" height="6.3" fill="#ee0000"/><rect y="530.2" width="9.3" height="5.4" fill="#ff0200"/><rect y="525.9" width="9.3" height="4.7" fill="#ff1300"/><rect y="522.1" width="9.3" height="4.2" fill="#ff2100"/><rect y="518.7" width="9.3" height="3.8" fill="#ff2e00"/><rect y="515.6" width="9.3" height="3.5" fill="#ff3900"/><rect y="512.8" width="9.3" height="3.2" fill="#ff4400"/><rect y="510.3" width="9.3" height="3" fill="#ff4d00"/><rect y="507.9" width="9.3" height="2.8" fill="#ff5600"/><rect y="505.7" width="9.3" height="2.6" fill="#ff5e00"/><rect y="503.6" width="9.3" height="2.5" fill="#ff6600"/><rect y="501.6" width="9.3" height="2.4" fill="#ff6d00"/><rect y="498" width="9.3" height="4" fill="#ff7700"/><rect y="494.8" width="9.3" height="3.6" fill="#ff8300"/><rect y="491.9" width="9.3" height="3.3" fill="#ff8d00"/><rect y="489.2" width="9.3" height="3.1" fill="#ff9700"/><rect y="486.7" width="9.3" height="2.9" fill="#ffa000"/><rect y="484.4" width="9.3" height="2.7" fill="#ffa900"/><rect y="482.3" width="9.3" height="2.5" fill="#ffb000"/><rect y="480.3" width="9.3" height="2.4" fill="#ffb800"/><rect y="477.5" width="9.3" height="3.2" fill="#ffc000"/><rect y="474.9" width="9.3" height="3" fill="#ffc900"/><rect y="472.5" width="9.3" height="2.8" fill="#ffd200"/><rect y="470.3" width="9.3" height="2.6" fill="#ffda00"/><rect y="468.2" width="9.3" height="2.5" fill="#ffe200"/><rect y="432.2" width="9.3" height="36.4" fill="#ffe900"/></g>
<g transform="translate(324.7)"><rect y="718.7" width="9" height="22.7" fill="#ffff11"/><rect y="705.6" width="9" height="13.4" fill="#ffc300"/><rect y="696.4" width="9" height="9.7" fill="#ff9600"/><rect y="689.2" width="9" height="7.6" fill="#ff7600"/><rect y="683.3" width="9" height="6.3" fill="#ff5e00"/><rect y="678.4" width="9" height="5.4" fill="#ff4a00"/><rect y="674.1" width="9" height="4.7" fill="#ff3900"/><rect y="670.3" width="9" height="4.2" fill="#ff2a00"/><rect y="666.9" width="9" height="3.8" fill="#ff1d00"/><rect y="663.8" width="9" height="3.5" fill="#ff1200"/><rect y="661" width="9" height="3.2" fill="#ff0700"/><rect y="658.5" width="9" height="3" fill="#fc0000"/><rect y="656.1" width="9" height="2.8" fill="#f30000"/><rect y="653.9" width="9" height="2.6" fill="#eb0000"/><rect y="651.8" width="9" height="2.5" fill="#e30000"/><rect y="649.8" width="9" height="2.4" fill="#db0000"/><rect y="646.2" width="9" height="4" fill="#d00000"/><rect y="643" width="9" height="3.6" fill="#c30000"/><rect y="640.1" width="9" height="3.3" fill="#b60000"/><rect y="637.4" width="9" height="3.1" fill="#aa0000"/><rect y="634.9" width="9" height="2.9" fill="#9f0000"/><rect y="632.6" width="9" height="2.7" fill="#940000"/><rect y="622.3" width="9" height="10.7" fill="#8a0000"/><rect y="615.1" width="9" height="7.6" fill="#620000"/><rect y="609.2" width="9" height="6.3" fill="#4e0000"/><rect y="604.3" width="9" height="5.4" fill="#490000"/><rect y="600" width="9" height="4.7" fill="#4e0000"/><rect y="596.2" width="9" height="4.2" fill="#570000"/><rect y="592.8" width="9" height="3.8" fill="#5f0000"/><rect y="589.7" width="9" height="3.5" fill="#660000"/><rect y="586.9" width="9" height="3.2" fill="#6d0000"/><rect y="584.4" width="9" height="3" fill="#730000"/><rect y="582" width="9" height="2.8" fill="#780000"/><rect y="579.8" width="9" height="2.6" fill="#7d0000"/><rect y="577.7" width="9" height="2.5" fill="#820000"/><rect y="575.7" width="9" height="2.4" fill="#860000"/><rect y="572.1" width="9" height="4" fill="#8d0000"/><rect y="568.9" width="9" height="3.6" fill="#950000"/><rect y="566" width="9" height="3.3" fill="#9d0000"/><rect y="563.3" width="9" height="3.1" fill="#a40000"/><rect y="560.8" width="9" height="2.9" fill="#ab0000"/><rect y="558.5" width="9" height="2.7" fill="#b20000"/><rect y="548.2" width="9" height="10.7" fill="#b90000"/><rect y="541" width="9" height="7.6" fill="#d70000"/><rect y="535.1" width="9" height="6.3" fill="#ee0000"/><rect y="530.2" width="9" height="5.4" fill="#ff0200"/><rect y="525.9" width="9" height="4.7" fill="#ff1300"/><rect y="522.1" width="9" height="4.2" fill="#ff2100"/><rect y="518.7" width="9" height="3.8" fill="#ff2e00"/><rect y="515.6" width="9" height="3.5" fill="#ff3900"/><rect y="512.8" width="9" height="3.2" fill="#ff4400"/><rect y="510.3" width="9" height="3" fill="#ff4d00"/><rect y="507.9" width="9" height="2.8" fill="#ff5600"/><rect y="505.7" width="9" height="2.6" fill="#ff5e00"/><rect y="503.6" width="9" height="2.5" fill="#ff6600"/><rect y="501.6" width="9" height="2.4" fill="#ff6d00"/><rect y="498" width="9" height="4" fill="#ff7700"/><rect y="494.8" width="9" height="3.6" fill="#ff8300"/><rect y="491.9" width="9" height="3.3" fill="#ff8d00"/><rect y="489.2" width="9" height="3.1" fill="#ff9700"/><rect y="486.7" width="9" height="2.9" fill="#ffa000"/><rect y="484.4" width="9" height="2.7" fill="#ffa900"/><rect y="482.3" width="9" height="2.5" fill="#ffb000"/><rect y="480.3" width="9" height="2.4" fill="#ffb800"/><rect y="477.5" width="9" height="3.2" fill="#ffc000"/><rect y="474.9" width="9" height="3" fill="#ffc900"/><rect y="472.5" width="9" height="2.8" fill="#ffd200"/><rect y="470.3" width="9" height="2.6" fill="#ffda00"/><rect y="468.2" width="9" height="2.5" fill="#ffe200"/><rect y="432.2" width="9" height="36.4" fill="#ffe900"/></g>
<g transform="translate(333.3)"><rect y="718.7" width="8.7" height="22.7" fill="#ffff09"/><rect y="705.6" width="8.7" height="13.4" fill="#ffbb00"/><rect y="696.4" width="8.7" height="9.7" fill="#ff8e00"/><rect y="689.2" width="8.7" height="7.6" fill="#ff6e00"/><rect y="683.3" width="8.7" height="6.3" fill="#ff5600"/><rect y="678.4" width="8.7" height="5.4" fill="#ff4200"/><rect y="674.1" width="8.7" height="4.7" fill="#ff3100"/><rect y="670.3" width="8.7" height="4.2" fill="#ff2200"/><rect y="666.9" width="8.7" height="3.8" fill="#ff1500"/><rect y="663.8" width="8.7" height="3.5" fill="#ff0a00"/><rect y="661" width="8.7" height="3.2" fill="#fe0000"/><rect y="658.5" width="8.7" height="3" fill="#f40000"/><rect y="656.1" width="8.7" height="2.8" fill="#eb0000"/><rect y="653.9" width="8.7" height="2.6" fill="#e30000"/><rect y="651.8" width="8.7" height="2.5" fill="#db0000"/><rect y="649.8" width="8.7" height="2.4" fill="#d30000"/><rect y="646.2" width="8.7" height="4" fill="#c80000"/><rect y="643" width="8.7" height="3.6" fill="#ba0000"/><rect y="640.1" width="8.7" height="3.3" fill="#ad0000"/><rect y="637.4" width="8.7" height="3.1" fill="#a10000"/><rect y="634.9" width="8.7" height="2.9" fill="#960000"/><rect y="632.6" width="8.7" height="2.7" fill="#8b0000"/><rect y="622.3" width="8.7" height="10.7" fill="#810000"/><rect y="615.1" width="8.7" height="7.6" fill="#5a0000"/><rect y="609.2" width="8.7" height="6.3" fill="#480000"/><rect y="604.3" width="8.7" height="5.4" fill="#450000"/><rect y="600" width="8.7" height="4.7" fill="#4c0000"/><rect y="596.2" width="8.7" height="4.2" fill="#550000"/><rect y="592.8" width="8.7" height="3.8" fill="#5d0000"/><rect y="589.7" width="8.7" height="3.5" fill="#650000"/><rect y="586.9" width="8.7" height="3.2" fill="#6b0000"/><rect y="584.4" width="8.7" height="3" fill="#710000"/><rect y="582" width="8.7" height="2.8" fill="#760000"/><rect y="579.8" width="8.7" height="2.6" fill="#7b0000"/><rect y="577.7" width="8.7" height="2.5" fill="#800000"/><rect y="575.7" width="8.7" height="2.4" fill="#850000"/><rect y="572.1" width="8.7" height="4" fill="#8b0000"/><rect y="568.9" width="8.7" height="3.6" fill="#940000"/><rect y="566" width="8.7" height="3.3" fill="#9c0000"/><rect y="563.3" width="8.7" height="3.1" fill="#a30000"/><rect y="560.8" width="8.7" height="2.9" fill="#ab0000"/><rect y="558.5" width="8.7" height="2.7" fill="#b20000"/><rect y="548.2" width="8.7" height="10.7" fill="#b80000"/><rect y="541" width="8.7" height="7.6" fill="#d60000"/><rect y="535.1" width="8.7" height="6.3" fill="#ee0000"/><rect y="530.2" width="8.7" height="5.4" fill="#ff0200"/><rect y="525.9" width="8.7" height="4.7" fill="#ff1300"/><rect y="522.1" width="8.7" height="4.2" fill="#ff2100"/><rect y="518.7" width="8.7" height="3.8" fill="#ff2e00"/><rect y="515.6" width="8.7" height="3.5" fill="#ff3900"/><rect y="512.8" width="8.7" height="3.2" fill="#ff4400"/><rect y="510.3" width="8.7" height="3" fill="#ff4d00"/><rect y="507.9" width="8.7" height="2.8" fill="#ff5600"/><rect y="505.7" width="8.7" height="2.6" fill="#ff5e00"/><rect y="503.6" width="8.7" height="2.5" fill="#ff6600"/><rect y="501.6" width="8.7" height="2.4" fill="#ff6d00"/><rect y="498" width="8.7" height="4" fill="#ff7700"/><rect y="494.8" width="8.7" height="3.6" fill="#ff8300"/><rect y="491.9" width="8.7" height="3.3" fill="#ff8d00"/><rect y="489.2" width="8.7" height="3.1" fill="#ff9700"/><rect y="486.7" width="8.7" height="2.9" fill="#ffa000"/><rect y="484.4" width="8.7" height="2.7" fill="#ffa900"/><rect y="482.3" width="8.7" height="2.5" fill="#ffb000"/><rect y="480.3" width="8.7" height="2.4" fill="#ffb800"/><rect y="477.5" width="8.7" height="3.2" fill="#ffc000"/><rect y="474.9" width="8.7" height="3" fill="#ffc900"/><rect y="472.5" width="8.7" height="2.8" fill="#ffd200"/><rect y="470.3" width="8.7" height="2.6" fill="#ffda00"/><rect y="468.2" width="8.7" height="2.5" fill="#ffe200"/><rect y="432.2" width="8.7" height="36.4" fill="#ffe900"/></g>
<g transform="translate(341.6)"><rect y="718.7" width="8.4" height="22.7" fill="#ffff01"/><rect y="705.6" width="8.4" height="13.4" fill="#ffb300"/><rect y="696.4" width="8.4" height="9.7" fill="#ff8600"/><rect y="689.2" width="8.4" height="7.6" fill="#ff6700"/><rect y="683.3" width="8.4" height="6.3" fill="#ff4e00"/><rect y="678.4" width="8.4" height="5.4" fill="#ff3a00"/><rect y="674.1" width="8.4" height="4.7" fill="#ff2900"/><rect y="670.3" width="8.4" height="4.2" fill="#ff1a00"/><rect y="666.9" width="8.4" height="3.8" fill="#ff0d00"/><rect y="663.8" width="8.4" height="3.5" fill="#ff0200"/><rect y="661" width="8.4" height="3.2" fill="#f60000"/><rect y="658.5" width="8.4" height="3" fill="#ec0000"/><rect y="656.1" width="8.4" height="2.8" fill="#e30000"/><rect y="653.9" width="8.4" height="2.6" fill="#db0000"/><rect y="651.8" width="8.4" height="2.5" fill="#d30000"/><rect y="649.8" width="8.4" height="2.4" fill="#cb0000"/><rect y="646.2" width="8.4" height="4" fill="#c00000"/><rect y="643" width="8.4" height="3.6" fill="#b20000"/><rect y="640.1" width="8.4" height="3.3" fill="#a50000"/><rect y="637.4" width="8.4" height="3.1" fill="#990000"/><rect y="634.9" width="8.4" height="2.9" fill="#8d0000"/><rect y="632.6" width="8.4" height="2.7" fill="#830000"/><rect y="622.3" width="8.4" height="10.7" fill="#790000"/><rect y="615.1" width="8.4" height="7.6" fill="#530000"/><rect y="609.2" width="8.4" height="6.3" fill="#420000"/><rect y="604.3" width="8.4" height="5.4" fill="#420000"/><rect y="600" width="8.4" height="4.7" fill="#4a0000"/><rect y="596.2" width="8.4" height="4.2" fill="#530000"/><rect y="592.8" width="8.4" height="3.8" fill="#5c0000"/><rect y="589.7" width="8.4" height="3.5" fill="#630000"/><rect y="586.9" width="8.4" height="3.2" fill="#690000"/><rect y="584.4" width="8.4" height="3" fill="#6f0000"/><rect y="582" width="8.4" height="2.8" fill="#750000"/><rect y="579.8" width="8.4" height="2.6" fill="#7a0000"/><rect y="577.7" width="8.4" height="2.5" fill="#7f0000"/><rect y="575.7" width="8.4" height="2.4" fill="#830000"/><rect y="572.1" width="8.4" height="4" fill="#8a0000"/><rect y="568.9" width="8.4" height="3.6" fill="#930000"/><rect y="566" width="8.4" height="3.3" fill="#9b0000"/><rect y="563.3" width="8.4" height="3.1" fill="#a30000"/><rect y="560.8" width="8.4" height="2.9" fill="#aa0000"/><rect y="558.5" width="8.4" height="2.7" fill="#b10000"/><rect y="548.2" width="8.4" height="10.7" fill="#b80000"/><rect y="541" width="8.4" height="7.6" fill="#d60000"/><rect y="535.1" width="8.4" height="6.3" fill="#ed0000"/><rect y="530.2" width="8.4" height="5.4" fill="#ff0200"/><rect y="525.9" width="8.4" height="4.7" fill="#ff1200"/><rect y="522.1" width="8.4" height="4.2" fill="#ff2100"/><rect y="518.7" width="8.4" height="3.8" fill="#ff2e00"/><rect y="515.6" width="8.4" height="3.5" fill="#ff3900"/><rect y="512.8" width="8.4" height="3.2" fill="#ff4400"/><rect y="510.3" width="8.4" height="3" fill="#ff4d00"/><rect y="507.9" width="8.4" height="2.8" fill="#ff5600"/><rect y="505.7" width="8.4" height="2.6" fill="#ff5e00"/><rect y="503.6" width="8.4" height="2.5" fill="#ff6600"/><rect y="501.6" width="8.4" height="2.4" fill="#ff6d00"/><rect y="498" width="8.4" height="4" fill="#ff7700"/><rect y="494.8" width="8.4" height="3.6" fill="#ff8300"/><rect y="491.9" width="8.4" height="3.3" fill="#ff8d00"/><rect y="489.2" width="8.4" height="3.1" fill="#ff9700"/><rect y="486.7" width="8.4" height="2.9" fill="#ffa000"/><rect y="484.4" width="8.4" height="2.7" fill="#ffa900"/><rect y="482.3" width="8.4" height="2.5" fill="#ffb000"/><rect y="480.3" width="8.4" height="2.4" fill="#ffb800"/><rect y="477.5" width="8.4" height="3.2" fill="#ffc000"/><rect y="474.9" width="8.4" height="3" fill="#ffc900"/><rect y="472.5" width="8.4" height="2.8" fill="#ffd200"/><rect y="470.3" width="8.4" height="2.6" fill="#ffda00"/><rect y="468.2" width="8.4" height="2.5" fill="#ffe200"/><rect y="432.2" width="8.4" height="36.4" fill="#ffe900"/></g>
<g transform="translate(349.7)"><rect y="718.7" width="8.2" height="22.7" fill="#fff800"/><rect y="705.6" width="8.2" height="13.4" fill="#ffac00"/><rect y="696.4" width="8.2" height="9.7" fill="#ff7f00"/><rect y="689.2" width="8.2" height="7.6" fill="#ff5f00"/><rect y="683.3" width="8.2" height="6.3" fill="#ff4600"/><rect y="678.4" width="8.2" height="5.4" fill="#ff3200"/><rect y="674.1" width="8.2" height="4.7" fill="#ff2200"/><rect y="670.3" width="8.2" height="4.2" fill="#ff1300"/><rect y="666.9" width="8.2" height="3.8" fill="#ff0600"/><rect y="663.8" width="8.2" height="3.5" fill="#f90000"/><rect y="661" width="8.2" height="3.2" fill="#ef0000"/><rect y="658.5" width="8.2" height="3" fill="#e50000"/><rect y="656.1" width="8.2" height="2.8" fill="#dc0000"/><rect y="653.9" width="8.2" height="2.6" fill="#d30000"/><rect y="651.8" width="8.2" height="2.5" fill="#cb0000"/><rect y="649.8" width="8.2" height="2.4" fill="#c30000"/><rect y="646.2" width="8.2" height="4" fill="#b80000"/><rect y="643" width="8.2" height="3.6" fill="#aa0000"/><rect y="640.1" width="8.2" height="3.3" fill="#9d0000"/><rect y="637.4" width="8.2" height="3.1" fill="#900000"/><rect y="634.9" width="8.2" height="2.9" fill="#850000"/><rect y="632.6" width="8.2" height="2.7" fill="#7a0000"/><rect y="622.3" width="8.2" height="10.7" fill="#710000"/><rect y="615.1" width="8.2" height="7.6" fill="#4c0000"/><rect y="609.2" width="8.2" height="6.3" fill="#3e0000"/><rect y="604.3" width="8.2" height="5.4" fill="#3f0000"/><rect y="600" width="8.2" height="4.7" fill="#480000"/><rect y="596.2" width="8.2" height="4.2" fill="#510000"/><rect y="592.8" width="8.2" height="3.8" fill="#5a0000"/><rect y="589.7" width="8.2" height="3.5" fill="#610000"/><rect y="586.9" width="8.2" height="3.2" fill="#680000"/><rect y="584.4" width="8.2" height="3" fill="#6e0000"/><rect y="582" width="8.2" height="2.8" fill="#730000"/><rect y="579.8" width="8.2" height="2.6" fill="#780000"/><rect y="577.7" width="8.2" height="2.5" fill="#7d0000"/><rect y="575.7" width="8.2" height="2.4" fill="#820000"/><rect y="572.1" width="8.2" height="4" fill="#890000"/><rect y="568.9" width="8.2" height="3.6" fill="#920000"/><rect y="566" width="8.2" height="3.3" fill="#9a0000"/><rect y="563.3" width="8.2" height="3.1" fill="#a20000"/><rect y="560.8" width="8.2" height="2.9" fill="#a90000"/><rect y="558.5" width="8.2" height="2.7" fill="#b10000"/><rect y="548.2" width="8.2" height="10.7" fill="#b70000"/><rect y="541" width="8.2" height="7.6" fill="#d60000"/><rect y="535.1" width="8.2" height="6.3" fill="#ed0000"/><rect y="530.2" width="8.2" height="5.4" fill="#ff0200"/><rect y="525.9" width="8.2" height="4.7" fill="#ff1200"/><rect y="522.1" width="8.2" height="4.2" fill="#ff2100"/><rect y="518.7" width="8.2" height="3.8" fill="#ff2e00"/><rect y="515.6" width="8.2" height="3.5" fill="#ff3900"/><rect y="512.8" width="8.2" height="3.2" fill="#ff4400"/><rect y="510.3" width="8.2" height="3" fill="#ff4d00"/><rect y="507.9" width="8.2" height="2.8" fill="#ff5600"/><rect y="505.7" width="8.2" height="2.6" fill="#ff5e00"/><rect y="503.6" width="8.2" height="2.5" fill="#ff6600"/><rect y="501.6" width="8.2" height="2.4" fill="#ff6d00"/><rect y="498" width="8.2" height="4" fill="#ff7700"/><rect y="494.8" width="8.2" height="3.6" fill="#ff8300"/><rect y="491.9" width="8.2" height="3.3" fill="#ff8d00"/><rect y="489.2" width="8.2" height="3.1" fill="#ff9700"/><rect y="486.7" width="8.2" height="2.9" fill="#ffa000"/><rect y="484.4" width="8.2" height="2.7" fill="#ffa900"/><rect y="482.3" width="8.2" height="2.5" fill="#ffb000"/><rect y="480.3" width="8.2" height="2.4" fill="#ffb800"/><rect y="477.5" width="8.2" height="3.2" fill="#ffc000"/><rect y="474.9" width="8.2" height="3" fill="#ffc900"/><rect y="472.5" width="8.2" height="2.8" fill="#ffd200"/><rect y="470.3" width="8.2" height="2.6" fill="#ffda00"/><rect y="468.2" width="8.2" height="2.5" fill="#ffe200"/><rect y="432.2" width="8.2" height="36.4" fill="#ffe900"/></g>
<g transform="translate(357.4)"><rect y="718.7" width="7.9" height="22.7" fill="#fff100"/><rect y="705.6" width="7.9" height="13.4" fill="#ffa400"/><rect y="696.4" width="7.9" height="9.7" fill="#ff7700"/><rect y="689.2" width="7.9" height="7.6" fill="#ff5800"/><rect y="683.3" width="7.9" height="6.3" fill="#ff3f00"/><rect y="678.4" width="7.9" height="5.4" fill="#ff2b00"/><rect y="674.1" width="7.9" height="4.7" fill="#ff1a00"/><rect y="670.3" width="7.9" height="4.2" fill="#ff0c00"/><rect y="666.9" width="7.9" height="3.8" fill="#fe0000"/><rect y="663.8" width="7.9" height="3.5" fill="#f20000"/><rect y="661" width="7.9" height="3.2" fill="#e70000"/><rect y="658.5" width="7.9" height="3" fill="#de0000"/><rect y="656.1" width="7.9" height="2.8" fill="#d40000"/><rect y="653.9" width="7.9" height="2.6" fill="#cc0000"/><rect y="651.8" width="7.9" height="2.5" fill="#c30000"/><rect y="649.8" width="7.9" height="2.4" fill="#bb0000"/><rect y="646.2" width="7.9" height="4" fill="#b00000"/><rect y="643" width="7.9" height="3.6" fill="#a20000"/><rect y="640.1" width="7.9" height="3.3" fill="#950000"/><rect y="637.4" width="7.9" height="3.1" fill="#880000"/><rect y="634.9" width="7.9" height="2.9" fill="#7d0000"/><rect y="632.6" width="7.9" height="2.7" fill="#720000"/><rect y="622.3" width="7.9" height="10.7" fill="#690000"/><rect y="615.1" width="7.9" height="7.6" fill="#450000"/><rect y="609.2" width="7.9" height="6.3" fill="#3b0000"/><rect y="604.3" width="7.9" height="5.4" fill="#3d0000"/><rect y="600" width="7.9" height="4.7" fill="#460000"/><rect y="596.2" width="7.9" height="4.2" fill="#500000"/><rect y="592.8" width="7.9" height="3.8" fill="#580000"/><rect y="589.7" width="7.9" height="3.5" fill="#600000"/><rect y="586.9" width="7.9" height="3.2" fill="#660000"/><rect y="584.4" width="7.9" height="3" fill="#6c0000"/><rect y="582" width="7.9" height="2.8" fill="#720000"/><rect y="579.8" width="7.9" height="2.6" fill="#770000"/><rect y="577.7" width="7.9" height="2.5" fill="#7c0000"/><rect y="575.7" width="7.9" height="2.4" fill="#810000"/><rect y="572.1" width="7.9" height="4" fill="#880000"/><rect y="568.9" width="7.9" height="3.6" fill="#910000"/><rect y="566" width="7.9" height="3.3" fill="#990000"/><rect y="563.3" width="7.9" height="3.1" fill="#a10000"/><rect y="560.8" width="7.9" height="2.9" fill="#a90000"/><rect y="558.5" width="7.9" height="2.7" fill="#b00000"/><rect y="548.2" width="7.9" height="10.7" fill="#b70000"/><rect y="541" width="7.9" height="7.6" fill="#d60000"/><rect y="535.1" width="7.9" height="6.3" fill="#ed0000"/><rect y="530.2" width="7.9" height="5.4" fill="#ff0200"/><rect y="525.9" width="7.9" height="4.7" fill="#ff1200"/><rect y="522.1" width="7.9" height="4.2" fill="#ff2100"/><rect y="518.7" width="7.9" height="3.8" fill="#ff2e00"/><rect y="515.6" width="7.9" height="3.5" fill="#ff3900"/><rect y="512.8" width="7.9" height="3.2" fill="#ff4400"/><rect y="510.3" width="7.9" height="3" fill="#ff4d00"/><rect y="507.9" width="7.9" height="2.8" fill="#ff5600"/><rect y="505.7" width="7.9" height="2.6" fill="#ff5e00"/><rect y="503.6" width="7.9" height="2.5" fill="#ff6600"/><rect y="501.6" width="7.9" height="2.4" fill="#ff6d00"/><rect y="498" width="7.9" height="4" fill="#ff7700"/><rect y="494.8" width="7.9" height="3.6" fill="#ff8300"/><rect y="491.9" width="7.9" height="3.3" fill="#ff8d00"/><rect y="489.2" width="7.9" height="3.1" fill="#ff9700"/><rect y="486.7" width="7.9" height="2.9" fill="#ffa000"/><rect y="484.4" width="7.9" height="2.7" fill="#ffa900"/><rect y="482.3" width="7.9" height="2.5" fill="#ffb000"/><rect y="480.3" width="7.9" height="2.4" fill="#ffb800"/><rect y="477.5" width="7.9" height="3.2" fill="#ffc000"/><rect y="474.9" width="7.9" height="3" fill="#ffc900"/><rect y="472.5" width="7.9" height="2.8" fill="#ffd200"/><rect y="470.3" width="7.9" height="2.6" fill="#ffda00"/><rect y="468.2" width="7.9" height="2.5" fill="#ffe200"/><rect y="432.2" width="7.9" height="36.4" fill="#ffe900"/></g>
<g transform="translate(364.9)"><rect y="718.7" width="7.7" height="22.7" fill="#ffea00"/><rect y="705.6" width="7.7" height="13.4" fill="#ff9d00"/><rect y="696.4" width="7.7" height="9.7" fill="#ff7000"/><rect y="689.2" width="7.7" height="7.6" fill="#ff5100"/><rect y="683.3" width="7.7" height="6.3" fill="#ff3800"/><rect y="678.4" width="7.7" height="5.4" fill="#ff2400"/><rect y="674.1" width="7.7" height="4.7" fill="#ff1300"/><rect y="670.3" width="7.7" height="4.2" fill="#ff0500"/><rect y="666.9" width="7.7" height="3.8" fill="#f70000"/><rect y="663.8" width="7.7" height="3.5" fill="#eb0000"/><rect y="661" width="7.7" height="3.2" fill="#e00000"/><rect y="658.5" width="7.7" height="3" fill="#d60000"/><rect y="656.1" width="7.7" height="2.8" fill="#cd0000"/><rect y="653.9" width="7.7" height="2.6" fill="#c40000"/><rect y="651.8" width="7.7" height="2.5" fill="#bc0000"/><rect y="649.8" width="7.7" height="2.4" fill="#b40000"/><rect y="646.2" width="7.7" height="4" fill="#a90000"/><rect y="643" width="7.7" height="3.6" fill="#9a0000"/><rect y="640.1" width="7.7" height="3.3" fill="#8d0000"/><rect y="637.4" width="7.7" height="3.1" fill="#810000"/><rect y="634.9" width="7.7" height="2.9" fill="#750000"/><rect y="632.6" width="7.7" height="2.7" fill="#6b0000"/><rect y="622.3" width="7.7" height="10.7" fill="#610000"/><rect y="615.1" width="7.7" height="7.6" fill="#3f0000"/><rect y="609.2" width="7.7" height="6.3" fill="#3a0000"/><rect y="604.3" width="7.7" height="5.4" fill="#3c0000"/><rect y="600" width="7.7" height="4.7" fill="#450000"/><rect y="596.2" width="7.7" height="4.2" fill="#4e0000"/><rect y="592.8" width="7.7" height="3.8" fill="#570000"/><rect y="589.7" width="7.7" height="3.5" fill="#5e0000"/><rect y="586.9" width="7.7" height="3.2" fill="#650000"/><rect y="584.4" width="7.7" height="3" fill="#6b0000"/><rect y="582" width="7.7" height="2.8" fill="#700000"/><rect y="579.8" width="7.7" height="2.6" fill="#760000"/><rect y="577.7" width="7.7" height="2.5" fill="#7b0000"/><rect y="575.7" width="7.7" height="2.4" fill="#800000"/><rect y="572.1" width="7.7" height="4" fill="#870000"/><rect y="568.9" width="7.7" height="3.6" fill="#900000"/><rect y="566" width="7.7" height="3.3" fill="#990000"/><rect y="563.3" width="7.7" height="3.1" fill="#a10000"/><rect y="560.8" width="7.7" height="2.9" fill="#a80000"/><rect y="558.5" width="7.7" height="2.7" fill="#b00000"/><rect y="548.2" width="7.7" height="10.7" fill="#b60000"/><rect y="541" width="7.7" height="7.6" fill="#d50000"/><rect y="535.1" width="7.7" height="6.3" fill="#ed0000"/><rect y="530.2" width="7.7" height="5.4" fill="#ff0200"/><rect y="525.9" width="7.7" height="4.7" fill="#ff1200"/><rect y="522.1" width="7.7" height="4.2" fill="#ff2100"/><rect y="518.7" width="7.7" height="3.8" fill="#ff2e00"/><rect y="515.6" width="7.7" height="3.5" fill="#ff3900"/><rect y="512.8" width="7.7" height="3.2" fill="#ff4400"/><rect y="510.3" width="7.7" height="3" fill="#ff4d00"/><rect y="507.9" width="7.7" height="2.8" fill="#ff5600"/><rect y="505.7" width="7.7" height="2.6" fill="#ff5e00"/><rect y="503.6" width="7.7" height="2.5" fill="#ff6600"/><rect y="501.6" width="7.7" height="2.4" fill="#ff6d00"/><rect y="498" width="7.7" height="4" fill="#ff7700"/><rect y="494.8" width="7.7" height="3.6" fill="#ff8300"/><rect y="491.9" width="7.7" height="3.3" fill="#ff8d00"/><rect y="489.2" width="7.7" height="3.1" fill="#ff9700"/><rect y="486.7" width="7.7" height="2.9" fill="#ffa000"/><rect y="484.4" width="7.7" height="2.7" fill="#ffa900"/><rect y="482.3" width="7.7" height="2.5" fill="#ffb000"/><rect y="480.3" width="7.7" height="2.4" fill="#ffb800"/><rect y="477.5" width="7.7" height="3.2" fill="#ffc000"/><rect y="474.9" width="7.7" height="3" fill="#ffc900"/><rect y="472.5" width="7.7" height="2.8" fill="#ffd200"/><rect y="470.3" width="7.7" height="2.6" fill="#ffda00"/><rect y="468.2" width="7.7" height="2.5" fill="#ffe200"/><rect y="432.2" width="7.7" height="36.4" fill="#ffe900"/></g>
<g transform="translate(372.2)"><rect y="718.7" width="7.5" height="22.7" fill="#ffe300"/><rect y="705.6" width="7.5" height="13.4" fill="#ff9600"/><rect y="696.4" width="7.5" height="9.7" fill="#ff6a00"/><rect y="689.2" width="7.5" height="7.6" fill="#ff4a00"/><rect y="683.3" width="7.5" height="6.3" fill="#ff3100"/><rect y="678.4" width="7.5" height="5.4" fill="#ff1d00"/><rect y="674.1" width="7.5" height="4.7" fill="#ff0d00"/><rect y="670.3" width="7.5" height="4.2" fill="#fd0000"/><rect y="666.9" width="7.5" height="3.8" fill="#f00000"/><rect y="663.8" width="7.5" height="3.5" fill="#e40000"/><rect y="661" width="7.5" height="3.2" fill="#da0000"/><rect y="658.5" width="7.5" height="3" fill="#d00000"/><rect y="656.1" width="7.5" height="2.8" fill="#c60000"/><rect y="653.9" width="7.5" height="2.6" fill="#bd0000"/><rect y="651.8" width="7.5" height="2.5" fill="#b50000"/><rect y="649.8" width="7.5" height="2.4" fill="#ad0000"/><rect y="646.2" width="7.5" height="4" fill="#a10000"/><rect y="643" width="7.5" height="3.6" fill="#930000"/><rect y="640.1" width="7.5" height="3.3" fill="#860000"/><rect y="637.4" width="7.5" height="3.1" fill="#790000"/><rect y="634.9" width="7.5" height="2.9" fill="#6e0000"/><rect y="632.6" width="7.5" height="2.7" fill="#630000"/><rect y="622.3" width="7.5" height="10.7" fill="#5a0000"/><rect y="615.1" width="7.5" height="7.6" fill="#3b0000"/><rect y="609.2" width="7.5" height="6.3" fill="#380000"/><rect y="604.3" width="7.5" height="5.4" fill="#3b0000"/><rect y="600" width="7.5" height="4.7" fill="#430000"/><rect y="596.2" width="7.5" height="4.2" fill="#4d0000"/><rect y="592.8" width="7.5" height="3.8" fill="#550000"/><rect y="589.7" width="7.5" height="3.5" fill="#5d0000"/><rect y="586.9" width="7.5" height="3.2" fill="#630000"/><rect y="584.4" width="7.5" height="3" fill="#6a0000"/><rect y="582" width="7.5" height="2.8" fill="#6f0000"/><rect y="579.8" width="7.5" height="2.6" fill="#750000"/><rect y="577.7" width="7.5" height="2.5" fill="#7a0000"/><rect y="575.7" width="7.5" height="2.4" fill="#7f0000"/><rect y="572.1" width="7.5" height="4" fill="#860000"/><rect y="568.9" width="7.5" height="3.6" fill="#8f0000"/><rect y="566" width="7.5" height="3.3" fill="#980000"/><rect y="563.3" width="7.5" height="3.1" fill="#a00000"/><rect y="560.8" width="7.5" height="2.9" fill="#a80000"/><rect y="558.5" width="7.5" height="2.7" fill="#af0000"/><rect y="548.2" width="7.5" height="10.7" fill="#b60000"/><rect y="541" width="7.5" height="7.6" fill="#d50000"/><rect y="535.1" width="7.5" height="6.3" fill="#ed0000"/><rect y="530.2" width="7.5" height="5.4" fill="#ff0100"/><rect y="525.9" width="7.5" height="4.7" fill="#ff1200"/><rect y="522.1" width="7.5" height="4.2" fill="#ff2100"/><rect y="518.7" width="7.5" height="3.8" fill="#ff2e00"/><rect y="515.6" width="7.5" height="3.5" fill="#ff3900"/><rect y="512.8" width="7.5" height="3.2" fill="#ff4400"/><rect y="510.3" width="7.5" height="3" fill="#ff4d00"/><rect y="507.9" width="7.5" height="2.8" fill="#ff5600"/><rect y="505.7" width="7.5" height="2.6" fill="#ff5e00"/><rect y="503.6" width="7.5" height="2.5" fill="#ff6600"/><rect y="501.6" width="7.5" height="2.4" fill="#ff6d00"/><rect y="498" width="7.5" height="4" fill="#ff7700"/><rect y="494.8" width="7.5" height="3.6" fill="#ff8300"/><rect y="491.9" width="7.5" height="3.3" fill="#ff8d00"/><rect y="489.2" width="7.5" height="3.1" fill="#ff9700"/><rect y="486.7" width="7.5" height="2.9" fill="#ffa000"/><rect y="484.4" width="7.5" height="2.7" fill="#ffa900"/><rect y="482.3" width="7.5" height="2.5" fill="#ffb000"/><rect y="480.3" width="7.5" height="2.4" fill="#ffb800"/><rect y="477.5" width="7.5" height="3.2" fill="#ffc000"/><rect y="474.9" width="7.5" height="3" fill="#ffc900"/><rect y="472.5" width="7.5" height="2.8" fill="#ffd200"/><rect y="470.3" width="7.5" height="2.6" fill="#ffda00"/><rect y="468.2" width="7.5" height="2.5" fill="#ffe200"/><rect y="432.2" width="7.5" height="36.4" fill="#ffe900"/></g>
<g transform="translate(379.3)"><rect y="718.7" width="7.3" height="22.7" fill="#ffdd00"/><rect y="705.6" width="7.3" height="13.4" fill="#ff9000"/><rect y="696.4" width="7.3" height="9.7" fill="#ff6300"/><rect y="689.2" width="7.3" height="7.6" fill="#ff4300"/><rect y="683.3" width="7.3" height="6.3" fill="#ff2b00"/><rect y="678.4" width="7.3" height="5.4" fill="#ff1700"/><rect y="674.1" width="7.3" height="4.7" fill="#ff0600"/><rect y="670.3" width="7.3" height="4.2" fill="#f60000"/><rect y="666.9" width="7.3" height="3.8" fill="#e90000"/><rect y="663.8" width="7.3" height="3.5" fill="#de0000"/><rect y="661" width="7.3" height="3.2" fill="#d30000"/><rect y="658.5" width="7.3" height="3" fill="#c90000"/><rect y="656.1" width="7.3" height="2.8" fill="#bf0000"/><rect y="653.9" width="7.3" height="2.6" fill="#b70000"/><rect y="651.8" width="7.3" height="2.5" fill="#ae0000"/><rect y="649.8" width="7.3" height="2.4" fill="#a60000"/><rect y="646.2" width="7.3" height="4" fill="#9a0000"/><rect y="643" width="7.3" height="3.6" fill="#8c0000"/><rect y="640.1" width="7.3" height="3.3" fill="#7e0000"/><rect y="637.4" width="7.3" height="3.1" fill="#720000"/><rect y="634.9" width="7.3" height="2.9" fill="#670000"/><rect y="632.6" width="7.3" height="2.7" fill="#5c0000"/><rect y="622.3" width="7.3" height="10.7" fill="#530000"/><rect y="615.1" width="7.3" height="7.6" fill="#390000"/><rect y="609.2" width="7.3" height="6.3" fill="#370000"/><rect y="604.3" width="7.3" height="5.4" fill="#3a0000"/><rect y="600" width="7.3" height="4.7" fill="#420000"/><rect y="596.2" width="7.3" height="4.2" fill="#4c0000"/><rect y="592.8" width="7.3" height="3.8" fill="#540000"/><rect y="589.7" width="7.3" height="3.5" fill="#5c0000"/><rect y="586.9" width="7.3" height="3.2" fill="#620000"/><rect y="584.4" width="7.3" height="3" fill="#680000"/><rect y="582" width="7.3" height="2.8" fill="#6e0000"/><rect y="579.8" width="7.3" height="2.6" fill="#730000"/><rect y="577.7" width="7.3" height="2.5" fill="#790000"/><rect y="575.7" width="7.3" height="2.4" fill="#7e0000"/><rect y="572.1" width="7.3" height="4" fill="#850000"/><rect y="568.9" width="7.3" height="3.6" fill="#8f0000"/><rect y="566" width="7.3" height="3.3" fill="#970000"/><rect y="563.3" width="7.3" height="3.1" fill="#a00000"/><rect y="560.8" width="7.3" height="2.9" fill="#a70000"/><rect y="558.5" width="7.3" height="2.7" fill="#af0000"/><rect y="548.2" width="7.3" height="10.7" fill="#b60000"/><rect y="541" width="7.3" height="7.6" fill="#d50000"/><rect y="535.1" width="7.3" height="6.3" fill="#ed0000"/><rect y="530.2" width="7.3" height="5.4" fill="#ff0100"/><rect y="525.9" width="7.3" height="4.7" fill="#ff1200"/><rect y="522.1" width="7.3" height="4.2" fill="#ff2100"/><rect y="518.7" width="7.3" height="3.8" fill="#ff2e00"/><rect y="515.6" width="7.3" height="3.5" fill="#ff3900"/><rect y="512.8" width="7.3" height="3.2" fill="#ff4400"/><rect y="510.3" width="7.3" height="3" fill="#ff4d00"/><rect y="507.9" width="7.3" height="2.8" fill="#ff5600"/><rect y="505.7" width="7.3" height="2.6" fill="#ff5e00"/><rect y="503.6" width="7.3" height="2.5" fill="#ff6600"/><rect y="501.6" width="7.3" height="2.4" fill="#ff6d00"/><rect y="498" width="7.3" height="4" fill="#ff7700"/><rect y="494.8" width="7.3" height="3.6" fill="#ff8300"/><rect y="491.9" width="7.3" height="3.3" fill="#ff8d00"/><rect y="489.2" width="7.3" height="3.1" fill="#ff9700"/><rect y="486.7" width="7.3" height="2.9" fill="#ffa000"/><rect y="484.4" width="7.3" height="2.7" fill="#ffa900"/><rect y="482.3" width="7.3" height="2.5" fill="#ffb000"/><rect y="480.3" width="7.3" height="2.4" fill="#ffb800"/><rect y="477.5" width="7.3" height="3.2" fill="#ffc000"/><rect y="474.9" width="7.3" height="3" fill="#ffc900"/><rect y="472.5" width="7.3" height="2.8" fill="#ffd200"/><rect y="470.3" width="7.3" height="2.6" fill="#ffda00"/><rect y="468.2" width="7.3" height="2.5" fill="#ffe200"/><rect y="432.2" width="7.3" height="36.4" fill="#ffe900"/></g>
<g transform="translate(386.2)"><rect y="718.7" width="7.1" height="22.7" fill="#ffd600"/><rect y="705.6" width="7.1" height="13.4" fill="#ff8900"/><rect y="696.4" width="7.1" height="9.7" fill="#ff5d00"/><rect y="689.2" width="7.1" height="7.6" fill="#ff3d00"/><rect y="683.3" width="7.1" height="6.3" fill="#ff2400"/><rect y="678.4" width="7.1" height="5.4" fill="#ff1100"/><rect y="674.1" width="7.1" height="4.7" fill="#ff0000"/><rect y="670.3" width="7.1" height="4.2" fill="#f00000"/><rect y="666.9" width="7.1" height="3.8" fill="#e30000"/><rect y="663.8" width="7.1" height="3.5" fill="#d70000"/><rect y="661" width="7.1" height="3.2" fill="#cc0000"/><rect y="658.5" width="7.1" height="3" fill="#c20000"/><rect y="656.1" width="7.1" height="2.8" fill="#b90000"/><rect y="653.9" width="7.1" height="2.6" fill="#b00000"/><rect y="651.8" width="7.1" height="2.5" fill="#a70000"/><rect y="649.8" width="7.1" height="2.4" fill="#9f0000"/><rect y="646.2" width="7.1" height="4" fill="#940000"/><rect y="643" width="7.1" height="3.6" fill="#850000"/><rect y="640.1" width="7.1" height="3.3" fill="#770000"/><rect y="637.4" width="7.1" height="3.1" fill="#6b0000"/><rect y="634.9" width="7.1" height="2.9" fill="#600000"/><rect y="632.6" width="7.1" height="2.7" fill="#560000"/><rect y="622.3" width="7.1" height="10.7" fill="#4d0000"/><rect y="615.1" width="7.1" height="7.6" fill="#370000"/><rect y="609.2" width="7.1" height="6.3" fill="#360000"/><rect y="604.3" width="7.1" height="5.4" fill="#390000"/><rect y="600" width="7.1" height="4.7" fill="#400000"/><rect y="596.2" width="7.1" height="4.2" fill="#4a0000"/><rect y="592.8" width="7.1" height="3.8" fill="#530000"/><rect y="589.7" width="7.1" height="3.5" fill="#5a0000"/><rect y="586.9" width="7.1" height="3.2" fill="#610000"/><rect y="584.4" width="7.1" height="3" fill="#670000"/><rect y="582" width="7.1" height="2.8" fill="#6d0000"/><rect y="579.8" width="7.1" height="2.6" fill="#720000"/><rect y="577.7" width="7.1" height="2.5" fill="#780000"/><rect y="575.7" width="7.1" height="2.4" fill="#7d0000"/><rect y="572.1" width="7.1" height="4" fill="#840000"/><rect y="568.9" width="7.1" height="3.6" fill="#8e0000"/><rect y="566" width="7.1" height="3.3" fill="#970000"/><rect y="563.3" width="7.1" height="3.1" fill="#9f0000"/><rect y="560.8" width="7.1" height="2.9" fill="#a70000"/><rect y="558.5" width="7.1" height="2.7" fill="#ae0000"/><rect y="548.2" width="7.1" height="10.7" fill="#b60000"/><rect y="541" width="7.1" height="7.6" fill="#d50000"/><rect y="535.1" width="7.1" height="6.3" fill="#ed0000"/><rect y="530.2" width="7.1" height="5.4" fill="#ff0100"/><rect y="525.9" width="7.1" height="4.7" fill="#ff1200"/><rect y="522.1" width="7.1" height="4.2" fill="#ff2100"/><rect y="518.7" width="7.1" height="3.8" fill="#ff2d00"/><rect y="515.6" width="7.1" height="3.5" fill="#ff3900"/><rect y="512.8" width="7.1" height="3.2" fill="#ff4400"/><rect y="510.3" width="7.1" height="3" fill="#ff4d00"/><rect y="507.9" width="7.1" height="2.8" fill="#ff5600"/><rect y="505.7" width="7.1" height="2.6" fill="#ff5e00"/><rect y="503.6" width="7.1" height="2.5" fill="#ff6600"/><rect y="501.6" width="7.1" height="2.4" fill="#ff6d00"/><rect y="498" width="7.1" height="4" fill="#ff7700"/><rect y="494.8" width="7.1" height="3.6" fill="#ff8300"/><rect y="491.9" width="7.1" height="3.3" fill="#ff8d00"/><rect y="489.2" width="7.1" height="3.1" fill="#ff9700"/><rect y="486.7" width="7.1" height="2.9" fill="#ffa000"/><rect y="484.4" width="7.1" height="2.7" fill="#ffa900"/><rect y="482.3" width="7.1" height="2.5" fill="#ffb000"/><rect y="480.3" width="7.1" height="2.4" fill="#ffb800"/><rect y="477.5" width="7.1" height="3.2" fill="#ffc000"/><rect y="474.9" width="7.1" height="3" fill="#ffc900"/><rect y="472.5" width="7.1" height="2.8" fill="#ffd200"/><rect y="470.3" width="7.1" height="2.6" fill="#ffda00"/><rect y="468.2" width="7.1" height="2.5" fill="#ffe200"/><rect y="432.2" width="7.1" height="36.4" fill="#ffe900"/></g>
<g transform="translate(392.8)"><rect y="718.7" width="6.9" height="22.7" fill="#ffd000"/><rect y="705.6" width="6.9" height="13.4" fill="#ff8300"/><rect y="696.4" width="6.9" height="9.7" fill="#ff5600"/><rect y="689.2" width="6.9" height="7.6" fill="#ff3700"/><rect y="683.3" width="6.9" height="6.3" fill="#ff1e00"/><rect y="678.4" width="6.9" height="5.4" fill="#ff0a00"/><rect y="674.1" width="6.9" height="4.7" fill="#f80000"/><rect y="670.3" width="6.9" height="4.2" fill="#ea0000"/><rect y="666.9" width="6.9" height="3.8" fill="#dd0000"/><rect y="663.8" width="6.9" height="3.5" fill="#d10000"/><rect y="661" width="6.9" height="3.2" fill="#c60000"/><rect y="658.5" width="6.9" height="3" fill="#bc0000"/><rect y="656.1" width="6.9" height="2.8" fill="#b20000"/><rect y="653.9" width="6.9" height="2.6" fill="#a90000"/><rect y="651.8" width="6.9" height="2.5" fill="#a10000"/><rect y="649.8" width="6.9" height="2.4" fill="#990000"/><rect y="646.2" width="6.9" height="4" fill="#8d0000"/><rect y="643" width="6.9" height="3.6" fill="#7e0000"/><rect y="640.1" width="6.9" height="3.3" fill="#710000"/><rect y="637.4" width="6.9" height="3.1" fill="#640000"/><rect y="634.9" width="6.9" height="2.9" fill="#590000"/><rect y="632.6" width="6.9" height="2.7" fill="#4f0000"/><rect y="622.3" width="6.9" height="10.7" fill="#460000"/><rect y="615.1" width="6.9" height="7.6" fill="#350000"/><rect y="609.2" width="6.9" height="6.3" fill="#350000"/><rect y="604.3" width="6.9" height="5.4" fill="#390000"/><rect y="600" width="6.9" height="4.7" fill="#3f0000"/><rect y="596.2" width="6.9" height="4.2" fill="#490000"/><rect y="592.8" width="6.9" height="3.8" fill="#520000"/><rect y="589.7" width="6.9" height="3.5" fill="#590000"/><rect y="586.9" width="6.9" height="3.2" fill="#600000"/><rect y="584.4" width="6.9" height="3" fill="#660000"/><rect y="582" width="6.9" height="2.8" fill="#6c0000"/><rect y="579.8" width="6.9" height="2.6" fill="#710000"/><rect y="577.7" width="6.9" height="2.5" fill="#770000"/><rect y="575.7" width="6.9" height="2.4" fill="#7c0000"/><rect y="572.1" width="6.9" height="4" fill="#840000"/><rect y="568.9" width="6.9" height="3.6" fill="#8d0000"/><rect y="566" width="6.9" height="3.3" fill="#960000"/><rect y="563.3" width="6.9" height="3.1" fill="#9f0000"/><rect y="560.8" width="6.9" height="2.9" fill="#a70000"/><rect y="558.5" width="6.9" height="2.7" fill="#ae0000"/><rect y="548.2" width="6.9" height="10.7" fill="#b50000"/><rect y="541" width="6.9" height="7.6" fill="#d50000"/><rect y="535.1" width="6.9" height="6.3" fill="#ed0000"/><rect y="530.2" width="6.9" height="5.4" fill="#ff0100"/><rect y="525.9" width="6.9" height="4.7" fill="#ff1200"/><rect y="522.1" width="6.9" height="4.2" fill="#ff2100"/><rect y="518.7" width="6.9" height="3.8" fill="#ff2d00"/><rect y="515.6" width="6.9" height="3.5" fill="#ff3900"/><rect y="512.8" width="6.9" height="3.2" fill="#ff4300"/><rect y="510.3" width="6.9" height="3" fill="#ff4d00"/><rect y="507.9" width="6.9" height="2.8" fill="#ff5600"/><rect y="505.7" width="6.9" height="2.6" fill="#ff5e00"/><rect y="503.6" width="6.9" height="2.5" fill="#ff6600"/><rect y="501.6" width="6.9" height="2.4" fill="#ff6d00"/><rect y="498" width="6.9" height="4" fill="#ff7700"/><rect y="494.8" width="6.9" height="3.6" fill="#ff8300"/><rect y="491.9" width="6.9" height="3.3" fill="#ff8d00"/><rect y="489.2" width="6.9" height="3.1" fill="#ff9700"/><rect y="486.7" width="6.9" height="2.9" fill="#ffa000"/><rect y="484.4" width="6.9" height="2.7" fill="#ffa900"/><rect y="482.3" width="6.9" height="2.5" fill="#ffb000"/><rect y="480.3" width="6.9" height="2.4" fill="#ffb800"/><rect y="477.5" width="6.9" height="3.2" fill="#ffc000"/><rect y="474.9" width="6.9" height="3" fill="#ffc900"/><rect y="472.5" width="6.9" height="2.8" fill="#ffd200"/><rect y="470.3" width="6.9" height="2.6" fill="#ffda00"/><rect y="468.2" width="6.9" height="2.5" fill="#ffe200"/><rect y="432.2" width="6.9" height="36.4" fill="#ffe900"/></g>
<g transform="translate(399.3)"><rect y="718.7" width="6.7" height="22.7" fill="#ffca00"/><rect y="705.6" width="6.7" height="13.4" fill="#ff7d00"/><rect y="696.4" width="6.7" height="9.7" fill="#ff5000"/><rect y="689.2" width="6.7" height="7.6" fill="#ff3100"/><rect y="683.3" width="6.7" height="6.3" fill="#ff1800"/><rect y="678.4" width="6.7" height="5.4" fill="#ff0400"/><rect y="674.1" width="6.7" height="4.7" fill="#f20000"/><rect y="670.3" width="6.7" height="4.2" fill="#e40000"/><rect y="666.9" width="6.7" height="3.8" fill="#d70000"/><rect y="663.8" width="6.7" height="3.5" fill="#cb0000"/><rect y="661" width="6.7" height="3.2" fill="#c00000"/><rect y="658.5" width="6.7" height="3" fill="#b60000"/><rect y="656.1" width="6.7" height="2.8" fill="#ac0000"/><rect y="653.9" width="6.7" height="2.6" fill="#a30000"/><rect y="651.8" width="6.7" height="2.5" fill="#9a0000"/><rect y="649.8" width="6.7" height="2.4" fill="#920000"/><rect y="646.2" width="6.7" height="4" fill="#860000"/><rect y="643" width="6.7" height="3.6" fill="#780000"/><rect y="640.1" width="6.7" height="3.3" fill="#6a0000"/><rect y="637.4" width="6.7" height="3.1" fill="#5e0000"/><rect y="634.9" width="6.7" height="2.9" fill="#530000"/><rect y="632.6" width="6.7" height="2.7" fill="#490000"/><rect y="622.3" width="6.7" height="10.7" fill="#400000"/><rect y="615.1" width="6.7" height="7.6" fill="#330000"/><rect y="609.2" width="6.7" height="6.3" fill="#340000"/><rect y="604.3" width="6.7" height="5.4" fill="#380000"/><rect y="600" width="6.7" height="4.7" fill="#3e0000"/><rect y="596.2" width="6.7" height="4.2" fill="#480000"/><rect y="592.8" width="6.7" height="3.8" fill="#500000"/><rect y="589.7" width="6.7" height="3.5" fill="#580000"/><rect y="586.9" width="6.7" height="3.2" fill="#5f0000"/><rect y="584.4" width="6.7" height="3" fill="#650000"/><rect y="582" width="6.7" height="2.8" fill="#6b0000"/><rect y="579.8" width="6.7" height="2.6" fill="#710000"/><rect y="577.7" width="6.7" height="2.5" fill="#760000"/><rect y="575.7" width="6.7" height="2.4" fill="#7b0000"/><rect y="572.1" width="6.7" height="4" fill="#830000"/><rect y="568.9" width="6.7" height="3.6" fill="#8d0000"/><rect y="566" width="6.7" height="3.3" fill="#960000"/><rect y="563.3" width="6.7" height="3.1" fill="#9e0000"/><rect y="560.8" width="6.7" height="2.9" fill="#a60000"/><rect y="558.5" width="6.7" height="2.7" fill="#ae0000"/><rect y="548.2" width="6.7" height="10.7" fill="#b50000"/><rect y="541" width="6.7" height="7.6" fill="#d50000"/><rect y="535.1" width="6.7" height="6.3" fill="#ec0000"/><rect y="530.2" width="6.7" height="5.4" fill="#ff0100"/><rect y="525.9" width="6.7" height="4.7" fill="#ff1200"/><rect y="522.1" width="6.7" height="4.2" fill="#ff2000"/><rect y="518.7" width="6.7" height="3.8" fill="#ff2d00"/><rect y="515.6" width="6.7" height="3.5" fill="#ff3900"/><rect y="512.8" width="6.7" height="3.2" fill="#ff4300"/><rect y="510.3" width="6.7" height="3" fill="#ff4d00"/><rect y="507.9" width="6.7" height="2.8" fill="#ff5600"/><rect y="505.7" width="6.7" height="2.6" fill="#ff5e00"/><rect y="503.6" width="6.7" height="2.5" fill="#ff6600"/><rect y="501.6" width="6.7" height="2.4" fill="#ff6d00"/><rect y="498" width="6.7" height="4" fill="#ff7700"/><rect y="494.8" width="6.7" height="3.6" fill="#ff8300"/><rect y="491.9" width="6.7" height="3.3" fill="#ff8d00"/><rect y="489.2" width="6.7" height="3.1" fill="#ff9700"/><rect y="486.7" width="6.7" height="2.9" fill="#ffa000"/><rect y="484.4" width="6.7" height="2.7" fill="#ffa900"/><rect y="482.3" width="6.7" height="2.5" fill="#ffb000"/><rect y="480.3" width="6.7" height="2.4" fill="#ffb800"/><rect y="477.5" width="6.7" height="3.2" fill="#ffc000"/><rect y="474.9" width="6.7" height="3" fill="#ffc900"/><rect y="472.5" width="6.7" height="2.8" fill="#ffd200"/><rect y="470.3" width="6.7" height="2.6" fill="#ffda00"/><rect y="468.2" width="6.7" height="2.5" fill="#ffe200"/><rect y="432.2" width="6.7" height="36.4" fill="#ffe900"/></g>
<g transform="translate(405.6)"><rect y="718.7" width="6.5" height="22.7" fill="#ffc400"/><rect y="705.6" width="6.5" height="13.4" fill="#ff7700"/><rect y="696.4" width="6.5" height="9.7" fill="#ff4a00"/><rect y="689.2" width="6.5" height="7.6" fill="#ff2b00"/><rect y="683.3" width="6.5" height="6.3" fill="#ff1200"/><rect y="678.4" width="6.5" height="5.4" fill="#fd0000"/><rect y="674.1" width="6.5" height="4.7" fill="#ed0000"/><rect y="670.3" width="6.5" height="4.2" fill="#de0000"/><rect y="666.9" width="6.5" height="3.8" fill="#d10000"/><rect y="663.8" width="6.5" height="3.5" fill="#c50000"/><rect y="661" width="6.5" height="3.2" fill="#ba0000"/><rect y="658.5" width="6.5" height="3" fill="#b00000"/><rect y="656.1" width="6.5" height="2.8" fill="#a60000"/><rect y="653.9" width="6.5" height="2.6" fill="#9d0000"/><rect y="651.8" width="6.5" height="2.5" fill="#940000"/><rect y="649.8" width="6.5" height="2.4" fill="#8c0000"/><rect y="646.2" width="6.5" height="4" fill="#800000"/><rect y="643" width="6.5" height="3.6" fill="#710000"/><rect y="640.1" width="6.5" height="3.3" fill="#640000"/><rect y="637.4" width="6.5" height="3.1" fill="#570000"/><rect y="634.9" width="6.5" height="2.9" fill="#4c0000"/><rect y="632.6" width="6.5" height="2.7" fill="#430000"/><rect y="622.3" width="6.5" height="10.7" fill="#3c0000"/><rect y="615.1" width="6.5" height="7.6" fill="#320000"/><rect y="609.2" width="6.5" height="6.3" fill="#330000"/><rect y="604.3" width="6.5" height="5.4" fill="#380000"/><rect y="600" width="6.5" height="4.7" fill="#3d0000"/><rect y="596.2" width="6.5" height="4.2" fill="#470000"/><rect y="592.8" width="6.5" height="3.8" fill="#4f0000"/><rect y="589.7" width="6.5" height="3.5" fill="#570000"/><rect y="586.9" width="6.5" height="3.2" fill="#5d0000"/><rect y="584.4" width="6.5" height="3" fill="#640000"/><rect y="582" width="6.5" height="2.8" fill="#6a0000"/><rect y="579.8" width="6.5" height="2.6" fill="#700000"/><rect y="577.7" width="6.5" height="2.5" fill="#750000"/><rect y="575.7" width="6.5" height="2.4" fill="#7b0000"/><rect y="572.1" width="6.5" height="4" fill="#820000"/><rect y="568.9" width="6.5" height="3.6" fill="#8c0000"/><rect y="566" width="6.5" height="3.3" fill="#950000"/><rect y="563.3" width="6.5" height="3.1" fill="#9e0000"/><rect y="560.8" width="6.5" height="2.9" fill="#a60000"/><rect y="558.5" width="6.5" height="2.7" fill="#ae0000"/><rect y="548.2" width="6.5" height="10.7" fill="#b50000"/><rect y="541" width="6.5" height="7.6" fill="#d50000"/><rect y="535.1" width="6.5" height="6.3" fill="#ec0000"/><rect y="530.2" width="6.5" height="5.4" fill="#ff0100"/><rect y="525.9" width="6.5" height="4.7" fill="#ff1200"/><rect y="522.1" width="6.5" height="4.2" fill="#ff2000"/><rect y="518.7" width="6.5" height="3.8" fill="#ff2d00"/><rect y="515.6" width="6.5" height="3.5" fill="#ff3900"/><rect y="512.8" width="6.5" height="3.2" fill="#ff4300"/><rect y="510.3" width="6.5" height="3" fill="#ff4d00"/><rect y="507.9" width="6.5" height="2.8" fill="#ff5600"/><rect y="505.7" width="6.5" height="2.6" fill="#ff5e00"/><rect y="503.6" width="6.5" height="2.5" fill="#ff6600"/><rect y="501.6" width="6.5" height="2.4" fill="#ff6d00"/><rect y="498" width="6.5" height="4" fill="#ff7700"/><rect y="494.8" width="6.5" height="3.6" fill="#ff8300"/><rect y="491.9" width="6.5" height="3.3" fill="#ff8d00"/><rect y="489.2" width="6.5" height="3.1" fill="#ff9700"/><rect y="486.7" width="6.5" height="2.9" fill="#ffa000"/><rect y="484.4" width="6.5" height="2.7" fill="#ffa900"/><rect y="482.3" width="6.5" height="2.5" fill="#ffb000"/><rect y="480.3" width="6.5" height="2.4" fill="#ffb800"/><rect y="477.5" width="6.5" height="3.2" fill="#ffc000"/><rect y="474.9" width="6.5" height="3" fill="#ffc900"/><rect y="472.5" width="6.5" height="2.8" fill="#ffd200"/><rect y="470.3" width="6.5" height="2.6" fill="#ffda00"/><rect y="468.2" width="6.5" height="2.5" fill="#ffe200"/><rect y="432.2" width="6.5" height="36.4" fill="#ffe900"/></g>
<g transform="translate(411.8)"><rect y="718.7" width="6.4" height="22.7" fill="#ffbe00"/><rect y="705.6" width="6.4" height="13.4" fill="#ff7100"/><rect y="696.4" width="6.4" height="9.7" fill="#ff4500"/><rect y="689.2" width="6.4" height="7.6" fill="#ff2500"/><rect y="683.3" width="6.4" height="6.3" fill="#ff0d00"/><rect y="678.4" width="6.4" height="5.4" fill="#f80000"/><rect y="674.1" width="6.4" height="4.7" fill="#e70000"/><rect y="670.3" width="6.4" height="4.2" fill="#d80000"/><rect y="666.9" width="6.4" height="3.8" fill="#cb0000"/><rect y="663.8" width="6.4" height="3.5" fill="#bf0000"/><rect y="661" width="6.4" height="3.2" fill="#b40000"/><rect y="658.5" width="6.4" height="3" fill="#aa0000"/><rect y="656.1" width="6.4" height="2.8" fill="#a00000"/><rect y="653.9" width="6.4" height="2.6" fill="#970000"/><rect y="651.8" width="6.4" height="2.5" fill="#8e0000"/><rect y="649.8" width="6.4" height="2.4" fill="#860000"/><rect y="646.2" width="6.4" height="4" fill="#7a0000"/><rect y="643" width="6.4" height="3.6" fill="#6b0000"/><rect y="640.1" width="6.4" height="3.3" fill="#5d0000"/><rect y="637.4" width="6.4" height="3.1" fill="#510000"/><rect y="634.9" width="6.4" height="2.9" fill="#460000"/><rect y="632.6" width="6.4" height="2.7" fill="#3d0000"/><rect y="622.3" width="6.4" height="10.7" fill="#390000"/><rect y="615.1" width="6.4" height="7.6" fill="#300000"/><rect y="609.2" width="6.4" height="6.3" fill="#320000"/><rect y="604.3" width="6.4" height="5.4" fill="#370000"/><rect y="600" width="6.4" height="4.7" fill="#3c0000"/><rect y="596.2" width="6.4" height="4.2" fill="#460000"/><rect y="592.8" width="6.4" height="3.8" fill="#4e0000"/><rect y="589.7" width="6.4" height="3.5" fill="#560000"/><rect y="586.9" width="6.4" height="3.2" fill="#5c0000"/><rect y="584.4" width="6.4" height="3" fill="#630000"/><rect y="582" width="6.4" height="2.8" fill="#690000"/><rect y="579.8" width="6.4" height="2.6" fill="#6f0000"/><rect y="577.7" width="6.4" height="2.5" fill="#750000"/><rect y="575.7" width="6.4" height="2.4" fill="#7a0000"/><rect y="572.1" width="6.4" height="4" fill="#820000"/><rect y="568.9" width="6.4" height="3.6" fill="#8c0000"/><rect y="566" width="6.4" height="3.3" fill="#950000"/><rect y="563.3" width="6.4" height="3.1" fill="#9e0000"/><rect y="560.8" width="6.4" height="2.9" fill="#a60000"/><rect y="558.5" width="6.4" height="2.7" fill="#ad0000"/><rect y="548.2" width="6.4" height="10.7" fill="#b50000"/><rect y="541" width="6.4" height="7.6" fill="#d40000"/><rect y="535.1" width="6.4" height="6.3" fill="#ec0000"/><rect y="530.2" width="6.4" height="5.4" fill="#ff0100"/><rect y="525.9" width="6.4" height="4.7" fill="#ff1200"/><rect y="522.1" width="6.4" height="4.2" fill="#ff2000"/><rect y="518.7" width="6.4" height="3.8" fill="#ff2d00"/><rect y="515.6" width="6.4" height="3.5" fill="#ff3900"/><rect y="512.8" width="6.4" height="3.2" fill="#ff4300"/><rect y="510.3" width="6.4" height="3" fill="#ff4d00"/><rect y="507.9" width="6.4" height="2.8" fill="#ff5600"/><rect y="505.7" width="6.4" height="2.6" fill="#ff5e00"/><rect y="503.6" width="6.4" height="2.5" fill="#ff6600"/><rect y="501.6" width="6.4" height="2.4" fill="#ff6d00"/><rect y="498" width="6.4" height="4" fill="#ff7700"/><rect y="494.8" width="6.4" height="3.6" fill="#ff8300"/><rect y="491.9" width="6.4" height="3.3" fill="#ff8d00"/><rect y="489.2" width="6.4" height="3.1" fill="#ff9700"/><rect y="486.7" width="6.4" height="2.9" fill="#ffa000"/><rect y="484.4" width="6.4" height="2.7" fill="#ffa900"/><rect y="482.3" width="6.4" height="2.5" fill="#ffb000"/><rect y="480.3" width="6.4" height="2.4" fill="#ffb800"/><rect y="477.5" width="6.4" height="3.2" fill="#ffc000"/><rect y="474.9" width="6.4" height="3" fill="#ffc900"/><rect y="472.5" width="6.4" height="2.8" fill="#ffd200"/><rect y="470.3" width="6.4" height="2.6" fill="#ffda00"/><rect y="468.2" width="6.4" height="2.5" fill="#ffe200"/><rect y="432.2" width="6.4" height="36.4" fill="#ffe900"/></g>
<g transform="translate(417.8)"><rect y="718.7" width="6.2" height="22.7" fill="#ffb900"/><rect y="705.6" width="6.2" height="13.4" fill="#ff6c00"/><rect y="696.4" width="6.2" height="9.7" fill="#ff3f00"/><rect y="689.2" width="6.2" height="7.6" fill="#ff2000"/><rect y="683.3" width="6.2" height="6.3" fill="#ff0700"/><rect y="678.4" width="6.2" height="5.4" fill="#f20000"/><rect y="674.1" width="6.2" height="4.7" fill="#e10000"/><rect y="670.3" width="6.2" height="4.2" fill="#d30000"/><rect y="666.9" width="6.2" height="3.8" fill="#c50000"/><rect y="663.8" width="6.2" height="3.5" fill="#b90000"/><rect y="661" width="6.2" height="3.2" fill="#ae0000"/><rect y="658.5" width="6.2" height="3" fill="#a40000"/><rect y="656.1" width="6.2" height="2.8" fill="#9a0000"/><rect y="653.9" width="6.2" height="2.6" fill="#910000"/><rect y="651.8" width="6.2" height="2.5" fill="#880000"/><rect y="649.8" width="6.2" height="2.4" fill="#800000"/><rect y="646.2" width="6.2" height="4" fill="#740000"/><rect y="643" width="6.2" height="3.6" fill="#650000"/><rect y="640.1" width="6.2" height="3.3" fill="#570000"/><rect y="637.4" width="6.2" height="3.1" fill="#4b0000"/><rect y="634.9" width="6.2" height="2.9" fill="#400000"/><rect y="632.6" width="6.2" height="2.7" fill="#3a0000"/><rect y="622.3" width="6.2" height="10.7" fill="#370000"/><rect y="615.1" width="6.2" height="7.6" fill="#2f0000"/><rect y="609.2" width="6.2" height="6.3" fill="#310000"/><rect y="604.3" width="6.2" height="5.4" fill="#370000"/><rect y="600" width="6.2" height="4.7" fill="#3c0000"/><rect y="596.2" width="6.2" height="4.2" fill="#440000"/><rect y="592.8" width="6.2" height="3.8" fill="#4d0000"/><rect y="589.7" width="6.2" height="3.5" fill="#550000"/><rect y="586.9" width="6.2" height="3.2" fill="#5b0000"/><rect y="584.4" width="6.2" height="3" fill="#620000"/><rect y="582" width="6.2" height="2.8" fill="#680000"/><rect y="579.8" width="6.2" height="2.6" fill="#6e0000"/><rect y="577.7" width="6.2" height="2.5" fill="#740000"/><rect y="575.7" width="6.2" height="2.4" fill="#790000"/><rect y="572.1" width="6.2" height="4" fill="#810000"/><rect y="568.9" width="6.2" height="3.6" fill="#8b0000"/><rect y="566" width="6.2" height="3.3" fill="#950000"/><rect y="563.3" width="6.2" height="3.1" fill="#9d0000"/><rect y="560.8" width="6.2" height="2.9" fill="#a50000"/><rect y="558.5" width="6.2" height="2.7" fill="#ad0000"/><rect y="548.2" width="6.2" height="10.7" fill="#b40000"/><rect y="541" width="6.2" height="7.6" fill="#d40000"/><rect y="535.1" width="6.2" height="6.3" fill="#ec0000"/><rect y="530.2" width="6.2" height="5.4" fill="#ff0100"/><rect y="525.9" width="6.2" height="4.7" fill="#ff1200"/><rect y="522.1" width="6.2" height="4.2" fill="#ff2000"/><rect y="518.7" width="6.2" height="3.8" fill="#ff2d00"/><rect y="515.6" width="6.2" height="3.5" fill="#ff3900"/><rect y="512.8" width="6.2" height="3.2" fill="#ff4300"/><rect y="510.3" width="6.2" height="3" fill="#ff4d00"/><rect y="507.9" width="6.2" height="2.8" fill="#ff5600"/><rect y="505.7" width="6.2" height="2.6" fill="#ff5e00"/><rect y="503.6" width="6.2" height="2.5" fill="#ff6600"/><rect y="501.6" width="6.2" height="2.4" fill="#ff6d00"/><rect y="498" width="6.2" height="4" fill="#ff7700"/><rect y="494.8" width="6.2" height="3.6" fill="#ff8300"/><rect y="491.9" width="6.2" height="3.3" fill="#ff8d00"/><rect y="489.2" width="6.2" height="3.1" fill="#ff9700"/><rect y="486.7" width="6.2" height="2.9" fill="#ffa000"/><rect y="484.4" width="6.2" height="2.7" fill="#ffa900"/><rect y="482.3" width="6.2" height="2.5" fill="#ffb000"/><rect y="480.3" width="6.2" height="2.4" fill="#ffb800"/><rect y="477.5" width="6.2" height="3.2" fill="#ffc000"/><rect y="474.9" width="6.2" height="3" fill="#ffc900"/><rect y="472.5" width="6.2" height="2.8" fill="#ffd200"/><rect y="470.3" width="6.2" height="2.6" fill="#ffda00"/><rect y="468.2" width="6.2" height="2.5" fill="#ffe200"/><rect y="432.2" width="6.2" height="36.4" fill="#ffe900"/></g>
<g transform="translate(423.6)"><rect y="718.7" width="6.1" height="22.7" fill="#ffb300"/><rect y="705.6" width="6.1" height="13.4" fill="#ff6600"/><rect y="696.4" width="6.1" height="9.7" fill="#ff3a00"/><rect y="689.2" width="6.1" height="7.6" fill="#ff1a00"/><rect y="683.3" width="6.1" height="6.3" fill="#ff0200"/><rect y="678.4" width="6.1" height="5.4" fill="#ed0000"/><rect y="674.1" width="6.1" height="4.7" fill="#dc0000"/><rect y="670.3" width="6.1" height="4.2" fill="#cd0000"/><rect y="666.9" width="6.1" height="3.8" fill="#c00000"/><rect y="663.8" width="6.1" height="3.5" fill="#b40000"/><rect y="661" width="6.1" height="3.2" fill="#a90000"/><rect y="658.5" width="6.1" height="3" fill="#9e0000"/><rect y="656.1" width="6.1" height="2.8" fill="#950000"/><rect y="653.9" width="6.1" height="2.6" fill="#8b0000"/><rect y="651.8" width="6.1" height="2.5" fill="#820000"/><rect y="649.8" width="6.1" height="2.4" fill="#7a0000"/><rect y="646.2" width="6.1" height="4" fill="#6e0000"/><rect y="643" width="6.1" height="3.6" fill="#5f0000"/><rect y="640.1" width="6.1" height="3.3" fill="#510000"/><rect y="637.4" width="6.1" height="3.1" fill="#450000"/><rect y="634.9" width="6.1" height="2.9" fill="#3c0000"/><rect y="632.6" width="6.1" height="2.7" fill="#380000"/><rect y="622.3" width="6.1" height="10.7" fill="#350000"/><rect y="615.1" width="6.1" height="7.6" fill="#2e0000"/><rect y="609.2" width="6.1" height="6.3" fill="#310000"/><rect y="604.3" width="6.1" height="5.4" fill="#360000"/><rect y="600" width="6.1" height="4.7" fill="#3b0000"/><rect y="596.2" width="6.1" height="4.2" fill="#430000"/><rect y="592.8" width="6.1" height="3.8" fill="#4c0000"/><rect y="589.7" width="6.1" height="3.5" fill="#540000"/><rect y="586.9" width="6.1" height="3.2" fill="#5b0000"/><rect y="584.4" width="6.1" height="3" fill="#610000"/><rect y="582" width="6.1" height="2.8" fill="#670000"/><rect y="579.8" width="6.1" height="2.6" fill="#6d0000"/><rect y="577.7" width="6.1" height="2.5" fill="#730000"/><rect y="575.7" width="6.1" height="2.4" fill="#790000"/><rect y="572.1" width="6.1" height="4" fill="#810000"/><rect y="568.9" width="6.1" height="3.6" fill="#8b0000"/><rect y="566" width="6.1" height="3.3" fill="#940000"/><rect y="563.3" width="6.1" height="3.1" fill="#9d0000"/><rect y="560.8" width="6.1" height="2.9" fill="#a50000"/><rect y="558.5" width="6.1" height="2.7" fill="#ad0000"/><rect y="548.2" width="6.1" height="10.7" fill="#b40000"/><rect y="541" width="6.1" height="7.6" fill="#d40000"/><rect y="535.1" width="6.1" height="6.3" fill="#ec0000"/><rect y="530.2" width="6.1" height="5.4" fill="#ff0100"/><rect y="525.9" width="6.1" height="4.7" fill="#ff1200"/><rect y="522.1" width="6.1" height="4.2" fill="#ff2000"/><rect y="518.7" width="6.1" height="3.8" fill="#ff2d00"/><rect y="515.6" width="6.1" height="3.5" fill="#ff3900"/><rect y="512.8" width="6.1" height="3.2" fill="#ff4300"/><rect y="510.3" width="6.1" height="3" fill="#ff4d00"/><rect y="507.9" width="6.1" height="2.8" fill="#ff5600"/><rect y="505.7" width="6.1" height="2.6" fill="#ff5e00"/><rect y="503.6" width="6.1" height="2.5" fill="#ff6600"/><rect y="501.6" width="6.1" height="2.4" fill="#ff6d00"/><rect y="498" width="6.1" height="4" fill="#ff7700"/><rect y="494.8" width="6.1" height="3.6" fill="#ff8300"/><rect y="491.9" width="6.1" height="3.3" fill="#ff8d00"/><rect y="489.2" width="6.1" height="3.1" fill="#ff9700"/><rect y="486.7" width="6.1" height="2.9" fill="#ffa000"/><rect y="484.4" width="6.1" height="2.7" fill="#ffa900"/><rect y="482.3" width="6.1" height="2.5" fill="#ffb000"/><rect y="480.3" width="6.1" height="2.4" fill="#ffb800"/><rect y="477.5" width="6.1" height="3.2" fill="#ffc000"/><rect y="474.9" width="6.1" height="3" fill="#ffc900"/><rect y="472.5" width="6.1" height="2.8" fill="#ffd200"/><rect y="470.3" width="6.1" height="2.6" fill="#ffda00"/><rect y="468.2" width="6.1" height="2.5" fill="#ffe200"/><rect y="432.2" width="6.1" height="36.4" fill="#ffe900"/></g>
<g transform="translate(429.3)"><rect y="718.7" width="6" height="22.7" fill="#ffae00"/><rect y="705.6" width="6" height="13.4" fill="#ff6100"/><rect y="696.4" width="6" height="9.7" fill="#ff3400"/><rect y="689.2" width="6" height="7.6" fill="#ff1500"/><rect y="683.3" width="6" height="6.3" fill="#fb0000"/><rect y="678.4" width="6" height="5.4" fill="#e70000"/><rect y="674.1" width="6" height="4.7" fill="#d70000"/><rect y="670.3" width="6" height="4.2" fill="#c80000"/><rect y="666.9" width="6" height="3.8" fill="#bb0000"/><rect y="663.8" width="6" height="3.5" fill="#ae0000"/><rect y="661" width="6" height="3.2" fill="#a30000"/><rect y="658.5" width="6" height="3" fill="#990000"/><rect y="656.1" width="6" height="2.8" fill="#8f0000"/><rect y="653.9" width="6" height="2.6" fill="#860000"/><rect y="651.8" width="6" height="2.5" fill="#7d0000"/><rect y="649.8" width="6" height="2.4" fill="#740000"/><rect y="646.2" width="6" height="4" fill="#680000"/><rect y="643" width="6" height="3.6" fill="#590000"/><rect y="640.1" width="6" height="3.3" fill="#4b0000"/><rect y="637.4" width="6" height="3.1" fill="#400000"/><rect y="634.9" width="6" height="2.9" fill="#3a0000"/><rect y="632.6" width="6" height="2.7" fill="#360000"/><rect y="622.3" width="6" height="10.7" fill="#330000"/><rect y="615.1" width="6" height="7.6" fill="#2d0000"/><rect y="609.2" width="6" height="6.3" fill="#300000"/><rect y="604.3" width="6" height="5.4" fill="#360000"/><rect y="600" width="6" height="4.7" fill="#3b0000"/><rect y="596.2" width="6" height="4.2" fill="#420000"/><rect y="592.8" width="6" height="3.8" fill="#4b0000"/><rect y="589.7" width="6" height="3.5" fill="#530000"/><rect y="586.9" width="6" height="3.2" fill="#5a0000"/><rect y="584.4" width="6" height="3" fill="#600000"/><rect y="582" width="6" height="2.8" fill="#670000"/><rect y="579.8" width="6" height="2.6" fill="#6d0000"/><rect y="577.7" width="6" height="2.5" fill="#730000"/><rect y="575.7" width="6" height="2.4" fill="#780000"/><rect y="572.1" width="6" height="4" fill="#800000"/><rect y="568.9" width="6" height="3.6" fill="#8b0000"/><rect y="566" width="6" height="3.3" fill="#940000"/><rect y="563.3" width="6" height="3.1" fill="#9d0000"/><rect y="560.8" width="6" height="2.9" fill="#a50000"/><rect y="558.5" width="6" height="2.7" fill="#ad0000"/><rect y="548.2" width="6" height="10.7" fill="#b40000"/><rect y="541" width="6" height="7.6" fill="#d40000"/><rect y="535.1" width="6" height="6.3" fill="#ec0000"/><rect y="530.2" width="6" height="5.4" fill="#ff0100"/><rect y="525.9" width="6" height="4.7" fill="#ff1200"/><rect y="522.1" width="6" height="4.2" fill="#ff2000"/><rect y="518.7" width="6" height="3.8" fill="#ff2d00"/><rect y="515.6" width="6" height="3.5" fill="#ff3900"/><rect y="512.8" width="6" height="3.2" fill="#ff4300"/><rect y="510.3" width="6" height="3" fill="#ff4d00"/><rect y="507.9" width="6" height="2.8" fill="#ff5600"/><rect y="505.7" width="6" height="2.6" fill="#ff5e00"/><rect y="503.6" width="6" height="2.5" fill="#ff6600"/><rect y="501.6" width="6" height="2.4" fill="#ff6d00"/><rect y="498" width="6" height="4" fill="#ff7700"/><rect y="494.8" width="6" height="3.6" fill="#ff8300"/><rect y="491.9" width="6" height="3.3" fill="#ff8d00"/><rect y="489.2" width="6" height="3.1" fill="#ff9700"/><rect y="486.7" width="6" height="2.9" fill="#ffa000"/><rect y="484.4" width="6" height="2.7" fill="#ffa900"/><rect y="482.3" width="6" height="2.5" fill="#ffb000"/><rect y="480.3" width="6" height="2.4" fill="#ffb800"/><rect y="477.5" width="6" height="3.2" fill="#ffc000"/><rect y="474.9" width="6" height="3" fill="#ffc900"/><rect y="472.5" width="6" height="2.8" fill="#ffd200"/><rect y="470.3" width="6" height="2.6" fill="#ffda00"/><rect y="468.2" width="6" height="2.5" fill="#ffe200"/><rect y="432.2" width="6" height="36.4" fill="#ffe900"/></g>
<g transform="translate(434.9)"><rect y="718.7" width="5.8" height="22.7" fill="#ffa900"/><rect y="705.6" width="5.8" height="13.4" fill="#ff5c00"/><rect y="696.4" width="5.8" height="9.7" fill="#ff2f00"/><rect y="689.2" width="5.8" height="7.6" fill="#ff1000"/><rect y="683.3" width="5.8" height="6.3" fill="#f60000"/><rect y="678.4" width="5.8" height="5.4" fill="#e20000"/><rect y="674.1" width="5.8" height="4.7" fill="#d10000"/><rect y="670.3" width="5.8" height="4.2" fill="#c30000"/><rect y="666.9" width="5.8" height="3.8" fill="#b50000"/><rect y="663.8" width="5.8" height="3.5" fill="#a90000"/><rect y="661" width="5.8" height="3.2" fill="#9e0000"/><rect y="658.5" width="5.8" height="3" fill="#930000"/><rect y="656.1" width="5.8" height="2.8" fill="#8a0000"/><rect y="653.9" width="5.8" height="2.6" fill="#800000"/><rect y="651.8" width="5.8" height="2.5" fill="#770000"/><rect y="649.8" width="5.8" height="2.4" fill="#6e0000"/><rect y="646.2" width="5.8" height="4" fill="#620000"/><rect y="643" width="5.8" height="3.6" fill="#530000"/><rect y="640.1" width="5.8" height="3.3" fill="#460000"/><rect y="637.4" width="5.8" height="3.1" fill="#3c0000"/><rect y="634.9" width="5.8" height="2.9" fill="#370000"/><rect y="632.6" width="5.8" height="2.7" fill="#340000"/><rect y="622.3" width="5.8" height="10.7" fill="#310000"/><rect y="615.1" width="5.8" height="7.6" fill="#2c0000"/><rect y="609.2" width="5.8" height="6.3" fill="#300000"/><rect y="604.3" width="5.8" height="5.4" fill="#350000"/><rect y="600" width="5.8" height="4.7" fill="#3a0000"/><rect y="596.2" width="5.8" height="4.2" fill="#410000"/><rect y="592.8" width="5.8" height="3.8" fill="#4a0000"/><rect y="589.7" width="5.8" height="3.5" fill="#520000"/><rect y="586.9" width="5.8" height="3.2" fill="#590000"/><rect y="584.4" width="5.8" height="3" fill="#600000"/><rect y="582" width="5.8" height="2.8" fill="#660000"/><rect y="579.8" width="5.8" height="2.6" fill="#6c0000"/><rect y="577.7" width="5.8" height="2.5" fill="#720000"/><rect y="575.7" width="5.8" height="2.4" fill="#780000"/><rect y="572.1" width="5.8" height="4" fill="#800000"/><rect y="568.9" width="5.8" height="3.6" fill="#8a0000"/><rect y="566" width="5.8" height="3.3" fill="#940000"/><rect y="563.3" width="5.8" height="3.1" fill="#9d0000"/><rect y="560.8" width="5.8" height="2.9" fill="#a50000"/><rect y="558.5" width="5.8" height="2.7" fill="#ad0000"/><rect y="548.2" width="5.8" height="10.7" fill="#b40000"/><rect y="541" width="5.8" height="7.6" fill="#d40000"/><rect y="535.1" width="5.8" height="6.3" fill="#ec0000"/><rect y="530.2" width="5.8" height="5.4" fill="#ff0100"/><rect y="525.9" width="5.8" height="4.7" fill="#ff1200"/><rect y="522.1" width="5.8" height="4.2" fill="#ff2000"/><rect y="518.7" width="5.8" height="3.8" fill="#ff2d00"/><rect y="515.6" width="5.8" height="3.5" fill="#ff3900"/><rect y="512.8" width="5.8" height="3.2" fill="#ff4300"/><rect y="510.3" width="5.8" height="3" fill="#ff4d00"/><rect y="507.9" width="5.8" height="2.8" fill="#ff5600"/><rect y="505.7" width="5.8" height="2.6" fill="#ff5e00"/><rect y="503.6" width="5.8" height="2.5" fill="#ff6600"/><rect y="501.6" width="5.8" height="2.4" fill="#ff6d00"/><rect y="498" width="5.8" height="4" fill="#ff7700"/><rect y="494.8" width="5.8" height="3.6" fill="#ff8300"/><rect y="491.9" width="5.8" height="3.3" fill="#ff8d00"/><rect y="489.2" width="5.8" height="3.1" fill="#ff9700"/><rect y="486.7" width="5.8" height="2.9" fill="#ffa000"/><rect y="484.4" width="5.8" height="2.7" fill="#ffa900"/><rect y="482.3" width="5.8" height="2.5" fill="#ffb000"/><rect y="480.3" width="5.8" height="2.4" fill="#ffb800"/><rect y="477.5" width="5.8" height="3.2" fill="#ffc000"/><rect y="474.9" width="5.8" height="3" fill="#ffc900"/><rect y="472.5" width="5.8" height="2.8" fill="#ffd200"/><rect y="470.3" width="5.8" height="2.6" fill="#ffda00"/><rect y="468.2" width="5.8" height="2.5" fill="#ffe200"/><rect y="432.2" width="5.8" height="36.4" fill="#ffe900"/></g>
<g transform="translate(440.3)"><rect y="718.7" width="5.7" height="22.7" fill="#ffa300"/><rect y="705.6" width="5.7" height="13.4" fill="#ff5700"/><rect y="696.4" width="5.7" height="9.7" fill="#ff2a00"/><rect y="689.2" width="5.7" height="7.6" fill="#ff0b00"/><rect y="683.3" width="5.7" height="6.3" fill="#f10000"/><rect y="678.4" width="5.7" height="5.4" fill="#dd0000"/><rect y="674.1" width="5.7" height="4.7" fill="#cc0000"/><rect y="670.3" width="5.7" height="4.2" fill="#bd0000"/><rect y="666.9" width="5.7" height="3.8" fill="#b00000"/><rect y="663.8" width="5.7" height="3.5" fill="#a40000"/><rect y="661" width="5.7" height="3.2" fill="#990000"/><rect y="658.5" width="5.7" height="3" fill="#8e0000"/><rect y="656.1" width="5.7" height="2.8" fill="#840000"/><rect y="653.9" width="5.7" height="2.6" fill="#7b0000"/><rect y="651.8" width="5.7" height="2.5" fill="#720000"/><rect y="649.8" width="5.7" height="2.4" fill="#690000"/><rect y="646.2" width="5.7" height="4" fill="#5d0000"/><rect y="643" width="5.7" height="3.6" fill="#4e0000"/><rect y="640.1" width="5.7" height="3.3" fill="#400000"/><rect y="637.4" width="5.7" height="3.1" fill="#390000"/><rect y="634.9" width="5.7" height="2.9" fill="#350000"/><rect y="632.6" width="5.7" height="2.7" fill="#320000"/><rect y="622.3" width="5.7" height="10.7" fill="#2f0000"/><rect y="615.1" width="5.7" height="7.6" fill="#2b0000"/><rect y="609.2" width="5.7" height="6.3" fill="#2f0000"/><rect y="604.3" width="5.7" height="5.4" fill="#350000"/><rect y="600" width="5.7" height="4.7" fill="#3a0000"/><rect y="596.2" width="5.7" height="4.2" fill="#400000"/><rect y="592.8" width="5.7" height="3.8" fill="#490000"/><rect y="589.7" width="5.7" height="3.5" fill="#510000"/><rect y="586.9" width="5.7" height="3.2" fill="#580000"/><rect y="584.4" width="5.7" height="3" fill="#5f0000"/><rect y="582" width="5.7" height="2.8" fill="#650000"/><rect y="579.8" width="5.7" height="2.6" fill="#6c0000"/><rect y="577.7" width="5.7" height="2.5" fill="#720000"/><rect y="575.7" width="5.7" height="2.4" fill="#770000"/><rect y="572.1" width="5.7" height="4" fill="#800000"/><rect y="568.9" width="5.7" height="3.6" fill="#8a0000"/><rect y="566" width="5.7" height="3.3" fill="#930000"/><rect y="563.3" width="5.7" height="3.1" fill="#9c0000"/><rect y="560.8" width="5.7" height="2.9" fill="#a50000"/><rect y="558.5" width="5.7" height="2.7" fill="#ac0000"/><rect y="548.2" width="5.7" height="10.7" fill="#b40000"/><rect y="541" width="5.7" height="7.6" fill="#d40000"/><rect y="535.1" width="5.7" height="6.3" fill="#ec0000"/><rect y="530.2" width="5.7" height="5.4" fill="#ff0100"/><rect y="525.9" width="5.7" height="4.7" fill="#ff1200"/><rect y="522.1" width="5.7" height="4.2" fill="#ff2000"/><rect y="518.7" width="5.7" height="3.8" fill="#ff2d00"/><rect y="515.6" width="5.7" height="3.5" fill="#ff3900"/><rect y="512.8" width="5.7" height="3.2" fill="#ff4300"/><rect y="510.3" width="5.7" height="3" fill="#ff4d00"/><rect y="507.9" width="5.7" height="2.8" fill="#ff5600"/><rect y="505.7" width="5.7" height="2.6" fill="#ff5e00"/><rect y="503.6" width="5.7" height="2.5" fill="#ff6600"/><rect y="501.6" width="5.7" height="2.4" fill="#ff6d00"/><rect y="498" width="5.7" height="4" fill="#ff7700"/><rect y="494.8" width="5.7" height="3.6" fill="#ff8300"/><rect y="491.9" width="5.7" height="3.3" fill="#ff8d00"/><rect y="489.2" width="5.7" height="3.1" fill="#ff9700"/><rect y="486.7" width="5.7" height="2.9" fill="#ffa000"/><rect y="484.4" width="5.7" height="2.7" fill="#ffa900"/><rect y="482.3" width="5.7" height="2.5" fill="#ffb000"/><rect y="480.3" width="5.7" height="2.4" fill="#ffb800"/><rect y="477.5" width="5.7" height="3.2" fill="#ffc000"/><rect y="474.9" width="5.7" height="3" fill="#ffc900"/><rect y="472.5" width="5.7" height="2.8" fill="#ffd200"/><rect y="470.3" width="5.7" height="2.6" fill="#ffda00"/><rect y="468.2" width="5.7" height="2.5" fill="#ffe200"/><rect y="432.2" width="5.7" height="36.4" fill="#ffe900"/></g>
<g transform="translate(445.6)"><rect y="718.7" width="5.6" height="22.7" fill="#ff9e00"/><rect y="705.6" width="5.6" height="13.4" fill="#ff5200"/><rect y="696.4" width="5.6" height="9.7" fill="#ff2500"/><rect y="689.2" width="5.6" height="7.6" fill="#ff0600"/><rect y="683.3" width="5.6" height="6.3" fill="#ec0000"/><rect y="678.4" width="5.6" height="5.4" fill="#d80000"/><rect y="674.1" width="5.6" height="4.7" fill="#c70000"/><rect y="670.3" width="5.6" height="4.2" fill="#b80000"/><rect y="666.9" width="5.6" height="3.8" fill="#ab0000"/><rect y="663.8" width="5.6" height="3.5" fill="#9f0000"/><rect y="661" width="5.6" height="3.2" fill="#940000"/><rect y="658.5" width="5.6" height="3" fill="#890000"/><rect y="656.1" width="5.6" height="2.8" fill="#7f0000"/><rect y="653.9" width="5.6" height="2.6" fill="#750000"/><rect y="651.8" width="5.6" height="2.5" fill="#6c0000"/><rect y="649.8" width="5.6" height="2.4" fill="#630000"/><rect y="646.2" width="5.6" height="4" fill="#570000"/><rect y="643" width="5.6" height="3.6" fill="#480000"/><rect y="640.1" width="5.6" height="3.3" fill="#3c0000"/><rect y="637.4" width="5.6" height="3.1" fill="#370000"/><rect y="634.9" width="5.6" height="2.9" fill="#330000"/><rect y="632.6" width="5.6" height="2.7" fill="#300000"/><rect y="622.3" width="5.6" height="10.7" fill="#2e0000"/><rect y="615.1" width="5.6" height="7.6" fill="#2a0000"/><rect y="609.2" width="5.6" height="6.3" fill="#2f0000"/><rect y="604.3" width="5.6" height="5.4" fill="#350000"/><rect y="600" width="5.6" height="4.7" fill="#3a0000"/><rect y="596.2" width="5.6" height="4.2" fill="#3f0000"/><rect y="592.8" width="5.6" height="3.8" fill="#480000"/><rect y="589.7" width="5.6" height="3.5" fill="#500000"/><rect y="586.9" width="5.6" height="3.2" fill="#570000"/><rect y="584.4" width="5.6" height="3" fill="#5e0000"/><rect y="582" width="5.6" height="2.8" fill="#650000"/><rect y="579.8" width="5.6" height="2.6" fill="#6b0000"/><rect y="577.7" width="5.6" height="2.5" fill="#710000"/><rect y="575.7" width="5.6" height="2.4" fill="#770000"/><rect y="572.1" width="5.6" height="4" fill="#7f0000"/><rect y="568.9" width="5.6" height="3.6" fill="#8a0000"/><rect y="566" width="5.6" height="3.3" fill="#930000"/><rect y="563.3" width="5.6" height="3.1" fill="#9c0000"/><rect y="560.8" width="5.6" height="2.9" fill="#a40000"/><rect y="558.5" width="5.6" height="2.7" fill="#ac0000"/><rect y="548.2" width="5.6" height="10.7" fill="#b40000"/><rect y="541" width="5.6" height="7.6" fill="#d40000"/><rect y="535.1" width="5.6" height="6.3" fill="#ec0000"/><rect y="530.2" width="5.6" height="5.4" fill="#ff0100"/><rect y="525.9" width="5.6" height="4.7" fill="#ff1200"/><rect y="522.1" width="5.6" height="4.2" fill="#ff2000"/><rect y="518.7" width="5.6" height="3.8" fill="#ff2d00"/><rect y="515.6" width="5.6" height="3.5" fill="#ff3900"/><rect y="512.8" width="5.6" height="3.2" fill="#ff4300"/><rect y="510.3" width="5.6" height="3" fill="#ff4d00"/><rect y="507.9" width="5.6" height="2.8" fill="#ff5600"/><rect y="505.7" width="5.6" height="2.6" fill="#ff5e00"/><rect y="503.6" width="5.6" height="2.5" fill="#ff6600"/><rect y="501.6" width="5.6" height="2.4" fill="#ff6d00"/><rect y="498" width="5.6" height="4" fill="#ff7700"/><rect y="494.8" width="5.6" height="3.6" fill="#ff8300"/><rect y="491.9" width="5.6" height="3.3" fill="#ff8d00"/><rect y="489.2" width="5.6" height="3.1" fill="#ff9700"/><rect y="486.7" width="5.6" height="2.9" fill="#ffa000"/><rect y="484.4" width="5.6" height="2.7" fill="#ffa900"/><rect y="482.3" width="5.6" height="2.5" fill="#ffb000"/><rect y="480.3" width="5.6" height="2.4" fill="#ffb800"/><rect y="477.5" width="5.6" height="3.2" fill="#ffc000"/><rect y="474.9" width="5.6" height="3" fill="#ffc900"/><rect y="472.5" width="5.6" height="2.8" fill="#ffd200"/><rect y="470.3" width="5.6" height="2.6" fill="#ffda00"/><rect y="468.2" width="5.6" height="2.5" fill="#ffe200"/><rect y="432.2" width="5.6" height="36.4" fill="#ffe900"/></g>
<g transform="translate(450.8)"><rect y="718.7" width="3.1" height="22.7" fill="#ff9a00"/><rect y="705.6" width="3.1" height="13.4" fill="#ff4d00"/><rect y="696.4" width="3.1" height="9.7" fill="#ff2000"/><rect y="689.2" width="3.1" height="7.6" fill="#ff0100"/><rect y="683.3" width="3.1" height="6.3" fill="#e70000"/><rect y="678.4" width="3.1" height="5.4" fill="#d30000"/><rect y="674.1" width="3.1" height="4.7" fill="#c20000"/><rect y="670.3" width="3.1" height="4.2" fill="#b40000"/><rect y="666.9" width="3.1" height="3.8" fill="#a60000"/><rect y="663.8" width="3.1" height="3.5" fill="#9a0000"/><rect y="661" width="3.1" height="3.2" fill="#8f0000"/><rect y="658.5" width="3.1" height="3" fill="#840000"/><rect y="656.1" width="3.1" height="2.8" fill="#7a0000"/><rect y="653.9" width="3.1" height="2.6" fill="#700000"/><rect y="651.8" width="3.1" height="2.5" fill="#670000"/><rect y="649.8" width="3.1" height="2.4" fill="#5e0000"/><rect y="646.2" width="3.1" height="4" fill="#520000"/><rect y="643" width="3.1" height="3.6" fill="#430000"/><rect y="640.1" width="3.1" height="3.3" fill="#3a0000"/><rect y="637.4" width="3.1" height="3.1" fill="#350000"/><rect y="634.9" width="3.1" height="2.9" fill="#310000"/><rect y="632.6" width="3.1" height="2.7" fill="#2e0000"/><rect y="622.3" width="3.1" height="10.7" fill="#2c0000"/><rect y="615.1" width="3.1" height="7.6" fill="#2a0000"/><rect y="609.2" width="3.1" height="6.3" fill="#2f0000"/><rect y="604.3" width="3.1" height="5.4" fill="#340000"/><rect y="600" width="3.1" height="4.7" fill="#390000"/><rect y="596.2" width="3.1" height="4.2" fill="#3f0000"/><rect y="592.8" width="3.1" height="3.8" fill="#470000"/><rect y="589.7" width="3.1" height="3.5" fill="#4f0000"/><rect y="586.9" width="3.1" height="3.2" fill="#560000"/><rect y="584.4" width="3.1" height="3" fill="#5d0000"/><rect y="582" width="3.1" height="2.8" fill="#640000"/><rect y="579.8" width="3.1" height="2.6" fill="#6b0000"/><rect y="577.7" width="3.1" height="2.5" fill="#710000"/><rect y="575.7" width="3.1" height="2.4" fill="#770000"/><rect y="572.1" width="3.1" height="4" fill="#7f0000"/><rect y="568.9" width="3.1" height="3.6" fill="#890000"/><rect y="566" width="3.1" height="3.3" fill="#930000"/><rect y="563.3" width="3.1" height="3.1" fill="#9c0000"/><rect y="560.8" width="3.1" height="2.9" fill="#a40000"/><rect y="558.5" width="3.1" height="2.7" fill="#ac0000"/><rect y="548.2" width="3.1" height="10.7" fill="#b30000"/><rect y="541" width="3.1" height="7.6" fill="#d40000"/><rect y="535.1" width="3.1" height="6.3" fill="#ec0000"/><rect y="530.2" width="3.1" height="5.4" fill="#ff0100"/><rect y="525.9" width="3.1" height="4.7" fill="#ff1200"/><rect y="522.1" width="3.1" height="4.2" fill="#ff2000"/><rect y="518.7" width="3.1" height="3.8" fill="#ff2d00"/><rect y="515.6" width="3.1" height="3.5" fill="#ff3900"/><rect y="512.8" width="3.1" height="3.2" fill="#ff4300"/><rect y="510.3" width="3.1" height="3" fill="#ff4d00"/><rect y="507.9" width="3.1" height="2.8" fill="#ff5600"/><rect y="505.7" width="3.1" height="2.6" fill="#ff5e00"/><rect y="503.6" width="3.1" height="2.5" fill="#ff6600"/><rect y="501.6" width="3.1" height="2.4" fill="#ff6d00"/><rect y="498" width="3.1" height="4" fill="#ff7700"/><rect y="494.8" width="3.1" height="3.6" fill="#ff8300"/><rect y="491.9" width="3.1" height="3.3" fill="#ff8d00"/><rect y="489.2" width="3.1" height="3.1" fill="#ff9700"/><rect y="486.7" width="3.1" height="2.9" fill="#ffa000"/><rect y="484.4" width="3.1" height="2.7" fill="#ffa900"/><rect y="482.3" width="3.1" height="2.5" fill="#ffb000"/><rect y="480.3" width="3.1" height="2.4" fill="#ffb800"/><rect y="477.5" width="3.1" height="3.2" fill="#ffc000"/><rect y="474.9" width="3.1" height="3" fill="#ffc900"/><rect y="472.5" width="3.1" height="2.8" fill="#ffd200"/><rect y="470.3" width="3.1" height="2.6" fill="#ffda00"/><rect y="468.2" width="3.1" height="2.5" fill="#ffe200"/><rect y="432.2" width="3.1" height="36.4" fill="#ffe900"/></g>
</g>
<rect x="119.0" y="430.0" width="339.0" height="304.6" fill="none" stroke="#000" stroke-width="2.6"/>
<line x1="105" y1="449.41" x2="119" y2="449.41" stroke="#000" stroke-width="2.4"/>
<text x="102" y="461" font-size="31.2" text-anchor="end">50</text>
<line x1="105" y1="501.2" x2="119" y2="501.2" stroke="#000" stroke-width="2.4"/>
<text x="102" y="512.8" font-size="31.2" text-anchor="end">10</text>
<line x1="105" y1="575.3" x2="119" y2="575.3" stroke="#000" stroke-width="2.4"/>
<text x="102" y="586.9" font-size="31.2" text-anchor="end">1</text>
<line x1="105" y1="649.4" x2="119" y2="649.4" stroke="#000" stroke-width="2.4"/>
<text x="102" y="661" font-size="31.2" text-anchor="end">0.1</text>
<line x1="105" y1="723.5" x2="119" y2="723.5" stroke="#000" stroke-width="2.4"/>
<text x="102" y="735.1" font-size="31.2" text-anchor="end">0.01</text>
<line x1="129.8" y1="734.6" x2="129.8" y2="748.6" stroke="#000" stroke-width="2.4"/>
<text x="129.8" y="783.4" font-size="30.6" text-anchor="middle">1.1</text>
<line x1="271.3" y1="734.6" x2="271.3" y2="748.6" stroke="#000" stroke-width="2.4"/>
<text x="271.3" y="783.4" font-size="30.6" text-anchor="middle">2.0</text>
<line x1="367.27" y1="734.6" x2="367.27" y2="748.6" stroke="#000" stroke-width="2.4"/>
<text x="367.3" y="783.4" font-size="30.6" text-anchor="middle">3.0</text>
<line x1="435.36" y1="734.6" x2="435.36" y2="748.6" stroke="#000" stroke-width="2.4"/>
<text x="435.4" y="783.4" font-size="30.6" text-anchor="middle">4.0</text>
<line x1="108.3" y1="578.66" x2="443.3" y2="616.56" stroke="#fff" stroke-width="6.6" stroke-dasharray="19 26"/>
<text x="2" y="437" font-size="41" text-anchor="start">(c)</text>
<g transform="rotate(-90 39.5 672)">
<text x="39.5" y="672" font-size="42.5" text-anchor="start">T</text>
<text x="64.3" y="656" font-size="30" text-anchor="start">TLS</text>
<text x="64.3" y="681.8" font-size="30" text-anchor="start">1,min</text>
<text x="149.4" y="672" font-size="39.9" text-anchor="start">(<tspan class="mu">µ</tspan>s)</text>
</g>
<text x="288.4" y="823.3" font-size="37.2" text-anchor="middle">Dipole moment (D)</text>
<rect x="466.4" y="430.2" width="16.200000000000045" height="305.00000000000006" fill="url(#cbc)" stroke="#000" stroke-width="2.4"/>
<text x="497" y="442.8" font-size="31.2" text-anchor="start">3000</text>
<line x1="466.4" y1="478.71" x2="473.6" y2="478.71" stroke="#000" stroke-width="2"/>
<line x1="475.4" y1="478.71" x2="482.6" y2="478.71" stroke="#000" stroke-width="2"/>
<text x="497" y="491.3" font-size="31.2" text-anchor="start">1000</text>
<line x1="466.4" y1="580.37" x2="473.6" y2="580.37" stroke="#000" stroke-width="2"/>
<line x1="475.4" y1="580.37" x2="482.6" y2="580.37" stroke="#000" stroke-width="2"/>
<text x="497" y="593" font-size="31.2" text-anchor="start">100</text>
<line x1="466.4" y1="682.04" x2="473.6" y2="682.04" stroke="#000" stroke-width="2"/>
<line x1="475.4" y1="682.04" x2="482.6" y2="682.04" stroke="#000" stroke-width="2"/>
<text x="497" y="694.6" font-size="31.2" text-anchor="start">10</text>
<line x1="466.4" y1="712.65" x2="473.6" y2="712.65" stroke="#000" stroke-width="2"/>
<line x1="475.4" y1="712.65" x2="482.6" y2="712.65" stroke="#000" stroke-width="2"/>
<text x="497" y="725.2" font-size="31.2" text-anchor="start">5</text>
<g transform="rotate(-90 576 648)">
<text x="576" y="648.5" font-size="42" text-anchor="start">T</text>
<text x="600" y="657.5" font-size="29.5" text-anchor="start">1</text>
<text x="615" y="635.7" font-size="30" text-anchor="start">q</text>
<text x="642" y="648" font-size="38.5" text-anchor="start">(<tspan class="mu">µ</tspan>s)</text>
</g>
<clipPath id="clipd"><rect x="740.9" y="429.3" width="369.0000000000001" height="313.09999999999997"/></clipPath>
<g fill="#000">
<circle cx="741.5" cy="449.6" r="5.1"/>
<circle cx="782.2" cy="486" r="5.1"/>
<circle cx="811" cy="515" r="5.1"/>
<circle cx="833.4" cy="528" r="5.1"/>
<circle cx="851.7" cy="543.9" r="5.1"/>
<circle cx="867.2" cy="547.6" r="5.1"/>
<circle cx="880.6" cy="564.5" r="5.1"/>
<circle cx="892.4" cy="566.9" r="5.1"/>
<circle cx="903" cy="574.7" r="5.1"/>
<circle cx="912.5" cy="580.4" r="5.1"/>
<circle cx="921.3" cy="586.6" r="5.1"/>
<circle cx="936.7" cy="597.1" r="5.1"/>
<circle cx="950.1" cy="609.4" r="5.1"/>
<circle cx="961.9" cy="618.9" r="5.1"/>
<circle cx="972.5" cy="624.2" r="5.1"/>
<circle cx="982.1" cy="629.9" r="5.1"/>
<circle cx="990.8" cy="636.1" r="5.1"/>
<circle cx="998.8" cy="642.9" r="5.1"/>
<circle cx="1006.3" cy="650.4" r="5.1"/>
<circle cx="1013.2" cy="658.8" r="5.1"/>
<circle cx="1019.7" cy="658.8" r="5.1"/>
<circle cx="1025.7" cy="663.5" r="5.1"/>
<circle cx="1031.5" cy="668.4" r="5.1"/>
<circle cx="1036.9" cy="668.4" r="5.1"/>
<circle cx="1042" cy="673.7" r="5.1"/>
<circle cx="1046.9" cy="679.4" r="5.1"/>
<circle cx="1051.6" cy="679.4" r="5.1"/>
<circle cx="1056.1" cy="685.6" r="5.1"/>
<circle cx="1060.3" cy="685.6" r="5.1"/>
<circle cx="1064.4" cy="692.4" r="5.1"/>
<circle cx="1068.4" cy="692.4" r="5.1"/>
<circle cx="1072.1" cy="699.9" r="5.1"/>
<circle cx="1075.8" cy="699.9" r="5.1"/>
<circle cx="1079.3" cy="699.9" r="5.1"/>
<circle cx="1082.7" cy="708.3" r="5.1"/>
<circle cx="1086" cy="708.3" r="5.1"/>
<circle cx="1089.2" cy="708.3" r="5.1"/>
<circle cx="1092.3" cy="708.3" r="5.1"/>
<circle cx="1095.3" cy="728.9" r="5.1"/>
<circle cx="1098.2" cy="728.9" r="5.1"/>
<circle cx="1101" cy="728.9" r="5.1"/>
<circle cx="1103.8" cy="728.9" r="5.1"/>
<circle cx="1106.4" cy="728.9" r="5.1"/>
<circle cx="1109" cy="728.9" r="5.1"/>
</g>
<polygon points="740.3,428.5 763.7,431.2 809.3,473.8 833.7,489 850,503.2 866.2,508.3 880.4,524.6 892.6,527.6 920,543.9 938.6,560 961.3,579.3 979.5,587.2 997.6,602 1013.5,619 1023.7,619.5 1038.5,628.1 1047.6,637.2 1059,645 1069.2,650.8 1081.7,658.8 1090.7,665.6 1095.3,683.8 1110.5,684.2 1110.5,742 1097,742 1093,739.4 1083.9,733.7 1074.8,722.4 1063.5,716.7 1047.6,699.6 1031.7,687.2 1011.3,675.8 990.8,652 961.3,635 934,608.8 900,586.1 892.6,582.4 880.4,580.4 866.2,563.1 850,558.1 833.7,541.8 809.3,529.6 780.9,501.2 740.3,463.7" fill="#0000ff" fill-opacity="0.1" clip-path="url(#clipd)"/>
<line x1="739.9" y1="457.1" x2="1109.9" y2="728.9" stroke="#0000ff" stroke-opacity="0.45" stroke-width="6.5" clip-path="url(#clipd)"/>
<rect x="740.9" y="429.3" width="369.0000000000001" height="313.09999999999997" fill="none" stroke="#000" stroke-width="2.6"/>
<line x1="811.04" y1="429.3" x2="811.04" y2="443.8" stroke="#000" stroke-width="2.4"/>
<line x1="811.04" y1="742.4" x2="811.04" y2="727.9" stroke="#000" stroke-width="2.4"/>
<text x="814" y="780.6" font-size="31.2" text-anchor="middle">0.2</text>
<line x1="902.96" y1="429.3" x2="902.96" y2="443.8" stroke="#000" stroke-width="2.4"/>
<line x1="902.96" y1="742.4" x2="902.96" y2="727.9" stroke="#000" stroke-width="2.4"/>
<text x="906" y="780.6" font-size="31.2" text-anchor="middle">0.5</text>
<line x1="972.5" y1="429.3" x2="972.5" y2="443.8" stroke="#000" stroke-width="2.4"/>
<line x1="972.5" y1="742.4" x2="972.5" y2="727.9" stroke="#000" stroke-width="2.4"/>
<text x="975.5" y="780.6" font-size="31.2" text-anchor="middle">1</text>
<line x1="1042.04" y1="429.3" x2="1042.04" y2="443.8" stroke="#000" stroke-width="2.4"/>
<line x1="1042.04" y1="742.4" x2="1042.04" y2="727.9" stroke="#000" stroke-width="2.4"/>
<text x="1045" y="780.6" font-size="31.2" text-anchor="middle">2</text>
<line x1="1082.72" y1="429.3" x2="1082.72" y2="443.8" stroke="#000" stroke-width="2.4"/>
<line x1="1082.72" y1="742.4" x2="1082.72" y2="727.9" stroke="#000" stroke-width="2.4"/>
<text x="1085.7" y="780.6" font-size="31.2" text-anchor="middle">3</text>
<line x1="740.9" y1="728.87" x2="748.9" y2="728.87" stroke="#000" stroke-width="2.4"/>
<line x1="1109.9" y1="728.87" x2="1101.9" y2="728.87" stroke="#000" stroke-width="2.4"/>
<line x1="740.9" y1="717.87" x2="748.9" y2="717.87" stroke="#000" stroke-width="2.4"/>
<line x1="1109.9" y1="717.87" x2="1101.9" y2="717.87" stroke="#000" stroke-width="2.4"/>
<line x1="740.9" y1="708.33" x2="748.9" y2="708.33" stroke="#000" stroke-width="2.4"/>
<line x1="1109.9" y1="708.33" x2="1101.9" y2="708.33" stroke="#000" stroke-width="2.4"/>
<line x1="740.9" y1="699.92" x2="748.9" y2="699.92" stroke="#000" stroke-width="2.4"/>
<line x1="1109.9" y1="699.92" x2="1101.9" y2="699.92" stroke="#000" stroke-width="2.4"/>
<line x1="740.9" y1="692.4" x2="756.9" y2="692.4" stroke="#000" stroke-width="2.4"/>
<line x1="1109.9" y1="692.4" x2="1093.9" y2="692.4" stroke="#000" stroke-width="2.4"/>
<text x="723.5" y="699.9" font-size="31.2" text-anchor="end">10</text>
<line x1="740.9" y1="642.91" x2="748.9" y2="642.91" stroke="#000" stroke-width="2.4"/>
<line x1="1109.9" y1="642.91" x2="1101.9" y2="642.91" stroke="#000" stroke-width="2.4"/>
<line x1="740.9" y1="613.96" x2="748.9" y2="613.96" stroke="#000" stroke-width="2.4"/>
<line x1="1109.9" y1="613.96" x2="1101.9" y2="613.96" stroke="#000" stroke-width="2.4"/>
<line x1="740.9" y1="593.42" x2="748.9" y2="593.42" stroke="#000" stroke-width="2.4"/>
<line x1="1109.9" y1="593.42" x2="1101.9" y2="593.42" stroke="#000" stroke-width="2.4"/>
<line x1="740.9" y1="577.49" x2="748.9" y2="577.49" stroke="#000" stroke-width="2.4"/>
<line x1="1109.9" y1="577.49" x2="1101.9" y2="577.49" stroke="#000" stroke-width="2.4"/>
<line x1="740.9" y1="564.47" x2="748.9" y2="564.47" stroke="#000" stroke-width="2.4"/>
<line x1="1109.9" y1="564.47" x2="1101.9" y2="564.47" stroke="#000" stroke-width="2.4"/>
<line x1="740.9" y1="553.47" x2="748.9" y2="553.47" stroke="#000" stroke-width="2.4"/>
<line x1="1109.9" y1="553.47" x2="1101.9" y2="553.47" stroke="#000" stroke-width="2.4"/>
<line x1="740.9" y1="543.93" x2="748.9" y2="543.93" stroke="#000" stroke-width="2.4"/>
<line x1="1109.9" y1="543.93" x2="1101.9" y2="543.93" stroke="#000" stroke-width="2.4"/>
<line x1="740.9" y1="535.52" x2="748.9" y2="535.52" stroke="#000" stroke-width="2.4"/>
<line x1="1109.9" y1="535.52" x2="1101.9" y2="535.52" stroke="#000" stroke-width="2.4"/>
<line x1="740.9" y1="528" x2="756.9" y2="528" stroke="#000" stroke-width="2.4"/>
<line x1="1109.9" y1="528" x2="1093.9" y2="528" stroke="#000" stroke-width="2.4"/>
<text x="723.5" y="535.5" font-size="31.2" text-anchor="end">100</text>
<line x1="740.9" y1="478.51" x2="748.9" y2="478.51" stroke="#000" stroke-width="2.4"/>
<line x1="1109.9" y1="478.51" x2="1101.9" y2="478.51" stroke="#000" stroke-width="2.4"/>
<line x1="740.9" y1="449.56" x2="748.9" y2="449.56" stroke="#000" stroke-width="2.4"/>
<line x1="1109.9" y1="449.56" x2="1101.9" y2="449.56" stroke="#000" stroke-width="2.4"/>
<text x="582" y="437" font-size="41" text-anchor="start">(d)</text>
<g transform="rotate(-90 666 655)">
<text x="666" y="655" font-size="43" text-anchor="start">T</text>
<text x="691.1" y="638.8" font-size="30.4" text-anchor="start">TLS</text>
<text x="691.1" y="664.9" font-size="30.4" text-anchor="start">1,min</text>
<text x="777.2" y="655" font-size="40.4" text-anchor="start">(ns)</text>
</g>
<text x="925" y="823.3" font-size="37.1" text-anchor="middle">Dipole moment (D)</text>
<text x="936.8" y="490" font-size="30.8" text-anchor="start">Oscillating</text>
<text x="944.5" y="527" font-size="30.8" text-anchor="start">decay</text>
<text x="781.5" y="655.2" font-size="31" text-anchor="start">Monotonic</text>
<text x="789.5" y="692" font-size="31" text-anchor="start">decay</text>
</svg>
</body>
</html>
